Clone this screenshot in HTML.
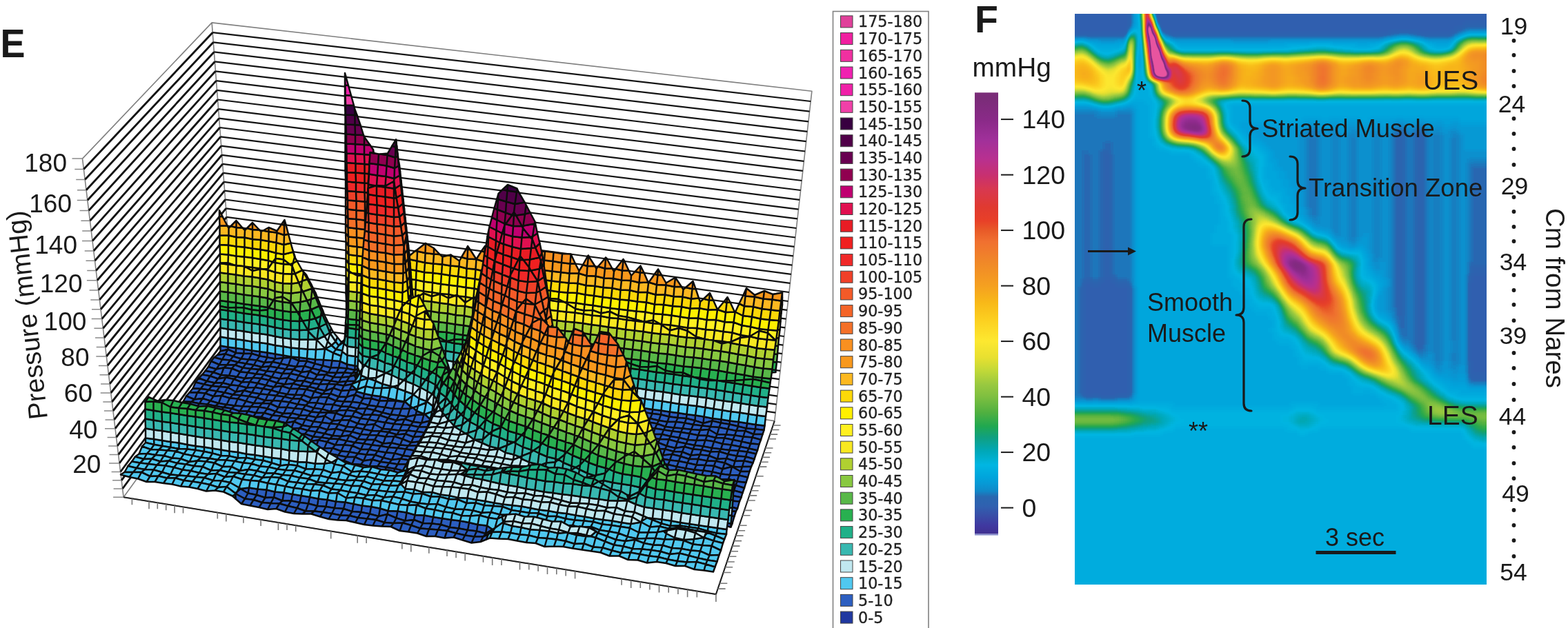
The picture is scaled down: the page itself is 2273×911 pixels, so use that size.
<!DOCTYPE html>
<html lang="en"><head><meta charset="utf-8"><title>Esophageal pressure topography</title>
<style>html,body{margin:0;padding:0;background:#fff;}body{width:2273px;height:911px;overflow:hidden;}svg{display:block;}</style>
</head><body>
<svg width="2273" height="911" viewBox="0 0 2273 911">
<rect width="2273" height="911" fill="#fff"/>
<!-- panel E: 3D surface -->
<path d="M179.1 721.2L342.3 496.3L307.1 32.9L119.5 230.1Z M342.3 496.3L1122.8 610.6L1176.9 132.2L307.1 32.9Z M179.1 721.2L1037.9 862.1L1122.8 610.6L342.3 496.3Z" fill="#fff" stroke="#808080" stroke-width="1.6" stroke-linejoin="round"/>
<path d="M177.6 709.0L341.4 484.7M176.1 696.8L340.5 473.0M174.6 684.5L339.7 461.2M173.1 672.0L338.8 449.4M171.6 659.6L337.8 437.5M170.1 647.0L336.9 425.6M168.6 634.4L336.0 413.6M167.0 621.7L335.1 401.5M165.5 608.9L334.2 389.3M163.9 596.0L333.3 377.1M162.3 583.0L332.3 364.8M160.7 570.0L331.4 352.4M159.1 556.9L330.4 340.0M157.5 543.7L329.5 327.5M155.9 530.4L328.5 314.9M154.3 517.0L327.6 302.3M152.7 503.5L326.6 289.5M151.0 490.0L325.6 276.7M149.4 476.3L324.6 263.9M147.7 462.6L323.7 250.9M146.0 448.8L322.7 237.9M144.3 434.9L321.7 224.8M142.6 420.9L320.7 211.6M140.9 406.8L319.7 198.4M139.2 392.6L318.7 185.0M137.5 378.3L317.6 171.6M135.7 364.0L316.6 158.1M134.0 349.5L315.6 144.5M132.2 334.9L314.5 130.9M130.4 320.3L313.5 117.1M128.6 305.5L312.4 103.3M126.8 290.6L311.4 89.4M125.0 275.7L310.3 75.4M123.2 260.6L309.3 61.3M121.3 245.4L308.2 47.2" fill="none" stroke="#141414" stroke-width="2.9"/>
<path d="M341.4 484.7L1124.2 598.6M340.5 473.0L1125.5 586.6M339.7 461.2L1126.9 574.6M338.8 449.4L1128.3 562.4M337.8 437.5L1129.6 550.2M336.9 425.6L1131.0 537.9M336.0 413.6L1132.4 525.6M335.1 401.5L1133.8 513.1M334.2 389.3L1135.2 500.6M333.3 377.1L1136.7 488.0M332.3 364.8L1138.1 475.4M331.4 352.4L1139.5 462.7M330.4 340.0L1141.0 449.8M329.5 327.5L1142.5 437.0M328.5 314.9L1143.9 424.0M327.6 302.3L1145.4 410.9M326.6 289.5L1146.9 397.8M325.6 276.7L1148.4 384.6M324.6 263.9L1149.9 371.3M323.7 250.9L1151.4 357.9M322.7 237.9L1152.9 344.5M321.7 224.8L1154.4 331.0M320.7 211.6L1156.0 317.3M319.7 198.4L1157.5 303.6M318.7 185.0L1159.1 289.8M317.6 171.6L1160.7 276.0M316.6 158.1L1162.3 262.0M315.6 144.5L1163.8 247.9M314.5 130.9L1165.4 233.8M313.5 117.1L1167.1 219.5M312.4 103.3L1168.7 205.2M311.4 89.4L1170.3 190.8M310.3 75.4L1172.0 176.3M309.3 61.3L1173.6 161.7M308.2 47.2L1175.3 147.0" fill="none" stroke="#141414" stroke-width="2.2"/>
<path d="M179.1 721.2h-15M177.6 709.0h-13M176.1 696.8h-13M174.6 684.5h-13M173.1 672.0h-15M171.6 659.6h-13M170.1 647.0h-13M168.6 634.4h-13M167.0 621.7h-15M165.5 608.9h-13M163.9 596.0h-13M162.3 583.0h-13M160.7 570.0h-15M159.1 556.9h-13M157.5 543.7h-13M155.9 530.4h-13M154.3 517.0h-15M152.7 503.5h-13M151.0 490.0h-13M149.4 476.3h-13M147.7 462.6h-15M146.0 448.8h-13M144.3 434.9h-13M142.6 420.9h-13M140.9 406.8h-15M139.2 392.6h-13M137.5 378.3h-13M135.7 364.0h-13M134.0 349.5h-15M132.2 334.9h-13M130.4 320.3h-13M128.6 305.5h-13M126.8 290.6h-15M125.0 275.7h-13M123.2 260.6h-13M121.3 245.4h-13M119.5 230.1h-15" fill="none" stroke="#8a8a8a" stroke-width="1.5"/>
<g transform="scale(0.5)" stroke="#0c0c0c" stroke-width="5.0" stroke-linejoin="round">
<path fill="#20b088" d="M2249 1074l0 6-26 2 1-11z"/>
<path fill="#28b050" d="M2252 1051l-3 23-25-3 2-23z"/>
<path fill="#58b848" d="M2254 1028l-2 23-26-3 2-23z"/>
<path fill="#88c840" d="M2256 1004l-2 24-26-3 2-24z"/>
<path fill="#b0d030" d="M2258 981l-2 23-26-3 3-23z"/>
<path fill="#f8e820" d="M2261 957l-3 24-25-3 2-24z"/>
<path fill="#fff020" d="M2263 933l-2 24-26-3 2-24z"/>
<path fill="#fff000" d="M2265 909l-2 24-26-3 2-24z"/>
<path fill="#fcd808" d="M2241 888l13-5 14 1-3 25-26-3z"/>
<path fill="#fcb820" d="M2254 883l14-6 0 7z"/>
<path fill="#50c8f0" d="M973 991l9 12 8-10-12-15zM982 1003l13-9 8-12-13 11z"/>
<path fill="#c0e8f0" d="M956 965l1 2 9-4-6-11zM957 967l16 24 5-13-12-15zM995 994l9-6 8-14-9 8z"/>
<path fill="#38b8b0" d="M946 939l10 26 4-13-13-25z"/>
<path fill="#20b088" d="M935 908l5 4-4-11zM935 914l11 25 1-12-7-15-5-4z"/>
<path fill="#28b050" d="M925 888l7 17 3 3 1-7-11-26zM932 905l3 9 0-6z"/>
<path fill="#58b848" d="M915 863l10 25 0-13-10-25z"/>
<path fill="#88c840" d="M905 837l0 1 10 12-13-26zM905 838l10 25 0-13z"/>
<path fill="#b0d030" d="M891 810l14 27-3-13-13-25-1-1z"/>
<path fill="#f8e820" d="M876 784l4 6 8 8 0-1-24-26 0-1zM880 790l11 20-3-12z"/>
<path fill="#fff000" d="M850 731l4 15 3 7-2-9-9-26z"/>
<path fill="#fcb820" d="M2268 864l0 13-14 6-13 0 0-19z"/>
<path fill="#f8981c" d="M2241 854l27-5 0 15-27 0z"/>
<path fill="#50c8f0" d="M961 1002l13 12 8-11-9-12zM974 1014l23 4 4-18-6-6-13 9z"/>
<path fill="#c0e8f0" d="M941 975l9 16 7-24-1-2zM950 991l11 11 12-11-16-24zM1001 1000l3-12-9 6z"/>
<path fill="#38b8b0" d="M926 949l15 26 15-10-10-26z"/>
<path fill="#20b088" d="M914 924l11 23 5-30zM925 947l1 2 20-10-11-25-5 3z"/>
<path fill="#28b050" d="M902 898l12 26 16-7 2-12-7-17zM935 914l-3-9-2 12z"/>
<path fill="#58b848" d="M890 872l9 20 3-24zM899 892l3 6 23-10-10-25-13 5zM1004 912l1-24-1-13 0 24z"/>
<path fill="#88c840" d="M878 846l12 26 12-4 3-30 0-1zM915 863l-10-25-3 30zM1005 888l2-24-4-13 1 24z"/>
<path fill="#b0d030" d="M866 820l7 17 3-22zM873 837l5 9 27-9-14-27-15 5zM1007 864l1-24-5-14 0 25zM2093 997l18-4-17-3zM2070 988l23 9 1-7z"/>
<path fill="#f8e820" d="M709 773l23 13 0-10zM732 786l22-5 0-2-22-3zM855 794l11 26 10-5 4-25-4-6zM891 810l-11-20-4 25zM1008 840l2-25-7-14 0 25zM1180 850l24 16 1-26-24-3zM1204 866l24-15 0-6-23-5zM1228 851l24 9 1-12-25-3zM1252 860l24-7 0-1-23-4zM1276 853l24 12 1-11-25-2zM1300 865l19-7-18-4zM1329 859l20 19 1-17zM1349 878l21-13-20-4zM2146 980l27-3 0-1-26-4zM2119 992l27-12 1-8-24-7zM2111 993l8-1 4-27-26-3-3 28zM2068 987l2 1 24 2 3-28-25-4zM2055 986l13 1 4-29-26-2-3 28zM2018 977l21 6 4 1 3-28-25-4zM1993 960l25 17 3-25-27-1zM1968 952l25 8 1-9-25-4zM1942 959l26-7 1-5-25-4zM1918 943l24 16 2-16-26-2z"/>
<path fill="#fff020" d="M638 763l23 0 1-24-24-2zM661 763l17 6 7 1 0-27-23-4zM702 772l6 1 0-28-23-2 0 27zM708 773l1 0 23 3 0-28-24-3zM754 779l1-27-23-4 0 28zM764 781l13-1 1-24-23-4-1 27zM777 780l14-20-13-4zM840 767l7 5 2-8zM847 772l8 22 21-10-15-27-12 7zM1010 815l2-25-9-13 0 24zM1020 792l16 8 0-6zM1036 800l24-1 0-2-24-3zM1205 840l1-28-24-3-1 28zM1228 845l1-28-23-5-1 28zM1253 848l1-28-25-3-1 28zM1276 852l2-28-24-4-1 28zM1301 854l1-27-24-3-2 28zM1319 858l6-2 1-26-24-3-1 27zM1325 856l4 3 21 2 1-27-25-4zM1370 865l3-2 2-26-24-3-1 27zM1373 863l24 0 2-21-24-5zM2226 966l22 21 2 0 4-28-27-2zM2201 960l25 6 1-9-26-3zM2174 976l27-16 0-6-25-6-3 28zM2173 976l3-28-25-4-4 28zM2147 972l4-28-24-9-4 30zM2123 965l4-30-26-1-4 28zM2097 962l4-28-25-6-4 30zM2072 958l4-30-27 0-3 28zM2046 956l3-28-25-5-3 29zM2021 952l3-29-27 0-3 28zM1994 951l3-28-25-4-3 28zM1969 947l3-28-25-4-3 28zM1944 943l3-28-26-3-3 29zM1894 929l20 11 4 1 3-29-26-2zM1868 934l26-5 1-19-24-5zM1843 927l25 7 3-29-26-2zM1818 920l25 7 2-24-25-3zM1793 916l25 4 2-20-25-3zM1768 904l25 12 2-19-26-3zM1743 909l25-5 1-10-25-4zM1718 900l25 9 1-19-25-4zM1693 901l25-1 1-14-24-3zM1668 896l25 5 2-18-25-4zM1644 881l24 15 2-17-26-2zM1635 876l9 5 0-4z"/>
<path fill="#fff000" d="M662 739l0-28-25-1 1 27zM685 743l0-28-23-4 0 28zM708 745l1-28-24-2 0 28zM732 748l0-27-23-4-1 28zM755 752l0-28-23-3 0 27zM778 756l0-28-23-4 0 28zM791 760l8-10 1-16-22-6 0 28zM799 750l23 3 0-15-22-4zM822 753l18 14 9-3 5-18-4-15-28 7zM861 757l-7-11-5 18zM1012 790l0-3-1-22-8-13 0 25zM1012 787l8 5 16 2-1-26-24-3zM1060 797l-1-26-24-3 1 26zM1206 812l1-27-23-4-2 28zM1229 817l1-27-23-5-1 27zM1254 820l1-28-25-2-1 27zM1278 824l2-29-25-3-1 28zM1302 827l2-28-24-4-2 29zM1326 830l2-28-24-3-2 28zM1351 834l1-28-24-4-2 28zM1375 837l2-28-25-3-1 28zM1399 842l1-28-23-5-2 28zM2254 959l4-29-27-2-4 29zM2227 957l4-29-26-3-4 29zM2201 954l4-29-25-6-4 29zM2176 948l4-29-26-3-3 28zM2151 944l3-28-22-11-1 2-4 28zM2127 935l4-28-1-2-26 1-3 28zM2101 934l3-28-24-8-4 30zM2076 928l4-30-27 1-4 29zM2049 928l4-29-25-5-4 29zM2024 923l4-29-27 1-4 28zM1997 923l4-28-25-5-4 29zM1972 919l4-29-26-2-3 27zM1947 915l3-27-26-4-3 28zM1921 912l3-28-26-1-3 27zM1895 910l3-27-24-6-3 28zM1871 905l3-28-26-2-3 28zM1845 903l3-28-25-4-3 29zM1820 900l3-29-26-2-2 28zM1795 897l2-28-25-4-3 29zM1769 894l3-29-25-3-3 28zM1744 890l3-28-25-4-3 28zM1719 886l3-28-25-3-2 28zM1695 883l2-28-24-5-3 29zM1670 879l3-29-27-1-2 28zM1619 868l16 8 9 1 2-28-25-2zM1595 866l24 2 2-21-25-4zM1570 859l25 7 1-23-25-3z"/>
<path fill="#fcd808" d="M662 711l1-28-26 0 0 27zM685 715l0-27-22-5-1 28zM709 717l0-28-24-1 0 27zM732 721l0-27-23-5 0 28zM755 724l1-28-24-2 0 27zM778 728l1-28-23-4-1 28zM800 734l1-30-22-4-1 28zM822 738l1-28-22-6-1 30zM850 731l-7-26-20 5-1 28zM1011 765l0-26-8-13 0 26zM1035 768l0-26-24-3 0 26zM1059 771l0-26-24-3 0 26zM1207 785l2-28-24-5-1 29zM1230 790l2-28-23-5-2 28zM1255 792l1-27-24-3-2 28zM1280 795l2-28-26-2-1 27zM1304 799l2-28-24-4-2 28zM1328 802l3-29-25-2-2 28zM1352 806l1-27-22-6-3 29zM1377 809l2-28-26-2-1 27zM1400 814l2-27-23-6-2 28zM2258 930l3-28-26-3-4 29zM2231 928l4-29-26-3-4 29zM2205 925l4-29-25-6-4 29zM2180 919l4-29-26-2-4 28zM2154 916l4-28-15-7-11 24zM2130 905l-13-28-10 1-3 28zM2104 906l3-28-8-3-19 23zM2080 898l-12-27-12 0-3 28zM2053 899l3-28-16-4-10 9-2 18zM2028 894l2-18-4-11-22 2-3 28zM2001 895l3-28-25-6-3 29zM1976 890l3-29-26-1-3 28zM1950 888l3-28-25-5-4 29zM1924 884l4-29-27 0-3 28zM1898 883l3-28-24-7-3 29zM1874 877l3-29-27 0-2 27zM1848 875l2-27-24-6-3 29zM1823 871l3-29-27-1-2 28zM1797 869l2-28-24-5-3 29zM1772 865l3-29-26-2-2 28zM1747 862l2-28-24-4-3 28zM1722 858l3-28-26-2-2 27zM1697 855l2-27-24-6-2 28zM1673 850l2-28-26-1-3 28zM1646 849l3-28-26-3-2 29zM1621 847l2-29-24-3-3 28zM1596 843l3-28-25-3-3 28z"/>
<path fill="#fcb820" d="M663 683l0-21-4-7-22 0 0 28zM685 688l0-28-16-4-6 6 0 21zM709 689l1-21-7-7-18-1 0 28zM732 694l0-28-16-4-6 6-1 21zM756 696l1-24-5-5-20-1 0 28zM779 700l0-28-16-3-6 3-1 24zM801 704l2-29-24-3 0 28zM823 710l1-28-21-7-2 29zM843 705l-7-26-12 3-1 28zM1011 739l-1-26-7-12 0 25zM1035 742l0-26-25-3 1 26zM1059 745l0-26-24-3 0 26zM1209 757l1-28-6-1-18 15-1 9zM1232 762l1-28-23-5-1 28zM1256 765l2-28-25-3-1 28zM1282 767l1-22-8-7-17-1-2 28zM1306 771l1-29-8-1-16 4-1 22zM1331 773l1-16-20-14-5-1-1 29zM1353 779l2-28-17-5-6 11-1 16zM1379 781l2-29-26-1-2 28zM1402 787l1-28-22-7-2 29zM2261 902l4-29-26-4-4 30zM2235 899l4-30-26-2-4 29zM2209 896l4-29-25-6-4 29zM2184 890l4-29-27-2-3 29zM2158 888l3-29-6-3-12 25zM2117 877l-8-15-2 16zM2107 878l2-16-10 13zM2068 871l-10-21-2 21zM2056 871l2-21-18 17zM2026 865l-9-27-10 0-3 29zM2004 867l3-29-19-4-7 6-2 21zM1979 861l2-21-5-8-21 0-2 28zM1953 860l2-28-24-5-3 28zM1928 855l3-28-27-1-3 29zM1901 855l3-29-23-7-1 2-3 27zM1877 848l3-27-1-2-26 1-3 28zM1850 848l3-28-24-6-3 28zM1826 842l3-28-27-1-3 28zM1799 841l3-28-24-5-3 28zM1775 836l3-28-27-1-2 27zM1749 834l2-27-24-6-2 29zM1725 830l2-29-26-1-2 28zM1699 828l2-28-23-7-3 29zM1675 822l3-29-27 0-2 28zM1649 821l2-28-25-3-3 28zM1623 818l3-28-25-3-2 28zM1599 815l2-28-25-3-2 28z"/>
<path fill="#f8981c" d="M659 655l-14-27-9 0 1 27zM685 660l0-20-16 16zM703 661l-18-21 0 20zM732 666l0-20-16 16zM752 667l-20-21 0 20zM779 672l0-12-16 9zM803 675l0-5-24-10 0 12zM824 682l0-29-8-2-13 19 0 5zM836 679l-7-27-5 1 0 29zM1010 713l0-26-8-11 1 25zM1035 716l-1-27-24-2 0 26zM1059 719l0-27-25-3 1 27zM1210 729l0-5-6 4zM1233 734l1-27-1-1-23 18 0 5zM1258 737l0-17-23-13-1 0-1 27zM1275 738l-17-18 0 17zM1307 742l0-3-8 2zM1312 743l-5-4 0 3zM1355 751l1-27-4-2-14 24zM1381 752l-18-28-7 0-1 27zM1403 759l2-28-9-3-15 24zM2265 873l3-24-27 5-2 15zM2239 869l2-15-25-10-3 23zM2213 867l3-23-28 12 0 5zM2188 861l0-5-24-20-3 23zM2161 859l3-23-9 20zM2017 838l-8-22-2 22zM2007 838l2-22-21 18zM1976 832l-18-27-3 27zM1955 832l3-27-27 16 0 6zM1931 827l0-6-13-23-11 0-3 28zM1904 826l3-28-9-3-17 24zM1879 819l-12-28-11 0-3 29zM1853 820l3-29-15-3-11 12-1 14zM1829 814l1-14-7-15-19 0-2 28zM1802 813l2-28-19-5-5 8-2 20zM1778 808l2-20-5-9-21 0-3 28zM1751 807l3-28-20-6-5 7-2 21zM1727 801l2-21-4-8-22 0-2 28zM1701 800l2-28-13-4-11 18-1 7zM1678 793l1-7-11-21-15 0-2 28zM1651 793l2-28-25-3-2 28zM1626 790l2-28-25-4-2 29zM1601 787l2-29-25-3-2 29zM1576 784l2-29-25-4-2 28z"/>
<path fill="#f89020" d="M645 628l-9-18 0 18zM824 653l1-15-9 13zM829 652l-4-14-1 15zM1010 687l-1-27-7-10 0 26zM1034 689l0-26-25-3 1 27zM1059 692l-1-26-24-3 0 26zM1234 707l0-1-1 0zM1235 707l-1-1 0 1zM1356 724l0-10-4 8zM1363 724l-7-10 0 10zM1405 731l1-17-10 14zM1430 733l0-5-24-14-1 17zM1918 798l-10-17-1 17zM1907 798l1-17-10 14zM1867 791l-10-20-1 20zM1856 791l1-20-16 17zM1823 785l-13-28-3 0-3 28zM1804 785l3-28-3-1-19 24zM1775 779l-16-29-3 0-2 29zM1754 779l2-29-2 0-20 23zM1725 772l-18-28-1 0-3 28zM1703 772l3-28-2-1-14 25zM1668 765l-13-28-2 28zM1653 765l2-28-25-1-2 26zM1628 762l2-26-25-4-2 26zM1603 758l2-26-25-3-2 26zM1578 755l2-26-25 3-2 19z"/>
<path fill="#f47028" d="M1009 660l0-26-7-10 0 26zM1034 663l-1-27-24-2 0 26zM1058 666l0-27-25-3 1 27zM1083 668l0-26-25-3 0 27zM1810 757l-3-5 0 5zM1807 757l0-5-3 4zM1759 750l-3-3 0 3zM1756 750l0-3-2 3zM1707 744l-1-3 0 3zM1706 744l0-3-2 2z"/>
<path fill="#f46428" d="M1009 634l-1-27-6-9 0 26zM1033 636l0-26-25-3 1 27zM1058 639l0-27-25-2 0 26zM1083 642l0-27-25-3 0 27z"/>
<path fill="#f45a28" d="M1008 607l0-26-6-9 0 26zM1033 610l0-27-25-2 0 26zM1058 612l0-27-25-2 0 27zM1083 615l0-27-25-3 0 27z"/>
<path fill="#f04028" d="M1008 581l-1-27-5-8 0 26zM1033 583l-1-27-25-2 1 27zM1058 585l-1-27-25-2 1 27zM1083 588l-1-28-25-2 1 27z"/>
<path fill="#f02828" d="M1007 554l-1-27-4-7 0 26zM1032 556l0-27-26-2 1 27zM1057 558l0-27-25-2 0 27zM1082 560l0-27-25-2 0 27z"/>
<path fill="#f02020" d="M1006 527l0-27-5-7 1 27zM1032 529l-1-28-25-1 0 27zM1057 531l0-28-26-2 1 28zM1082 533l0-27-25-3 0 28z"/>
<path fill="#e81c24" d="M1006 500l-1-28-4-6 0 27zM1031 501l0-27-26-2 1 28zM1057 503l0-27-26-2 0 27zM1082 506l0-28-25-2 0 27z"/>
<path fill="#e01050" d="M1005 472l0-27-4-6 0 27zM1031 474l-1-28-25-1 0 27zM1057 476l-1-28-26-2 1 28zM1082 478l0-28-26-2 1 28z"/>
<path fill="#c00070" d="M1005 445l-1-28-3-5 0 27zM1030 446l0-28-26-1 1 28zM1056 448l0-28-26-2 0 28zM1082 450l0-16-9-13-17-1 0 28zM1085 450l-3-16 0 16z"/>
<path fill="#900050" d="M1004 417l0-28-3-4 0 27zM1030 418l0-27-26-2 0 28zM1056 420l0-23-2-5-24-1 0 27zM1073 421l-17-24 0 23z"/>
<path fill="#680050" d="M1004 389l-1-28-2-3 0 27zM1030 391l-1-29-26-1 1 28zM1054 392l-9-29-16-1 1 29z"/>
<path fill="#500048" d="M1003 361l-1-28-1-3 0 28zM1029 362l0-28-27-1 1 28zM1045 363l-10-29-6 0 0 28z"/>
<path fill="#380040" d="M1002 333l0-28-2-2 1 27zM1029 334l-1-19-2-9-24-1 0 28zM1035 334l-7-19 1 19z"/>
<path fill="#f040a8" d="M1002 305l-1-29-1-1 0 28zM1026 306l-8-29-17-1 1 29z"/>
<path fill="#f020a8" d="M1001 276l0-29-1 0 0 28zM1018 277l-8-29-9-1 0 29z"/>
<path fill="#f020b0" d="M1001 247l-1-29 0 29zM1010 248l-8-29-2-1 1 29z"/>
<path fill="#f030a0" d="M1002 219l-2-7 0 6z"/>
<path fill="#50c8f0" d="M943 1012l23 12 8-10-13-12zM966 1024l23 9 8-15-23-4z"/>
<path fill="#c0e8f0" d="M918 986l25 26 7-21-9-16-22 10zM943 1012l18-10-11-11z"/>
<path fill="#38b8b0" d="M894 962l23 23 2 0 5-35-30 7zM941 975l-15-26-2 1-5 35zM997 997l5-24-1-13-2 24z"/>
<path fill="#20b088" d="M877 931l15 26 2 0 3-29zM924 950l1-3-11-23-17 4-3 29zM926 949l-1-2-1 3zM1002 973l5-23-5-14-1 24zM2054 1104l25 0-25-4zM2029 1100l25 4 0-4-25-4zM2011 1094l18 6 0-4z"/>
<path fill="#28b050" d="M638 888l23 5 0-18-23-3zM661 893l23-1 0-14-23-3zM684 892l23 1 0-11-23-4zM707 893l23 6 0-14-23-3zM730 899l23 2 0-13-23-3zM753 901l23-2 0-7-23-4zM776 899l3-6-3-1zM862 905l7 12 0-13zM869 917l8 14 20-3 2-29-30 5zM914 924l-12-26-3 1-2 29zM1007 950l2-8 0-17-5-13-2 24zM1009 942l24 1 0-15-24-3zM1033 943l23 3 0-14-23-4zM1246 973l24 4 0-15-23-4zM1270 977l24 14 1-27-25-2zM1294 991l23-6 1-17-23-4zM1317 985l24 0 1-13-24-4zM1341 985l25 8 1-18-25-3zM2208 1105l25 6 2-12-26-3zM2183 1100l25 5 1-9-26-3zM2157 1102l26-2 0-7-25-5zM2131 1104l26-2 1-14-25-4zM2105 1105l26-1 2-20-25-4zM2086 1105l19 0 3-25-25-5-4 29zM2079 1104l4-29-25-3-4 28zM2054 1100l4-28-25-4-4 28zM2004 1092l7 2 18 2 4-28-26-3zM1980 1081l24 11 3-27-25-2zM1954 1080l26 1 2-18-25-4zM1929 1075l25 5 3-21-25-4zM1905 1062l24 13 3-20-26-2zM1880 1065l25-3 1-9-25-4zM1855 1064l25 1 1-16-24-4zM1830 1056l25 8 2-19-26-3zM1806 1047l24 9 1-14-25-3z"/>
<path fill="#58b848" d="M661 875l0-27-23-3 0 27zM684 878l0-27-23-3 0 27zM707 882l0-27-23-4 0 27zM730 885l1-27-24-3 0 27zM753 888l0-27-22-3-1 27zM776 892l0-27-23-4 0 27zM779 893l14-22-17-6 0 27zM845 879l17 26 7-1 2-28zM899 899l0-7-9-20-19 4-2 28zM902 898l-3-6 0 7zM1009 925l1-27-5-10-1 24zM1033 928l1-27-24-3-1 27zM1056 932l1-27-23-4-1 27zM1270 962l2-28-24-3-1 27zM1295 964l1-27-24-3-2 28zM1318 968l2-27-24-4-1 27zM1342 972l2-28-24-3-2 27zM1367 975l1-27-24-4-2 28zM2235 1099l4-28-26-2-4 27zM2209 1096l4-27-26-4-4 28zM2183 1093l4-28-25-5-4 28zM2158 1088l4-28-25-4-4 28zM2133 1084l4-28-25-5-4 29zM2108 1080l4-29-25-4-4 28zM2083 1075l4-28-26-3-3 28zM2058 1072l3-28-25-4-3 28zM2033 1068l3-28-25-3-4 28zM2007 1065l4-28-26-2-3 28zM1982 1063l3-28-25-4-3 28zM1957 1059l3-28-25-4-3 28zM1932 1055l3-28-26-2-3 28zM1906 1053l3-28-25-4-3 28zM1881 1049l3-28-25-4-2 28zM1857 1045l2-28-25-3-3 28zM1831 1042l3-28-25-3-3 28zM1806 1039l3-28-25-3-2 27zM1732 1028l3-27-25-4-3 28zM1658 1017l3-27-25-3-3 27z"/>
<path fill="#88c840" d="M661 848l0-27-23-3 0 27zM684 851l0-27-23-3 0 27zM707 855l0-27-23-4 0 27zM731 858l0-28-24-2 0 27zM753 861l1-27-23-4 0 28zM776 865l1-27-23-4-1 27zM793 871l4-6 0-20-20-7-1 27zM797 865l22-4 1-12-23-4zM819 861l24 15 1-25-24-2zM843 876l2 3 26-3 2-29-29 4zM890 872l-12-26-5 1-2 29zM1010 898l0-26-3-8-2 24zM1034 901l0-26-24-3 0 26zM1057 905l1-27-24-3 0 26zM1248 931l2-28-25-3-1 28zM1272 934l1-27-23-4-2 28zM1296 937l2-28-25-2-1 27zM1320 941l1-27-23-5-2 28zM1344 944l2-28-25-2-1 27zM1368 948l2-27-24-5-2 28zM2239 1071l3-28-26-2-3 28zM2213 1069l3-28-25-3-4 27zM2187 1065l4-27-25-6-4 28zM2162 1060l4-28-26-4-3 28zM2137 1056l3-28-25-5-3 28zM2112 1051l3-28-25-4-3 28zM2087 1047l3-28-25-3-4 28zM2061 1044l4-28-26-4-3 28zM2036 1040l3-28-25-3-3 28zM2011 1037l3-28-26-2-3 28zM1985 1035l3-28-25-4-3 28zM1960 1031l3-28-25-4-3 28zM1935 1027l3-28-26-2-3 28zM1909 1025l3-28-25-3-3 27zM1884 1021l3-27-25-4-3 27zM1859 1017l3-27-25-3-3 27zM1834 1014l3-27-25-3-3 27zM1809 1011l3-27-25-4-3 28zM1784 1008l3-28-25-3-3 27zM1735 1001l2-28-25-3-2 27zM1710 997l2-27-24-4-3 28zM1661 990l2-28-25-2-2 27zM1636 987l2-27-25-3-2 27z"/>
<path fill="#b0d030" d="M661 821l0-27-23-3 0 27zM684 824l0-27-23-3 0 27zM707 828l0-27-23-4 0 27zM731 830l0-27-24-2 0 27zM754 834l0-27-23-4 0 27zM777 838l0-27-23-4 0 27zM797 845l0-27-20-7 0 27zM820 849l0-27-23-4 0 27zM844 851l1-28-25-1 0 27zM873 847l0-10-7-17-21 3-1 28zM878 846l-5-9 0 10zM1010 872l1-27-3-5-1 24zM1034 875l1-27-24-3-1 27zM1058 878l0-27-23-3-1 27zM1250 903l1-28-24-2-2 27zM1273 907l2-28-24-4-1 28zM1298 909l1-27-24-3-2 28zM1321 914l2-27-24-5-1 27zM1346 916l2-28-25-1-2 27zM1370 921l1-28-23-5-2 28zM1394 924l1-27-24-4-1 28zM2242 1043l4-28-26-2-4 28zM2216 1041l4-28-26-3-3 28zM2191 1038l3-28-25-6-3 28zM2166 1032l3-28-25-4-4 28zM2140 1028l4-28-25-5-4 28zM2115 1023l4-28-8-2-18 4-3 22zM2090 1019l3-22-23-9-2-1-3 29zM2065 1016l3-29-13-1-12-2-4 28zM2039 1012l4-28-4-1-22-2-3 28zM2014 1009l3-28-26-2-3 28zM1988 1007l3-28-25-3-3 27zM1963 1003l3-27-25-5-3 28zM1938 999l3-28-26-2-3 28zM1912 997l3-28-25-3-3 28zM1887 994l3-28-25-4-3 28zM1862 990l3-28-25-3-3 28zM1837 987l3-28-26-3-2 28zM1812 984l2-28-25-4-2 28zM1787 980l2-28-25-3-2 28zM1762 977l2-28-24-4-3 28zM1737 973l3-28-25-3-3 28zM1712 970l3-28-25-4-2 28zM1688 966l2-28-25-3-2 27zM1663 962l2-27-25-2-2 27zM1638 960l2-27-25-3-2 27zM1613 957l2-27-25-4-2 28z"/>
<path fill="#f8e820" d="M661 794l0-27-23-3 0 27zM684 797l1-26-7-2-17-2 0 27zM707 801l1-28-6-1-17-1-1 26zM731 803l1-17-23-13-1 0-1 28zM754 807l0-26-22 5-1 17zM777 811l0-28-13-2-10 0 0 26zM797 818l1-28-21-7 0 28zM820 822l1-28-23-4-1 28zM845 823l1-28-25-1-1 28zM866 820l-11-26-9 1-1 28zM1011 845l0-27-1-3-2 25zM1035 848l0-28-24-2 0 27zM1058 851l1-27-24-4 0 28zM1227 873l1-22-24 15 0 1zM1251 875l1-15-24-9-1 22zM1275 879l1-26-24 7-1 15zM1299 882l1-17-24-12-1 26zM1323 887l1-28-5-1-19 7-1 17zM1348 888l1-10-20-19-5 0-1 28zM1371 893l2-27-3-1-21 13-1 10zM1395 897l2-28-24-3-2 27zM2246 1015l4-27-2-1-24-2-4 28zM2220 1013l4-28-26-3-4 28zM2194 1010l4-28-24-6-1 1-4 27zM2169 1004l4-27-27 3-2 20zM2144 1000l2-20-27 12 0 3zM2119 995l0-3-8 1zM2039 983l-21-6-1 4zM2017 981l1-4-25-17-2 19zM1991 979l2-19-25-8-2 24zM1966 976l2-24-26 7-1 12zM1941 971l1-12-24-16-3 26zM1915 969l3-26-4-3-21-2-3 28zM1890 966l3-28-25-4-3 28zM1865 962l3-28-26-3-2 28zM1840 959l2-28-25-3-3 28zM1814 956l3-28-25-4-3 28zM1789 952l3-28-25-2-3 27zM1764 949l3-27-25-5-2 28zM1740 945l2-28-25-2-2 27zM1715 942l2-27-25-4-2 27zM1690 938l2-27-25-4-2 28zM1665 935l2-28-25-2-2 28zM1640 933l2-28-25-3-2 28zM1615 930l2-28-25-3-2 27z"/>
<path fill="#fff020" d="M661 767l0-4-23 0 0 1zM678 769l-17-6 0 4zM777 783l0-3-13 1zM798 790l0-28-7-2-14 20 0 3zM821 794l1-28-24-4 0 28zM846 795l1-23-7-5-18-1-1 28zM855 794l-8-22-1 23zM1011 818l1-27 0-1-2 25zM1035 820l1-20-16-8-8-1-1 27zM1059 824l1-25-24 1-1 20zM1324 859l1-3-6 2zM1329 859l-4-3-1 3zM1373 866l0-3-3 2zM1397 869l0-6-24 0 0 3zM2248 987l-22-21-2 19zM2224 985l2-19-25-6-3 22zM2198 982l3-22-27 16zM1914 940l-20-11-1 9zM1893 938l1-9-26 5zM1868 934l-25-7-1 4zM1842 931l1-4-25-7-1 8zM1817 928l1-8-25-4-1 8zM1792 924l1-8-25-12-1 18zM1767 922l1-18-25 5-1 8zM1742 917l1-8-25-9-1 15zM1717 915l1-15-25 1-1 10zM1692 911l1-10-25-5-1 11zM1667 907l1-11-24-15-2 24zM1642 905l2-24-9-5-16-1-2 27zM1617 902l2-27-25-4-2 28zM1592 899l2-28-25-3-2 28z"/>
<path fill="#fff000" d="M798 762l1-12-8 10zM822 766l0-13-23-3-1 12zM840 767l-18-14 0 13zM1020 792l-8-5 0 4zM1635 876l-16-8 0 7zM1619 875l0-7-24-2-1 5zM1594 871l1-5-25-7-1 9z"/>
<path fill="#2c5ec0" d="M639 1019l22-5 0-7-22-4zM661 1014l23 10 0-14-23-3zM684 1024l23 2 0-13-23-3zM707 1026l23 0 0-9-23-4zM730 1026l23 7 0-13-23-3zM753 1033l22 4 0-14-22-3zM775 1037l23 4 0-14-23-4zM798 1041l23-2 0-8-23-4zM821 1039l23-2 0-2-23-4zM844 1037l23 10 0-10-23-2zM867 1047l23 1 0-8-23-3zM890 1048l23 7 1-12-24-3zM913 1055l23 6 2-17-24-1zM936 1061l23 6 4-21-25-2zM959 1067l23 0 4-19-23-2zM982 1067l24 2 0-12-20-9zM1006 1069l23 5 0-13-23-4zM1029 1074l23-9-23-4zM2190 1245l25 3 2-13-26-3zM2164 1243l26 2 1-13-25-4zM2140 1237l24 6 2-15-25-4zM2115 1231l25 6 1-13-25-3zM2090 1227l25 4 1-10-25-4zM2065 1221l25 6 1-10-25-3zM2039 1228l26-7 1-7-25-5zM2015 1220l24 8 2-19-25-4zM1990 1214l25 6 1-15-25-3zM1965 1212l25 2 1-12-25-4zM1940 1209l25 3 1-14-24-3zM1916 1203l24 6 2-14-25-4zM1891 1200l25 3 1-12-25-3zM1866 1196l25 4 1-12-25-4z"/>
<path fill="#50c8f0" d="M661 1007l0-26-22-4 0 26zM684 1010l0-26-23-3 0 26zM707 1013l0-26-23-3 0 26zM730 1017l0-26-23-4 0 26zM753 1020l0-26-23-3 0 26zM775 1023l1-26-23-3 0 26zM798 1027l0-25-22-5-1 26zM821 1031l0-26-23-3 0 25zM844 1035l0-26-23-4 0 26zM867 1037l0-26-23-2 0 26zM890 1040l2-27-25-2 0 26zM914 1043l2-29-24-1-2 27zM938 1044l4-32-26 2-2 29zM963 1046l3-22-23-12-1 0-4 32zM986 1048l3-15-23-9-3 22zM1006 1057l1-26-15-11-3 13-3 15zM1029 1061l1-27-23-3-1 26zM1052 1065l1-26-23-5-1 27zM2217 1235l3-27-25-3-4 27zM2191 1232l4-27-25-4-4 27zM2166 1228l4-27-25-4-4 27zM2141 1224l4-27-26-3-3 27zM2116 1221l3-27-25-4-3 27zM2091 1217l3-27-25-4-3 28zM2066 1214l3-28-24-4-4 27zM2041 1209l4-27-25-4-4 27zM2016 1205l4-27-26-3-3 27zM1991 1202l3-27-25-3-3 26zM1966 1198l3-26-24-4-3 27zM1942 1195l3-27-25-4-3 27zM1917 1191l3-27-25-3-3 27zM1892 1188l3-27-25-4-3 27zM1867 1184l3-27-24-4-3 27z"/>
<path fill="#c0e8f0" d="M661 981l0-26-22-4 0 26zM684 984l0-26-23-3 0 26zM707 987l0-26-23-3 0 26zM730 991l0-26-23-4 0 26zM753 994l0-26-23-3 0 26zM776 997l0-26-23-3 0 26zM798 1002l0-26-22-5 0 26zM821 1005l-1-25-22-4 0 26zM844 1009l-1-26-23-3 1 25zM867 1011l1-26-25-2 1 26zM892 1013l1-28-25 0-1 26zM916 1014l2-28-1-1-24 0-1 28zM942 1012l1 0-25-26-2 28zM1007 1031l0-26-10-8-5 23zM1030 1034l1-26-24-3 0 26zM1053 1039l1-27-23-4-1 26zM1313 1076l1-27-23-4-2 27zM1337 1079l1-26-24-4-1 27zM2220 1208l4-27-26-3-3 27zM2195 1205l3-27-25-4-3 27zM2170 1201l3-27-25-4-3 27zM2145 1197l3-27-25-4-4 28zM2119 1194l4-28-25-3-4 27zM2094 1190l4-27-25-4-4 27zM2069 1186l4-27-25-5-3 28zM2045 1182l3-28-25-3-3 27zM2020 1178l3-27-25-3-4 27zM1994 1175l4-27-26-3-3 27zM1969 1172l3-27-24-4-3 27zM1945 1168l3-27-25-4-3 27zM1920 1164l3-27-25-3-3 27zM1895 1161l3-27-25-4-3 27zM1870 1157l3-27-25-4-2 27zM1846 1153l2-27-24-3-3 27z"/>
<path fill="#38b8b0" d="M661 955l0-27-22-3 0 26zM684 958l0-27-23-3 0 27zM707 961l0-26-23-4 0 27zM730 965l0-27-23-3 0 26zM753 968l0-27-23-3 0 27zM776 971l0-26-23-4 0 27zM798 976l-1-26-21-5 0 26zM820 980l0-26-23-4 1 26zM843 983l0-26-23-3 0 26zM868 985l0-27-25-1 0 26zM893 985l1-23-2-5-24 1 0 27zM917 985l-23-23-1 23zM1007 1005l1-27-6-5-5 24zM1031 1008l0-27-23-3-1 27zM1054 1012l1-27-24-4 0 27zM1291 1045l1-27-24-2-2 26zM1314 1049l2-27-24-4-1 27zM1338 1053l1-27-23-4-2 27zM2224 1181l3-27-25-3-4 27zM2198 1178l4-27-25-4-4 27zM2173 1174l4-27-26-4-3 27zM2148 1170l3-27-25-4-3 27zM2123 1166l3-27-25-4-3 28zM2098 1163l3-28-25-4-3 28zM2073 1159l3-28-25-4-3 27zM2048 1154l3-27-25-3-3 27zM2023 1151l3-27-25-4-3 28zM1998 1148l3-28-25-3-4 28zM1972 1145l4-28-25-3-3 27zM1948 1141l3-27-25-4-3 27zM1923 1137l3-27-26-3-2 27zM1898 1134l2-27-24-4-3 27zM1873 1130l3-27-25-4-3 27zM1848 1126l3-27-25-3-2 27z"/>
<path fill="#20b088" d="M661 928l0-27-23-3 1 27zM684 931l0-26-23-4 0 27zM707 935l0-26-23-4 0 26zM730 938l0-26-23-3 0 26zM753 941l0-26-23-3 0 26zM776 945l0-26-23-4 0 26zM797 950l0-26-21-5 0 26zM820 954l0-26-23-4 0 26zM843 957l0-26-23-3 0 26zM868 958l0-26-25-1 0 26zM892 957l-15-26-9 1 0 26zM1008 978l1-27-2-1-5 23zM1031 981l1-26-23-4-1 27zM1055 985l1-27-24-3-1 26zM1292 1018l2-27-25-2-1 27zM1316 1022l1-26-23-5-2 27zM1339 1026l2-27-24-3-1 26zM1363 1029l2-27-24-3-2 27zM2227 1154l4-27-26-3-3 27zM2202 1151l3-27-25-4-3 27zM2177 1147l3-27-25-4-4 27zM2151 1143l4-27-25-4-4 27zM2126 1139l4-27-25-4-4 27zM2101 1135l4-27-19-3-7-1-3 27zM2076 1131l3-27-25 0-3 23zM2051 1127l3-23-25-4-3 24zM2026 1124l3-24-18-6-7-1-3 27zM2001 1120l3-27-25-3-3 27zM1976 1117l3-27-25-4-3 28zM1951 1114l3-28-25-3-3 27zM1926 1110l3-27-26-3-3 27zM1900 1107l3-27-24-4-3 27zM1876 1103l3-27-25-4-3 27zM1851 1099l3-27-25-3-3 27zM1826 1096l3-27-25-3-3 27z"/>
<path fill="#28b050" d="M661 901l0-8-23-5 0 10zM684 905l0-13-23 1 0 8zM707 909l0-16-23-1 0 13zM730 912l0-13-23-6 0 16zM753 915l0-14-23-2 0 13zM776 919l0-20-23 2 0 14zM797 924l0-26-18-5-3 6 0 20zM820 928l0-26-23-4 0 26zM843 931l0-26-23-3 0 26zM868 932l1-15-7-12-19 0 0 26zM877 931l-8-14-1 15zM1009 951l0-9-2 8zM1032 955l1-12-24-1 0 9zM1056 958l0-12-23-3-1 12zM1294 991l-24-14-1 12zM1317 996l0-11-23 6zM1341 999l0-14-24 0 0 11zM1365 1002l1-9-25-8 0 14zM2231 1127l2-16-25-6-3 19zM2205 1124l3-19-25-5-3 20zM2180 1120l3-20-26 2-2 14zM2155 1116l2-14-26 2-1 8zM2130 1112l1-8-26 1 0 3zM2105 1108l0-3-19 0zM2011 1094l-7-2 0 1zM2004 1093l0-1-24-11-1 9zM1979 1090l1-9-26-1 0 6zM1954 1086l0-6-25-5 0 8zM1929 1083l0-8-24-13-2 18zM1903 1080l2-18-25 3-1 11zM1879 1076l1-11-25-1-1 8zM1854 1072l1-8-25-8-1 13zM1829 1069l1-13-24-9-2 19z"/>
<path fill="#58b848" d="M797 898l0-26-4-1-14 22zM820 902l-1-26-22-4 0 26zM843 905l0-26-24-3 1 26zM862 905l-17-26-2 0 0 26z"/>
<path fill="#88c840" d="M797 872l0-7-4 6zM819 876l0-15-22 4 0 7zM843 879l0-3-24-15 0 15zM845 879l-2-3 0 3z"/>
<path fill="#2c5ec0" d="M630 1030l23-3 8-13-22 5zM653 1027l23 7 8-10-23-10zM676 1034l23 7 8-15-23-2zM699 1041l22 2 9-17-23 0zM721 1043l23 2 9-12-23-7zM744 1045l23 7 8-15-22-4zM767 1052l23-2 8-9-23-4zM790 1050l23 5 8-16-23 2zM813 1055l23 5 8-23-23 2zM836 1060l23 4 8-17-23-10zM859 1064l23-2 8-14-23-1zM882 1062l23 7 8-14-23-7zM905 1069l23 5 8-13-23-6zM928 1074l24 7 7-14-23-6zM952 1081l23 1 7-15-23 0zM975 1082l23-1 8-12-24-2zM998 1081l23 2 8-9-23-5zM1021 1083l23-4 8-13 0-1-23 9zM2185 1260l26 0 4-12-25-3zM2160 1250l25 10 5-15-26-2zM2135 1250l25 0 4-7-24-6zM2110 1245l25 5 5-13-25-6zM2085 1240l25 5 5-14-25-4zM2060 1238l25 2 5-13-25-6zM2035 1235l25 3 5-17-26 7zM2010 1232l25 3 4-7-24-8zM1985 1227l25 5 5-12-25-6zM1960 1224l25 3 5-13-25-2zM1935 1224l25 0 5-12-25-3zM1910 1220l25 4 5-15-24-6zM1885 1214l25 6 6-17-25-3zM1860 1214l25 0 6-14-25-4z"/>
<path fill="#fff020" d="M1191 854l2 26 5-13-3-25z"/>
<path fill="#fff000" d="M1189 828l2 26 4-12-2-26z"/>
<path fill="#fcd808" d="M1187 803l2 25 4-12-2-26z"/>
<path fill="#fcb820" d="M1185 777l2 26 4-13-2-26z"/>
<path fill="#f8981c" d="M1183 751l2 26 4-13-2-24 0-1z"/>
<path fill="#f89020" d="M1183 717l4 22 0-1-3-26zM1181 725l2 26 4-12-4-22z"/>
<path fill="#f47028" d="M1180 696l3 21 1-5-3-26zM1179 698l2 27 2-8-3-21z"/>
<path fill="#f46428" d="M1177 672l1 12 2 12 1-10-3-27zM1178 684l1 14 1-2z"/>
<path fill="#f45a28" d="M1174 645l3 27 1-13-3-27z"/>
<path fill="#f04028" d="M1171 618l3 27 1-13-3-27z"/>
<path fill="#f02828" d="M1168 591l3 27 1-13-3-27z"/>
<path fill="#f02020" d="M1165 564l3 27 1-13-3-27z"/>
<path fill="#e81c24" d="M1162 536l3 28 1-13-3-27z"/>
<path fill="#e01050" d="M1159 509l3 27 1-12-3-28z"/>
<path fill="#c00070" d="M1156 481l3 28 1-13-2-17-2-9z"/>
<path fill="#900050" d="M1153 453l3 28 0-11-3-24z"/>
<path fill="#680050" d="M1150 425l3 28 0-7-3-24z"/>
<path fill="#500048" d="M1148 405l2 20 0-3z"/>
<path fill="#2c5ec0" d="M621 1037l23 6 9-16-23 3zM644 1043l23 2 9-11-23-7zM667 1045l23 6 9-10-23-7zM690 1051l23 4 8-12-22-2zM713 1055l23 4 8-14-23-2zM736 1059l23 6 8-13-23-7zM759 1065l23-2 8-13-23 2zM782 1063l23 4 8-12-23-5zM805 1067l23 4 8-11-23-5zM828 1071l23 1 8-8-23-4zM851 1072l23 8 8-18-23 2zM874 1080l23-3 8-8-23-7zM897 1077l23 11 8-14-23-5zM920 1088l23-1 9-6-24-7zM943 1087l24 7 8-12-23-1zM967 1094l23 1 8-14-23 1zM990 1095l23-2 8-10-23-2zM1013 1093l14-4 15-9 2-1-23 4zM2181 1269l25 7 5-16-26 0zM2155 1267l26 2 4-9-25-10zM2130 1263l25 4 5-17-25 0zM2105 1261l25 2 5-13-25-5zM2079 1260l26 1 5-16-25-5zM2055 1246l24 14 6-20-25-2zM2030 1248l25-2 5-8-25-3zM2004 1246l26 2 5-13-25-3zM1979 1243l25 3 6-14-25-5zM1954 1241l25 2 6-16-25-3zM1929 1238l25 3 6-17-25 0zM1905 1229l24 9 6-14-25-4zM1880 1225l25 4 5-9-25-6zM1855 1218l25 7 5-11-25 0z"/>
<path fill="#50c8f0" d="M1027 1089l9-3 6-6z"/>
<path fill="#fff020" d="M1184 866l3 26 6-12-2-26z"/>
<path fill="#fff000" d="M1182 841l2 25 7-12-2-26z"/>
<path fill="#fcd808" d="M1180 815l2 26 7-13-2-25z"/>
<path fill="#fcb820" d="M1177 789l3 26 7-12-2-26z"/>
<path fill="#f8981c" d="M1175 763l2 26 8-12-2-26z"/>
<path fill="#f89020" d="M1173 736l2 27 8-12-2-26z"/>
<path fill="#f47028" d="M1171 716l2 20 8-11-2-27-6 9z"/>
<path fill="#f46428" d="M1166 683l4 27 3-3 5-23-1-12zM1179 698l-1-14-5 23z"/>
<path fill="#f45a28" d="M1162 656l4 27 11-11-3-27z"/>
<path fill="#f04028" d="M1158 629l4 27 12-11-3-27z"/>
<path fill="#f02828" d="M1154 602l4 27 13-11-3-27z"/>
<path fill="#f02020" d="M1149 574l5 28 14-11-3-27z"/>
<path fill="#e81c24" d="M1066 563l1-17 1-11 0-11-1 27zM1067 546l22-7-21-4zM1145 547l4 27 16-10-3-28z"/>
<path fill="#e01050" d="M1068 535l2-30 0-8-2 27zM1089 539l3-1 2-29-24-4-2 30zM1092 538l25 2 2-28-25-3zM1117 540l25-14 1-8-24-6zM1142 526l3 21 17-11-3-27-16 9z"/>
<path fill="#c00070" d="M1070 505l1-31 0-4-1 27zM1094 509l2-32-25-3-1 31zM1119 512l2-31-25-4-2 32zM1143 518l1-30-23-7-2 31zM1159 509l-3-28-12 7-1 30z"/>
<path fill="#900050" d="M1071 474l2-31-2 27zM1096 477l2-30-11-2-14-2-2 31zM1121 481l2-31-20-3-5 0-2 30zM1144 488l2-31-23-7-2 31zM1156 481l-3-28-7 4-2 31z"/>
<path fill="#680050" d="M1087 445l-14-3 0 1zM1123 450l1-5-21 2zM1146 457l1-30-10-4-13 22-1 5zM1153 453l-3-28-3 2-1 30z"/>
<path fill="#500048" d="M1147 427l1-22-11 18zM1150 425l-2-20-1 22z"/>
<path fill="#2c5ec0" d="M612 1048l24 10 8-15-23-6zM636 1058l22 1 9-14-23-2zM658 1059l23 0 9-8-23-6zM681 1059l23 8 9-12-23-4zM704 1067l23 3 9-11-23-4zM727 1070l23 2 9-7-23-6zM750 1072l23 5 9-14-23 2zM773 1077l23 2 9-12-23-4zM796 1079l23 5 9-13-23-4zM819 1084l23 0 9-12-23-1zM842 1084l24 5 8-9-23-8zM866 1089l23 7 8-19-23 3zM889 1096l23 4 8-12-23-11zM912 1100l23 2 8-15-23 1zM935 1102l24 3 8-11-24-7zM959 1105l23 4 8-14-23-1zM982 1109l23-3 8-13-23 2zM1005 1106l24 0 3-9-5-8-14 4zM1029 1106l2-3 1-6zM2176 1287l25 2 5-13-25-7zM2150 1281l26 6 5-18-26-2zM2125 1276l25 5 5-14-25-4zM2100 1271l25 5 5-13-25-2zM2075 1270l25 1 5-10-26-1zM2050 1264l25 6 4-10-24-14zM2024 1263l26 1 5-18-25 2zM1999 1258l25 5 6-15-26-2zM1974 1254l25 4 5-12-25-3zM1949 1251l25 3 5-11-25-2zM1924 1247l25 4 5-10-25-3zM1899 1243l25 4 5-9-24-9zM1874 1240l25 3 6-14-25-4z"/>
<path fill="#50c8f0" d="M1032 1097l4-11-9 3zM1031 1103l13-22-7-15-1 20-4 11z"/>
<path fill="#c0e8f0" d="M1044 1081l7-12 0-12-13-15-1 24zM1051 1069l7-10-7-2z"/>
<path fill="#38b8b0" d="M1051 1057l0-25-12-13-1 23zM1058 1059l15-21 0-1-22-5 0 25z"/>
<path fill="#20b088" d="M1051 1032l0-25-11-12-1 24zM1073 1037l0-25-22-5 0 25zM1075 1037l22-8 0-13-24-4 0 25zM1097 1029l8-12-8-1z"/>
<path fill="#28b050" d="M1051 1007l-1-26-9-11-1 25zM1073 1012l0-25-23-6 1 26zM1097 1016l0-25-24-4 0 25zM1105 1017l14-22-22-4 0 25z"/>
<path fill="#58b848" d="M1050 981l0-26-8-9-1 24zM1073 987l0-26-23-6 0 26zM1097 991l-1-26-23-4 0 26zM1119 995l1-2 0-23-24-5 1 26zM1120 993l10-21-10-2z"/>
<path fill="#88c840" d="M1050 955l0-26-7-8-1 25zM1073 961l-1-25-22-7 0 26zM1096 965l0-25-24-4 1 25zM1120 970l0-26-24-4 0 25zM1130 972l10-23-20-5 0 26z"/>
<path fill="#b0d030" d="M1050 929l0-26-6-6-1 24zM1072 936l0-26-22-7 0 26zM1096 940l0-26-24-4 0 26zM1120 944l-1-26-23-4 0 26zM1140 949l3-6 0-20-24-5 1 26zM1143 943l7-18-7-2z"/>
<path fill="#f8e820" d="M1050 903l0-26-5-5-1 25zM1072 910l0-25-22-8 0 26zM1096 914l0-26-24-3 0 25zM1119 918l0-25-23-5 0 26zM1143 923l0-26-24-4 0 25zM1150 925l10-24-17-4 0 26z"/>
<path fill="#fff020" d="M1050 877l0-26-4-4-1 25zM1072 885l-1-26-21-8 0 26zM1096 888l-1-26-24-3 1 26zM1119 893l0-26-24-5 1 26zM1143 897l0-26-24-4 0 26zM1160 901l6-12 0-13-23-5 0 26zM1166 889l11-10 14 1 1 23-5-11-3-26-18 10z"/>
<path fill="#fff000" d="M1050 851l0-26-3-3-1 25zM1071 859l0-26-21-8 0 26zM1095 862l0-26-24-3 0 26zM1119 867l0-27-24-4 0 26zM1143 871l0-26-24-5 0 27zM1166 876l1-27-24-4 0 26zM1177 879l13-12 1 13-7-14-2-25-15 8-1 27z"/>
<path fill="#fcd808" d="M1050 825l0-27-2-1-1 25zM1071 833l0-26-21-9 0 27zM1095 836l0-26-24-3 0 26zM1119 840l0-26-24-4 0 26zM1143 845l0-26-24-5 0 26zM1167 849l1-28-25-2 0 26zM1182 841l-2-26-12 6-1 28z"/>
<path fill="#fcb820" d="M1050 798l0-27-1 0-1 26zM1071 807l-1-27-20-9 0 27zM1095 810l0-26-25-4 1 27zM1119 814l0-26-24-4 0 26zM1143 819l0-27-24-4 0 26zM1168 821l1-28-26-1 0 27zM1180 815l-3-26-8 4-1 28z"/>
<path fill="#f8981c" d="M1070 780l0-26-19-8-1 23 0 2zM1095 784l-1-27-24-3 0 26zM1119 788l0-27-25-4 1 27zM1143 792l0-26-24-5 0 27zM1169 793l0-27-26 0 0 26zM1177 789l-2-26-6 3 0 27z"/>
<path fill="#f89020" d="M1070 754l0-27-17-7-2 26zM1094 757l0-26-24-4 0 27zM1119 761l-1-27-24-3 0 26zM1143 766l-1-27-24-5 1 27zM1169 766l1-28-28 1 1 27zM1175 763l-2-27-3 2-1 28z"/>
<path fill="#f47028" d="M1070 727l-1-27-14-5-2 25zM1094 731l0-27-25-4 1 27zM1118 734l0-26-24-4 0 27zM1142 739l0-27-24-4 0 26zM1170 738l1-22-1-6-28 2 0 27zM1173 736l-2-20-1 22z"/>
<path fill="#f46428" d="M1069 700l0-27-11-4-3 26zM1094 704l0-27-25-4 0 27zM1118 708l0-27-24-4 0 27zM1142 712l0-27-24-4 0 27zM1170 710l-4-27-24 2 0 27z"/>
<path fill="#f45a28" d="M1069 673l0-27-9-3-2 26zM1094 677l-1-27-24-4 0 27zM1118 681l0-28-25-3 1 27zM1142 685l0-28-24-4 0 28zM1166 683l-4-27-20 1 0 28z"/>
<path fill="#f04028" d="M1069 646l-1-27-6-3-2 27zM1093 650l0-27-25-4 1 27zM1118 653l0-27-25-3 0 27zM1142 657l0-27-24-4 0 27zM1162 656l-4-27-16 1 0 27z"/>
<path fill="#f02828" d="M1068 619l0-27-4-2-2 26zM1093 623l0-28-25-3 0 27zM1118 626l0-27-25-4 0 28zM1142 630l0-28-24-3 0 27zM1158 629l-4-27-12 0 0 28z"/>
<path fill="#f02020" d="M1068 592l0-28-2-1-2 27zM1093 595l-1-27-24-4 0 28zM1118 599l-1-28-25-3 1 27zM1142 602l0-27-25-4 1 28zM1154 602l-5-28-7 1 0 27z"/>
<path fill="#e81c24" d="M1068 564l-1-18-1 17zM1092 568l0-28-3-1-22 7 1 18zM1117 571l0-28-25-3 0 28zM1142 575l0-28-25-4 0 28zM1149 574l-4-27-3 0 0 28z"/>
<path fill="#e01050" d="M1092 540l0-2-3 1zM1117 543l0-3-25-2 0 2zM1142 547l0-21-25 14 0 3zM1145 547l-3-21 0 21z"/>
<path fill="#2c5ec0" d="M604 1064l23 7 9-13-24-10zM627 1071l22-4 9-8-22-1zM649 1067l23 2 9-10-23 0zM672 1069l24 10 8-12-23-8zM696 1079l22 2 9-11-23-3zM718 1081l24 4 8-13-23-2zM742 1085l23 2 8-10-23-5zM765 1087l23 7 8-15-23-2zM788 1094l23 5 8-15-23-5zM811 1099l23-2 8-13-23 0zM834 1097l24 8 8-16-24-5zM858 1105l23 0 8-9-23-7zM881 1105l23 7 8-12-23-4zM904 1112l23 3 8-13-23-2zM927 1115l24-1 8-9-24-3zM951 1114l23 1 8-6-23-4zM974 1115l23 4 8-13-23 3zM997 1119l22-4 3-2 7-7-24 0zM2171 1301l25 6 5-18-25-2zM2146 1296l25 5 5-14-26-6zM2120 1291l26 5 4-15-25-5zM2095 1288l25 3 5-15-25-5zM2070 1281l25 7 5-17-25-1zM2045 1277l25 4 5-11-25-6zM2019 1278l26-1 5-13-26-1zM1994 1276l25 2 5-15-25-5zM1969 1270l25 6 5-18-25-4zM1944 1266l25 4 5-16-25-3zM1919 1260l25 6 5-15-25-4zM1894 1260l25 0 5-13-25-4zM1869 1253l25 7 5-17-25-3z"/>
<path fill="#50c8f0" d="M1021 1114l23-10 3-15-3-8-13 22-9 10zM1044 1104l23-6-20-9z"/>
<path fill="#c0e8f0" d="M1047 1089l4-20-7 12zM1067 1098l3-31-12-8-7 10-4 20zM1069 1098l22-2 2-23-23-6-3 31zM1091 1096l23-11 0-5-21-7zM1114 1085l6-3-6-2z"/>
<path fill="#38b8b0" d="M1070 1067l3-29-15 21zM1093 1073l3-30-21-6-2 1-3 29zM1114 1080l2-28-20-9-3 30zM1120 1082l18-10 0-13-22-7-2 28zM1138 1072l5-11-5-2z"/>
<path fill="#20b088" d="M1096 1043l1-14-22 8zM1116 1052l2-28-13-7-8 12-1 14zM1138 1059l1-27-21-8-2 28zM1143 1061l12-23-16-6-1 27z"/>
<path fill="#28b050" d="M1118 1024l2-29-1 0-14 22zM1139 1032l1-28-20-9-2 29zM1155 1038l6-11 0-14-21-9-1 28zM1161 1027l5-12-5-2z"/>
<path fill="#58b848" d="M1140 1004l1-27-11-5-10 21 0 2zM1161 1013l1-27-21-9-1 27zM1166 1015l10-23-14-6-1 27z"/>
<path fill="#88c840" d="M1141 977l1-27-2-1-10 23zM1162 986l1-27-21-9-1 27zM1176 992l8-17 0-8-21-8-1 27zM1184 975l2-6-2-2z"/>
<path fill="#b0d030" d="M1142 950l1-7-3 6zM1163 959l1-28-14-6-7 18-1 7zM1184 967l2-28-22-8-1 28zM1186 969l10-24-10-6-2 28z"/>
<path fill="#f8e820" d="M1164 931l1-27-5-3-10 24zM1186 939l1-28-22-7-1 27zM1196 945l9-24-18-10-1 28z"/>
<path fill="#fff020" d="M1165 904l1-15-6 12zM1187 911l2-29-12-3-11 10-1 15zM1205 921l2-5 3-25-21-9-2 29zM1207 916l25-13 7 2-9-19-20 5zM1232 903l17 24-7-14-3-8z"/>
<path fill="#fff000" d="M1189 882l1-15-13 12zM1210 891l4-32-4-1-20 9-1 15zM1230 886l-14-27-2 0-4 32z"/>
<path fill="#fcd808" d="M1214 859l0-3-4 2zM1216 859l-2-3 0 3z"/>
<path fill="#2c5ec0" d="M595 1076l23 4 9-9-23-7zM618 1080l23 8 8-21-22 4zM641 1088l23 2 8-21-23-2zM664 1090l23 3 9-14-24-10zM687 1093l23 5 8-17-22-2zM710 1098l23-2 9-11-24-4zM733 1096l23 2 9-11-23-2zM756 1098l23 5 9-9-23-7zM779 1103l24 8 8-12-23-5zM803 1111l23 4 8-18-23 2zM826 1115l23-2 9-8-24-8zM849 1113l23 6 9-14-23 0zM872 1119l24 3 8-10-23-7zM896 1122l23 6 8-13-23-3zM919 1128l24 6 8-20-24 1zM943 1134l23-8 8-11-23-1zM966 1126l24 8 7-15-23-4zM990 1134l23-2 7-15-1-2-22 4zM1013 1132l20-2-13-13zM2166 1311l26 6 4-10-25-6zM2141 1308l25 3 5-10-25-5zM2115 1306l26 2 5-12-26-5zM2090 1303l25 3 5-15-25-3zM2064 1300l26 3 5-15-25-7zM2039 1295l25 5 6-19-25-4zM2014 1292l25 3 6-18-26 1zM1989 1287l25 5 5-14-25-2zM1964 1282l25 5 5-11-25-6zM1939 1275l25 7 5-12-25-4zM1913 1274l26 1 5-9-25-6zM1888 1272l25 2 6-14-25 0z"/>
<path fill="#50c8f0" d="M1020 1117l1-3-2 1zM1033 1130l3 0 8-26-23 10-1 3zM1036 1130l24-9 7-23-23 6zM1060 1121l24 5 5-21-20-7-2 0zM1084 1126l23 0 2-12-20-9zM1107 1126l24-1 1-5-23-6zM1131 1125l9-3-8-2z"/>
<path fill="#c0e8f0" d="M1089 1105l2-9-22 2zM1109 1114l5-29-23 11-2 9zM1132 1120l4-32-16-6-6 3-5 29zM1140 1122l15-4 1-20-20-10-4 32zM1155 1118l16-15-15-5z"/>
<path fill="#38b8b0" d="M1136 1088l2-16-18 10zM1156 1098l2-29-15-8-5 11-2 16zM1171 1103l7-7 1-18-21-9-2 29zM1178 1096l15-14-14-4z"/>
<path fill="#20b088" d="M1158 1069l2-28-5-3-12 23zM1179 1078l1-28-20-9-2 28zM1193 1082l9-8 0-17-22-7-1 28zM1202 1074l8-14-8-3zM1297 1072l2 4 7 5-7-22z"/>
<path fill="#28b050" d="M1160 1041l1-14-6 11zM1180 1050l2-27-16-8-5 12-1 14zM1202 1057l1-27-21-7-2 27zM1210 1060l13-23-20-7-1 27zM1281 1046l16 26 2-13-9-26z"/>
<path fill="#58b848" d="M1182 1023l1-28-7-3-10 23zM1203 1030l1-26-21-9-1 28zM1223 1037l3-5 1-21-23-7-1 26zM1226 1032l24-14 0-2-23-5zM1250 1018l24 15 8-24-1-2-31 9zM1274 1033l7 13 9-13-8-24z"/>
<path fill="#88c840" d="M1183 995l1-20-8 17zM1204 1004l1-28-19-7-2 6-1 20zM1227 1011l1-28-23-7-1 28zM1250 1016l3-30-25-3-1 28zM1281 1007l-9-26-19 5-3 30z"/>
<path fill="#b0d030" d="M1205 976l1-27-10-4-10 24zM1228 983l1-28-23-6-1 27zM1253 986l2-30-26-1-1 28zM1272 981l-10-27-7 2-2 30z"/>
<path fill="#f8e820" d="M1206 949l1-27-2-1-9 24zM1229 955l2-28-24-5-1 27zM1255 956l2-17-8-12-18 0-2 28zM1262 954l-5-15-2 17z"/>
<path fill="#fff020" d="M1207 922l0-6-2 5zM1231 927l1-24-25 13 0 6zM1249 927l-17-24-1 24z"/>
<path fill="#2c5ec0" d="M586 1087l23 4 9-11-23-4zM609 1091l23 8 9-11-23-8zM632 1099l23-4 9-5-23-2zM655 1095l23 5 9-7-23-3zM678 1100l23 9 9-11-23-5zM701 1109l23-1 9-12-23 2zM724 1108l23 4 9-14-23-2zM747 1112l24 6 8-15-23-5zM771 1118l23 5 9-12-24-8zM794 1123l23-3 9-5-23-4zM817 1120l24 8 8-15-23 2zM841 1128l23 0 8-9-23-6zM864 1128l23 2 9-8-24-3zM887 1130l24 6 8-8-23-6zM911 1136l24 7 8-9-24-6zM935 1143l23-1 8-16-23 8zM958 1142l24 9 8-17-24-8zM982 1151l23 1 8-20-23 2zM1005 1152l24-7 5-9-1-6-20 2zM1029 1145l24 11 3-14-22-6zM1053 1156l23 0 3-9-23-5zM1076 1156l24 7 3-13-24-3zM1100 1163l24 0 1-8-22-5zM1124 1163l24 0 0-2-23-6zM2162 1325l25 7 5-15-26-6zM2136 1323l26 2 4-14-25-3zM2111 1318l25 5 5-15-26-2zM2085 1310l26 8 4-12-25-3zM2060 1311l25-1 5-7-26-3zM2034 1305l26 6 4-11-25-5zM2009 1303l25 2 5-10-25-3zM1984 1296l25 7 5-11-25-5zM1958 1300l26-4 5-9-25-5zM1933 1294l25 6 6-18-25-7zM1908 1284l25 10 6-19-26-1zM1883 1279l25 5 5-10-25-2z"/>
<path fill="#50c8f0" d="M1034 1136l2-6-3 0zM1056 1142l4-21-24 9-2 6zM1079 1147l5-21-24-5-4 21zM1103 1150l4-24-23 0-5 21zM1125 1155l6-30-24 1-4 24zM1148 1161l5-34-13-5-9 3-6 30zM1172 1165l3-30-22-8-5 34zM1174 1165l21-16 1-6-21-8-3 30zM1195 1149l4-4-3-2z"/>
<path fill="#c0e8f0" d="M1153 1127l2-9-15 4zM1175 1135l2-29-6-3-16 15-2 9zM1196 1143l2-29-21-8-2 29zM1199 1145l19-21-20-10-2 29z"/>
<path fill="#38b8b0" d="M1177 1106l1-10-7 7zM1198 1114l3-29-8-3-15 14-1 10zM1218 1124l1-1 2-27-20-11-3 29zM1219 1123l15-21-13-6z"/>
<path fill="#20b088" d="M1201 1085l1-11-9 8zM1221 1096l2-29-13-7-8 14-1 11zM1234 1102l9-12 1-14-21-9-2 29zM1243 1090l10-10-9-4z"/>
<path fill="#28b050" d="M1223 1067l2-29-2-1-13 23zM1244 1076l3-30-22-8-2 29zM1253 1080l14-15 3-13-23-6-3 30zM1267 1065l25 2 6 8-1-3-16-26-11 6z"/>
<path fill="#58b848" d="M1225 1038l1-6-3 5zM1247 1046l3-28-24 14-1 6zM1270 1052l4-19-24-15-3 28zM1281 1046l-7-13-4 19z"/>
<path fill="#2c5ec0" d="M576 1097l24 9 9-15-23-4zM600 1106l23 5 9-12-23-8zM623 1111l23 0 9-16-23 4zM646 1111l23 6 9-17-23-5zM669 1117l23 2 9-10-23-9zM692 1119l24 6 8-17-23 1zM716 1125l23-1 8-12-23-4zM739 1124l23 4 9-10-24-6zM762 1128l24 4 8-9-23-5zM786 1132l23 7 8-19-23 3zM809 1139l24 5 8-16-24-8zM833 1144l23 2 8-18-23 0zM856 1146l23 0 8-16-23-2zM879 1146l24 9 8-19-24-6zM903 1155l23-3 9-9-24-7zM926 1152l24 1 8-11-23 1zM950 1153l24 10 8-12-24-9zM974 1163l23 2 8-13-23-1zM997 1165l24 1 8-21-24 7zM1021 1166l24 3 8-13-24-11zM1045 1169l24 7 7-20-23 0zM1069 1176l24 3 7-16-24-7zM1093 1179l23 3 8-19-24 0zM1116 1182l24 4 8-23-24 0zM1140 1186l24 0 8-19-24-4zM1164 1186l24 0 2-7-16-14-2 2zM1188 1186l10-3-8-4zM2157 1337l26 6 4-11-25-7zM2131 1338l26-1 5-12-26-2zM2106 1330l25 8 5-15-25-5zM2080 1332l26-2 5-12-26-8zM2055 1322l25 10 5-22-25 1zM2029 1319l26 3 5-11-26-6zM2003 1321l26-2 5-14-25-2zM1978 1311l25 10 6-18-25-7zM1953 1310l25 1 6-15-26 4zM1928 1303l25 7 5-10-25-6zM1902 1302l26 1 5-9-25-10zM1877 1295l25 7 6-18-25-5z"/>
<path fill="#50c8f0" d="M1190 1179l5-30-21 16zM1198 1183l14-5 3-22-16-11-4 4-5 30zM1212 1178l24-10 1-4-22-8z"/>
<path fill="#c0e8f0" d="M1215 1156l4-32-1 0-19 21zM1237 1164l2-29-20-11-4 32zM1238 1165l15-22-14-8-2 29z"/>
<path fill="#38b8b0" d="M1239 1135l3-30-8-3-15 21 0 1zM1253 1143l7-11 2-16-20-11-3 30zM1260 1132l7-12-5-4z"/>
<path fill="#20b088" d="M1242 1105l1-15-9 12zM1262 1116l3-30-12-6-10 10-1 15zM1267 1120l12-22-14-12-3 30z"/>
<path fill="#28b050" d="M1265 1086l2-21-14 15zM1279 1098l5-10 8-21-25-2-2 21zM1284 1088l19-12 7-1 6 15-2-1-22-22z"/>
<path fill="#2c5ec0" d="M567 1109l24 6 9-9-24-9zM591 1115l23 5 9-9-23-5zM614 1120l23 2 9-11-23 0zM637 1122l23 2 9-7-23-6zM660 1124l24 13 8-18-23-2zM684 1137l23-4 9-8-24-6zM707 1133l23 6 9-15-23 1zM730 1139l24 4 8-15-23-4zM754 1143l23 2 9-13-24-4zM777 1145l23 3 9-9-23-7zM800 1148l24 3 9-7-24-5zM824 1151l24 6 8-11-23-2zM848 1157l23 0 8-11-23 0zM871 1157l24 11 8-13-24-9zM895 1168l23 1 8-17-23 3zM918 1169l24 4 8-20-24-1zM942 1173l24 1 8-11-24-10zM966 1174l23 5 8-14-23-2zM989 1179l24 1 8-14-24-1zM1013 1180l24 6 8-17-24-3zM1037 1186l24-1 8-9-24-7zM1061 1185l24 5 8-11-24-3zM1085 1190l24 7 7-15-23-3zM1109 1197l24 6 7-17-24-4zM1133 1203l24 2 7-19-24 0zM1157 1205l24 4 7-23-24 0zM1181 1209l24-5 3-12-10-9-10 3zM1205 1204l24-1 0-2-21-9zM2152 1354l26 0 5-11-26-6zM2126 1355l26-1 5-17-26 1zM2101 1343l25 12 5-17-25-8zM2075 1338l26 5 5-13-26 2zM2050 1337l25 1 5-6-25-10zM2024 1332l26 5 5-15-26-3zM1998 1332l26 0 5-13-26 2zM1973 1324l25 8 5-11-25-10zM1948 1318l25 6 5-13-25-1zM1922 1321l26-3 5-8-25-7zM1897 1318l25 3 6-18-26-1z"/>
<path fill="#50c8f0" d="M1208 1192l4-14-14 5zM1229 1201l7-33-24 10-4 14zM1232 1202l21-8 2-16-17-13-2 3-7 33zM1253 1194l5-12-3-4z"/>
<path fill="#c0e8f0" d="M1255 1178l3-31-5-4-15 22zM1258 1182l8-23-8-12-3 31z"/>
<path fill="#38b8b0" d="M1258 1147l2-15-7 11zM1266 1159l8-24-7-15-7 12-2 15z"/>
<path fill="#20b088" d="M1274 1135l3-9 4-22-2-6-12 22zM1277 1126l9-14-5-8z"/>
<path fill="#28b050" d="M1281 1104l3-16-5 10zM1286 1112l14-22 3-14-19 12-3 16z"/>
<path fill="#58b848" d="M1300 1090l2-3 7-15-6 4zM1302 1087l11-20 17-5 3 19-1 0-23-9z"/>
<path fill="#2c5ec0" d="M559 1127l23 1 9-13-24-6zM582 1128l23 3 9-11-23-5zM605 1131l23 4 9-13-23-2zM628 1135l23 4 9-15-23-2zM651 1139l24 6 9-8-24-13zM675 1145l23 2 9-14-23 4zM698 1147l23 3 9-11-23-6zM721 1150l24 4 9-11-24-4zM745 1154l24 8 8-17-23-2zM769 1162l23 0 8-14-23-3zM792 1162l23 2 9-13-24-3zM815 1164l24 3 9-10-24-6zM839 1167l24 6 8-16-23 0zM863 1173l23 3 9-8-24-11zM886 1176l24 8 8-15-23-1zM910 1184l24 3 8-14-24-4zM934 1187l24 7 8-20-24-1zM958 1194l23-3 8-12-23-5zM981 1191l24-1 8-10-24-1zM1005 1190l24 3 8-7-24-6zM1029 1193l24 11 8-19-24 1zM1053 1204l24-1 8-13-24-5zM1077 1203l24 2 8-8-24-7zM1101 1205l24 8 8-10-24-6zM1125 1213l24 7 8-15-24-2zM1149 1220l24-4 8-7-24-4zM1173 1216l25 8 7-20-24 5zM1198 1224l24 3 7-24-24 1zM1222 1227l24-6 1-5-15-14-3 1zM1246 1221l1-2 0-3zM2147 1368l26 0 5-14-26 0zM2122 1354l25 14 5-14-26 1zM2095 1361l27-7 4 1-25-12zM2070 1352l25 9 6-18-26-5zM2044 1350l26 2 5-14-25-1zM2019 1349l25 1 6-13-26-5zM1993 1343l26 6 5-17-26 0zM1968 1338l25 5 5-11-25-8zM1942 1335l26 3 5-14-25-6zM1917 1331l25 4 6-17-26 3zM1891 1332l26-1 5-10-25-3z"/>
<path fill="#50c8f0" d="M1247 1216l6-22-21 8zM1247 1219l12-23-1-14-5 12-6 22z"/>
<path fill="#c0e8f0" d="M1259 1196l11-21 0-2-4-14-8 23z"/>
<path fill="#38b8b0" d="M1270 1173l5-34-1-4-8 24zM1271 1174l23-21-19-14-5 34z"/>
<path fill="#20b088" d="M1275 1139l2-13-3 9zM1294 1153l0-1 4-30-12-10-9 14-2 13zM1294 1152l12-23-8-7z"/>
<path fill="#28b050" d="M1298 1122l3-31-1-1-14 22zM1306 1129l11-23-16-15-3 31z"/>
<path fill="#58b848" d="M1301 1091l1-4-2 3zM1317 1106l2-4 3-26-9-9-11 20-1 4zM1319 1102l6-19-3-7z"/>
<path fill="#88c840" d="M1322 1076l4-32-1-1-12 24zM1325 1083l8-25-7-14-4 32z"/>
<path fill="#b0d030" d="M1326 1044l0-2-1 1zM1333 1058l8-24-4-14-11 22 0 2z"/>
<path fill="#f8e820" d="M1341 1034l3-10 6-24-1-4-12 24z"/>
<path fill="#fff020" d="M1350 1000l1-8-2 4z"/>
<path fill="#2c5ec0" d="M549 1139l23 0 10-11-23-1zM572 1139l23 2 10-10-23-3zM595 1141l24 9 9-15-23-4zM619 1150l23-2 9-9-23-4zM642 1148l24 7 9-10-24-6zM666 1155l23 2 9-10-23-2zM689 1157l24 7 8-14-23-3zM713 1164l23 6 9-16-24-4zM736 1170l24 0 9-8-24-8zM760 1170l23 1 9-9-23 0zM783 1171l24 11 8-18-23-2zM807 1182l24 0 8-15-24-3zM831 1182l23 3 9-12-24-6zM854 1185l24 2 8-11-23-3zM878 1187l24 8 8-11-24-8zM902 1195l24 2 8-10-24-3zM926 1197l23 0 9-3-24-7zM949 1197l24 2 8-8-23 3zM973 1199l24 8 8-17-24 1zM997 1207l24 1 8-15-24-3zM1021 1208l24 6 8-10-24-11zM1045 1214l24 3 8-14-24 1zM1069 1217l24 5 8-17-24-2zM1093 1222l24 4 8-13-24-8zM1117 1226l25 4 7-10-24-7zM1142 1230l24 2 7-16-24 4zM1166 1232l24 2 8-10-25-8zM1190 1234l24 5 8-12-24-3zM1214 1239l25 0 7-18-24 6zM1239 1239l3-7 5-13-1 2zM2142 1379l26 6 5-17-26 0zM2116 1378l26 1 5-11-25-14zM2090 1375l26 3 6-24-27 7zM2065 1369l25 6 5-14-25-9zM2039 1365l26 4 5-17-26-2zM2013 1363l26 2 5-15-25-1zM1988 1359l25 4 6-14-26-6zM1962 1354l26 5 5-16-25-5zM1937 1348l25 6 6-16-26-3zM1911 1345l26 3 5-13-25-4z"/>
<path fill="#50c8f0" d="M1242 1232l13-22 4-14-12 23z"/>
<path fill="#c0e8f0" d="M1255 1210l8-13 7-22-11 21zM1263 1197l15-8-7-15-1 1z"/>
<path fill="#38b8b0" d="M1278 1189l9-6 7-30-23 21zM1287 1183l18-15-11-15z"/>
<path fill="#20b088" d="M1305 1168l7-5 2-23-8-11-12 23 0 1zM1312 1163l6-18-4-5z"/>
<path fill="#28b050" d="M1314 1140l4-32-1-2-11 23zM1318 1145l8-23-8-14-4 32z"/>
<path fill="#58b848" d="M1318 1108l1-6-2 4zM1326 1122l8-24-9-15-6 19-1 6z"/>
<path fill="#88c840" d="M1334 1098l3-9 2-20-6-11-8 25zM1337 1089l3-15-1-5z"/>
<path fill="#b0d030" d="M1339 1069l3-32-1-3-8 24zM1340 1074l5-25-3-12-3 32z"/>
<path fill="#f8e820" d="M1342 1037l2-13-3 10zM1345 1049l6-25-4-14-3 14-2 13z"/>
<path fill="#fff020" d="M1351 1024l5-25-3-14-6 25z"/>
<path fill="#fff000" d="M1356 999l5-25-2-14-6 25z"/>
<path fill="#fcd808" d="M1361 974l1-4 4-28-1-7-6 25zM1362 970l4-21 0-7z"/>
<path fill="#fcb820" d="M1366 942l4-28-5 21zM1366 949l5-26 0-14-1 5-4 28z"/>
<path fill="#f8981c" d="M1371 923l5-25 0-14-5 25z"/>
<path fill="#f89020" d="M1376 898l5-26 0-14-5 26z"/>
<path fill="#f47028" d="M1381 872l5-26 1-14-6 26z"/>
<path fill="#f46428" d="M1386 846l3-13 3-18 0-9-5 26z"/>
<path fill="#f45a28" d="M1392 815l4-31-4 22zM1391 820l5-27 2-13-2 4-4 31z"/>
<path fill="#2c5ec0" d="M540 1149l24 10 8-20-23 0zM564 1159l23-3 8-15-23-2zM587 1156l23 7 9-13-24-9zM610 1163l24 7 8-22-23 2zM634 1170l23 4 9-19-24-7zM657 1174l24 3 8-20-23-2zM681 1177l23 2 9-15-24-7zM704 1179l23 1 9-10-23-6zM727 1180l24 1 9-11-24 0zM751 1181l24 4 8-14-23-1zM775 1185l24 9 8-12-24-11zM799 1194l23 6 9-18-24 0zM822 1200l24-1 8-14-23-3zM846 1199l24 6 8-18-24-2zM870 1205l23 1 9-11-24-8zM893 1206l24 5 9-14-24-2zM917 1211l24-4 8-10-23 0zM941 1207l24 14 8-22-24-2zM965 1221l24-2 8-12-24-8zM989 1219l24 0 8-11-24-1zM1013 1219l24 10 8-15-24-6zM1037 1229l24 4 8-16-24-3zM1061 1233l24-2 8-9-24-5zM1085 1231l25 13 7-18-24-4zM1110 1244l24 2 8-16-25-4zM1134 1246l24 3 8-17-24-2zM1158 1249l24 0 8-15-24-2zM1182 1249l25 3 7-13-24-5zM1207 1252l24 3 8-16-25 0zM2137 1397l26 3 5-15-26-6zM2112 1390l25 7 5-18-26-1zM2085 1391l27-1 4-12-26-3zM2059 1387l26 4 5-16-25-6zM2034 1382l25 5 6-18-26-4zM2008 1375l26 7 5-17-26-2zM1983 1369l25 6 5-12-25-4zM1957 1368l26 1 5-10-26-5zM1931 1363l26 5 5-14-25-6zM1906 1360l25 3 6-15-26-3z"/>
<path fill="#50c8f0" d="M1236 1245l11-22 8-13-13 22z"/>
<path fill="#c0e8f0" d="M1247 1223l8-16 8-10-8 13zM1255 1207l25 3 3-13-5-8-15 8zM1280 1210l10-5-7-8z"/>
<path fill="#38b8b0" d="M1283 1197l4-14-9 6zM1290 1205l14-6 6-26-5-5-18 15-4 14zM1304 1199l13-15-7-11z"/>
<path fill="#20b088" d="M1310 1173l2-10-7 5zM1317 1184l12-13 1-11-12-15-6 18-2 10zM1329 1171l4-9-3-2z"/>
<path fill="#28b050" d="M1330 1160l3-30-7-8-8 23zM1333 1162l9-24-9-8-3 30z"/>
<path fill="#58b848" d="M1333 1130l3-30-2-2-8 24zM1342 1138l9-23-15-15-3 30z"/>
<path fill="#88c840" d="M1336 1100l1-11-3 9zM1351 1115l3-8 1-19-15-14-3 15-1 11zM1354 1107l5-16-4-3z"/>
<path fill="#b0d030" d="M1355 1088l2-28-12-11-5 25zM1359 1091l7-25-9-6-2 28z"/>
<path fill="#f8e820" d="M1357 1060l2-28-8-8-6 25zM1366 1066l7-24-14-10-2 28z"/>
<path fill="#fff020" d="M1359 1032l1-29-4-4-5 25zM1373 1042l7-24 0-1-20-14-1 29z"/>
<path fill="#fff000" d="M1360 1003l2-28-1-1-5 25zM1380 1017l2-28-20-14-2 28zM1380 1017l6-25-4-3z"/>
<path fill="#fcd808" d="M1362 975l0-5-1 4zM1382 989l1-28-17-12-4 21 0 5zM1386 992l6-26-9-5-1 28z"/>
<path fill="#fcb820" d="M1383 961l1-28-13-10-5 26zM1392 966l6-25-14-8-1 28z"/>
<path fill="#f8981c" d="M1384 933l1-29-9-6-5 25zM1398 941l5-26-18-11-1 29z"/>
<path fill="#f89020" d="M1385 904l2-28-6-4-5 26zM1403 915l4-16 0-10-20-13-2 28z"/>
<path fill="#f47028" d="M1387 876l1-29-2-1-5 26zM1409 890l5-27-5-3-2 29zM1407 889l2-29-21-13-1 29z"/>
<path fill="#f46428" d="M1388 847l1-14-3 13zM1589 861l2 11 1 12-1-10-3-27zM1414 863l5-26-9-5-1 28zM1409 860l1-28-19-12-2 13-1 14z"/>
<path fill="#f45a28" d="M1583 832l6 29-1-14-4-28zM1419 837l5-26-13-8-1 29zM1410 832l1-29-15-10-5 27z"/>
<path fill="#f04028" d="M1577 804l6 28 1-13-4-28zM1424 811l5-27-17-10-1 29zM1411 803l1-29-12-7-4 26z"/>
<path fill="#f02828" d="M1571 776l6 28 3-13-4-28zM1429 784l5-27-21-11-1 28zM1412 774l1-28-9-6-4 27z"/>
<path fill="#f02020" d="M1568 757l3 19 5-13-2-14zM1564 747l4 10 6-8-3-15zM1435 755l6-24-5-3zM1434 757l1-2 1-27-21-12-2 30zM1413 746l2-30-6-3-5 27z"/>
<path fill="#e81c24" d="M1552 718l12 29 7-13-6-28zM1441 731l8-27-11-6-2 30zM1436 728l2-30-22-11-1 29zM1415 716l1-29-3-1-4 27z"/>
<path fill="#e01050" d="M1543 694l9 24 13-12-7-29-14 9zM1537 688l6 6 1-8zM1449 704l7-27-17-9-1 30zM1438 698l1-30-20-10-2 9-1 20zM1416 687l1-20-4 19z"/>
<path fill="#c00070" d="M1558 677l-6-29-2 1-6 37zM1516 662l21 26 7-2 6-37-33 6zM1513 656l3 6 1-7zM1456 677l7-23 0-5-22-11-2 30zM1439 668l2-30-15-7-7 27z"/>
<path fill="#900050" d="M1552 648l-1-5-1 6zM1550 649l1-6-14-26-15 4-5 34zM1496 625l17 31 4-1 5-34zM1466 650l19-26-19-7-3 32zM1463 649l3-32-24-9-1 30zM1441 638l1-30-9-4-7 27z"/>
<path fill="#680050" d="M1537 617l-12-23-3 27zM1490 616l6 9 26-4 3-27-4-7-28 5zM1485 624l5-8 3-24-25-7-2 32zM1466 617l2-32-24-7-2 30zM1442 608l2-30-3-2-8 28z"/>
<path fill="#500048" d="M1521 587l-18-31-5 1-5 35zM1493 592l5-35-27-4-3 32zM1468 585l3-32-14-3-12 12-1 16zM1444 578l1-16-4 14z"/>
<path fill="#380040" d="M1503 556l-4-9-1 10zM1498 557l1-10-27-11-1 17zM1471 553l1-17-15 14z"/>
<path fill="#2c5ec0" d="M531 1165l23 1 10-7-24-10zM554 1166l24 5 9-15-23 3zM578 1171l23 2 9-10-23-7zM601 1173l23 5 10-8-24-7zM624 1178l24 4 9-8-23-4zM648 1182l23 3 10-8-24-3zM671 1185l24 8 9-14-23-2zM695 1193l24 0 8-13-23-1zM719 1193l23 5 9-17-24-1zM742 1198l24 0 9-13-24-4zM766 1198l24 7 9-11-24-9zM790 1205l23 2 9-7-23-6zM813 1207l24 5 9-13-24 1zM837 1212l24 2 9-9-24-6zM861 1214l24 3 8-11-23-1zM885 1217l24 6 8-12-24-5zM909 1223l24 3 8-19-24 4zM933 1226l24 3 8-8-24-14zM957 1229l24 2 8-12-24 2zM981 1231l24 7 8-19-24 0zM1005 1238l24 2 8-11-24-10zM1029 1240l24 5 8-12-24-4zM1053 1245l25 5 7-19-24 2zM1078 1250l24 1 8-7-25-13zM1102 1251l24 3 8-8-24-2zM1126 1254l25 7 7-12-24-3zM1151 1261l24-2 7-10-24 0zM1175 1259l24 9 8-16-25-3zM1199 1268l25-2 7-11-24-3zM1224 1266l4-7 8-14-5 10zM2133 1408l25 8 5-16-26-3zM2106 1406l27 2 4-11-25-7zM2080 1403l26 3 6-16-27 1z"/>
<path fill="#c0e8f0" d="M1241 1236l7-11 7-18-8 16zM1248 1225l24 5 8-20-25-3zM1272 1230l25-7 2-6-9-12-10 5zM1297 1223l7-2-5-4z"/>
<path fill="#38b8b0" d="M1299 1217l5-18-14 6zM1304 1221l18-4 4-25-9-8-13 15-5 18zM1322 1217l15-15-11-10z"/>
<path fill="#20b088" d="M1326 1192l3-21-12 13zM1337 1202l10-11 1-15-15-14-4 9-3 21zM1347 1191l6-12-5-3z"/>
<path fill="#28b050" d="M1348 1176l3-30-9-8-9 24zM1353 1179l13-23-15-10-3 30z"/>
<path fill="#58b848" d="M1351 1146l3-29-3-2-9 23zM1366 1156l6-11 1-15-19-13-3 29zM1372 1145l5-12-4-3z"/>
<path fill="#88c840" d="M1354 1117l0-10-3 8zM1373 1130l2-28-16-11-5 16 0 10zM1377 1133l8-24-10-7-2 28z"/>
<path fill="#b0d030" d="M1375 1102l2-28-11-8-7 25zM1385 1109l9-25-17-10-2 28z"/>
<path fill="#f8e820" d="M1377 1074l1-29-5-3-7 24zM1394 1084l4-12 1-14-21-13-1 29z"/>
<path fill="#fff020" d="M1378 1045l2-27-7 24zM1402 1060l8-25-10-5-1 28zM1399 1058l1-28-20-13 0 1-2 27z"/>
<path fill="#fff000" d="M1410 1035l7-25-15-8-2 28zM1400 1030l2-28-16-10-6 25z"/>
<path fill="#fcd808" d="M1417 1010l8-24 0-1-22-11-1 28zM1402 1002l1-28-11-8-6 26z"/>
<path fill="#fcb820" d="M1425 985l8-25-7-3zM1425 985l1-28-21-11-2 28zM1403 974l2-28-7-5-6 25z"/>
<path fill="#f8981c" d="M1589 956l6 27 12-13-5-27zM1433 960l8-25-14-6-1 28zM1426 957l1-28-21-12-1 29zM1405 946l1-29-3-2-5 26z"/>
<path fill="#f89020" d="M1583 928l6 28 13-13-4-27zM1441 935l8-26-21-8-1 28zM1427 929l1-28-19-11-2 9-1 18zM1406 917l1-18-4 16z"/>
<path fill="#f47028" d="M1583 925l0 3 15-12-5-28-5 5zM1577 900l6 25 5-32zM1449 909l3-10 1-17-23-9-2 28zM1428 901l2-28-16-10-5 27z"/>
<path fill="#f46428" d="M1593 888l-2-16-3 21zM1571 872l6 28 11-7 3-21-2-11zM1456 883l8-26-10-4-1 29zM1453 882l1-29-23-9-1 29zM1430 873l1-29-12-7-5 26z"/>
<path fill="#f45a28" d="M1565 844l6 28 18-11-6-29zM1464 857l7-26-16-6-1 28zM1454 853l1-28-23-10-1 29zM1431 844l1-29-8-4-5 26z"/>
<path fill="#f04028" d="M1559 816l6 28 18-12-6-28-17 11zM1471 831l7-26-22-9-1 29zM1455 825l1-29-23-9-1 28zM1432 815l1-28-4-3-5 27z"/>
<path fill="#f02828" d="M1577 804l-6-28-7 4-4 35zM1539 785l20 31 1-1 4-35zM1480 798l10-19-9-3zM1478 805l2-7 1-22-23-9-2 29zM1456 796l2-29-23-9-2 29zM1433 787l2-29-1-1-5 27z"/>
<path fill="#f02020" d="M1571 776l-3-19-4 23zM1534 776l5 9 25-5 4-23-4-10-28 6zM1517 754l17 22 2-23zM1490 779l13-26-20-7-2 30zM1481 776l2-30-24-8-1 29zM1458 767l1-29-18-7-6 24 0 3zM1435 758l0-3-1 2z"/>
<path fill="#e81c24" d="M1564 747l-12-29-12 2-4 33zM1508 743l9 11 19-1 4-33-30 2zM1503 753l5-10 2-21-25-6-2 30zM1483 746l2-30-25-8-1 30zM1459 738l1-30-11-4-8 27z"/>
<path fill="#e01050" d="M1552 718l-9-24-3 26zM1540 720l3-26-6-6-24 1-3 33zM1510 722l3-33-27-3-1 30zM1485 716l1-30-24-7-2 29zM1460 708l2-29-6-2-7 27z"/>
<path fill="#c00070" d="M1537 688l-21-26-3 27zM1513 689l3-27-3-6-25 0-2 30zM1486 686l2-30-22-6-3 4-1 25zM1462 679l1-25-7 23z"/>
<path fill="#900050" d="M1513 656l-17-31-6 0-2 31zM1488 656l2-31-5-1-19 26z"/>
<path fill="#680050" d="M1496 625l-6-9 0 9zM1490 625l0-9-5 8z"/>
<path fill="#2c5ec0" d="M521 1176l24 7 9-17-23-1zM545 1183l23 2 10-14-24-5zM568 1185l24 5 9-17-23-2zM592 1190l23 2 9-14-23-5zM615 1192l24 2 9-12-24-4zM639 1194l24 5 8-14-23-3zM663 1199l23 7 9-13-24-8zM686 1206l24 0 9-13-24 0zM710 1206l24 3 8-11-23-5zM734 1209l23 1 9-12-24 0zM757 1210l24 7 9-12-24-7zM781 1217l24 5 8-15-23-2zM805 1222l24 5 8-15-24-5zM829 1227l23-4 9-9-24-2zM852 1223l25 11 8-17-24-3zM877 1234l24 4 8-15-24-6zM901 1238l24 1 8-13-24-3zM925 1239l24 8 8-18-24-3zM949 1247l24-3 8-13-24-2zM973 1244l24 6 8-12-24-7zM997 1250l24 3 8-13-24-2zM1021 1253l25 7 7-15-24-5zM1046 1260l24 2 8-12-25-5zM1070 1262l24 1 8-12-24-1zM1094 1263l24 4 8-13-24-3zM1118 1267l25-1 8-5-25-7zM1143 1266l24 8 8-15-24 2zM1167 1274l25 10 7-16-24-9zM1192 1284l24-3 8-15-25 2zM2128 1423l25 7 5-14-25-8zM2102 1418l26 5 5-15-27-2z"/>
<path fill="#50c8f0" d="M1221 1272l14-22 6-14-13 23z"/>
<path fill="#c0e8f0" d="M1235 1250l5-9 8-16-7 11zM1240 1241l25-3 7-8-24-5zM1265 1238l25 4 7-19-25 7zM1290 1242l25-3 1-4-12-14-7 2zM1315 1239l3-1-2-3z"/>
<path fill="#38b8b0" d="M1316 1235l6-18-18 4zM1318 1238l22-5 4-24-7-7-15 15-6 18zM1340 1233l17-14-13-10z"/>
<path fill="#20b088" d="M1344 1209l3-18-10 11zM1357 1219l8-6 2-22-14-12-6 12-3 18zM1365 1213l11-16-9-6z"/>
<path fill="#28b050" d="M1367 1191l4-31-5-4-13 23zM1376 1197l14-18 0-5-19-14-4 31z"/>
<path fill="#58b848" d="M1371 1160l1-15-6 11zM1393 1175l14-23-14-7-3 29zM1390 1174l3-29-16-12-5 12-1 15z"/>
<path fill="#88c840" d="M1407 1152l9-15 0-10-21-11-2 29zM1393 1145l2-29-10-7-8 24z"/>
<path fill="#b0d030" d="M1420 1128l10-24-12-5-2 28zM1416 1127l2-28-21-12-2 29zM1395 1116l2-29-3-3-9 25z"/>
<path fill="#f8e820" d="M1430 1104l11-24-21-10-2 29zM1418 1099l2-29-18-10-4 12-1 15zM1397 1087l1-15-4 12z"/>
<path fill="#fff020" d="M1442 1077l7-22-5-3zM1441 1080l1-3 2-25-23-10-1 28zM1420 1070l1-28-11-7-8 25z"/>
<path fill="#fff000" d="M1449 1055l9-25-13-6-1 28zM1444 1052l1-28-22-10-2 28zM1421 1042l2-28-6-4-7 25z"/>
<path fill="#fcd808" d="M1458 1030l8-25-19-9-2 28zM1445 1024l2-28-22-11 0 1-2 28zM1423 1014l2-28-8 24z"/>
<path fill="#fcb820" d="M1466 1005l3-11 1-16-22-10-1 28zM1447 996l1-28-15-8-8 25z"/>
<path fill="#f8981c" d="M1474 980l7-26-9-4-2 28zM1470 978l2-28-22-11-2 29zM1448 968l2-29-9-4-8 25z"/>
<path fill="#f89020" d="M1578 941l12 29-1-14-6-28zM1481 954l8-25-16-8-1 29zM1472 950l1-29-22-11-1 29zM1450 939l1-29-2-1-8 26z"/>
<path fill="#f47028" d="M1576 936l2 5 5-13 0-3zM1564 912l12 24 7-11-6-25zM1489 929l7-26-21-11-2 29zM1473 921l2-29-19-9-4 16-1 11zM1451 910l1-11-3 10z"/>
<path fill="#f46428" d="M1551 885l13 27 13-12-6-28-20 11zM1498 899l17-21-16-4zM1496 903l2-4 1-25-23-10-1 28zM1475 892l1-28-12-7-8 26z"/>
<path fill="#f45a28" d="M1571 872l-6-28-10 5-4 34zM1525 867l23 16 3 0 4-34-29 1zM1515 878l10-11 1-17-25-6-2 30zM1499 874l2-30-23-9-2 29zM1476 864l2-29-7-4-7 26z"/>
<path fill="#f04028" d="M1565 844l-6-28-4 33zM1555 849l4-33-29 2-4 32zM1526 850l4-32-27-4-2 30zM1501 844l2-30-23-9-2 30zM1478 835l2-30-2 0-7 26z"/>
<path fill="#f02828" d="M1559 816l-20-31-6 1-3 32zM1530 818l3-32-28-2-2 30zM1503 814l2-30-15-5-10 19 0 7zM1480 805l0-7-2 7z"/>
<path fill="#f02020" d="M1539 785l-5-9-1 10zM1533 786l1-10-17-22-10 0-2 30zM1505 784l2-30-4-1-13 26z"/>
<path fill="#e81c24" d="M1517 754l-9-11-1 11zM1507 754l1-11-5 10z"/>
<path fill="#2c5ec0" d="M725 1224l24 7 8-21-23-1zM749 1231l23 0 9-14-24-7zM772 1231l24 2 9-11-24-5zM796 1233l24 1 9-7-24-5zM820 1234l24 10 8-21-23 4zM844 1244l24-2 9-8-25-11zM868 1242l24 7 9-11-24-4zM892 1249l24 4 9-14-24-1zM916 1253l25 5 8-11-24-8zM941 1258l24 6 8-20-24 3zM965 1264l24 2 8-16-24-6zM989 1266l24-3 8-10-24-3zM1013 1263l24 11 9-14-25-7zM1037 1274l25 2 8-14-24-2zM1062 1276l24 0 8-13-24-1zM1086 1276l25 11 7-20-24-4zM1111 1287l24-2 8-19-25 1zM1135 1285l25 6 7-17-24-8zM1160 1291l24 2 8-9-25-10zM1184 1293l25 0 7-12-24 3zM1209 1293l4-7 8-14-5 9zM2123 1438l26 5 4-13-25-7zM2096 1436l27 2 5-15-26-5z"/>
<path fill="#50c8f0" d="M1213 1286l14-23 8-13-14 22z"/>
<path fill="#c0e8f0" d="M1227 1263l6-9 7-13-5 9zM1233 1254l25 2 7-18-25 3zM1258 1256l24 1 8-15-25-4zM1282 1257l25 2 8-20-25 3zM1307 1259l25 3 4-13-18-11-3 1zM1332 1262l18-4-14-9z"/>
<path fill="#38b8b0" d="M1336 1249l4-16-22 5zM1350 1258l7-2 6-32-6-5-17 14-4 16zM1382 1248l8-9-6-4zM1357 1256l25-8 2-13-21-11z"/>
<path fill="#20b088" d="M1363 1224l2-11-8 6zM1390 1239l18-21 0-2-21-12-3 31zM1384 1235l3-31-11-7-11 16-2 11z"/>
<path fill="#28b050" d="M1409 1217l20-22-18-9-3 30zM1408 1216l3-30-18-11-3 4-3 25zM1387 1204l3-25-14 18z"/>
<path fill="#58b848" d="M1434 1190l8-19-7-4zM1429 1195l5-5 1-23-21-11-3 30zM1411 1186l3-30-7-4-14 23z"/>
<path fill="#88c840" d="M1442 1171l12-23-16-10-3 29zM1435 1167l3-29-18-10-4 9-2 19zM1414 1156l2-19-9 15z"/>
<path fill="#b0d030" d="M1454 1148l6-15 1-11-21-12-2 28zM1438 1138l2-28-10-6-10 24z"/>
<path fill="#f8e820" d="M1464 1123l9-24-10-6-2 29zM1461 1122l2-29-21-13-2 30zM1440 1110l2-30-1 0-11 24z"/>
<path fill="#fff020" d="M1473 1099l9-25-17-9-2 28zM1463 1093l2-28-16-10-7 22 0 3zM1442 1080l0-3-1 3z"/>
<path fill="#fff000" d="M1482 1074l5-14 1-12-21-12-2 29zM1465 1065l2-29-9-6-9 25z"/>
<path fill="#fcd808" d="M1492 1050l10-25-12-6-2 29zM1488 1048l2-29-21-12-2 29zM1467 1036l2-29-3-2-8 25z"/>
<path fill="#fcb820" d="M1502 1025l10-25-20-9-2 28zM1490 1019l2-28-18-11-5 14 0 13zM1469 1007l0-13-3 11z"/>
<path fill="#f8981c" d="M1515 992l9-17-7-4zM1512 1000l3-8 2-21-23-9-2 29zM1492 991l2-29-13-8-7 26z"/>
<path fill="#f89020" d="M1524 975l13-25-18-9-2 30zM1517 971l2-30-24-8-1 29zM1494 962l1-29-6-4-8 25z"/>
<path fill="#f47028" d="M1543 937l21-11 7-1 5 11-12-24-18 7zM1537 950l6-13 3-18-25-8-2 30zM1519 941l2-30-24-8-2 30zM1495 933l2-30-1 0-7 26z"/>
<path fill="#f46428" d="M1564 926l6-2 1 1-7-13-13-27-5 34zM1546 919l5-34-3-2-24-2-3 30zM1521 911l3-30-9-3-17 21-1 4zM1497 903l1-4-2 4z"/>
<path fill="#f45a28" d="M1548 883l-23-16-1 14zM1524 881l1-14-10 11z"/>
<path fill="#2c5ec0" d="M836 1254l24 7 8-19-24 2zM860 1261l24-2 8-10-24-7zM884 1259l24 8 8-14-24-4zM908 1267l24 2 9-11-25-5zM932 1269l24 4 9-9-24-6zM956 1273l25 1 8-8-24-2zM981 1274l24 5 8-16-24 3zM1005 1279l24 5 8-10-24-11zM1029 1284l25 3 8-11-25-2zM1054 1287l24 4 8-15-24 0zM1078 1291l25 3 8-7-25-11zM1103 1294l24 4 8-13-24 2zM1127 1298l25 2 8-9-25-6zM1152 1300l24 3 8-10-24-2zM1176 1303l25 4 8-14-25 0zM2117 1453l27 2 5-12-26-5z"/>
<path fill="#50c8f0" d="M1206 1299l15-22 6-14-14 23z"/>
<path fill="#c0e8f0" d="M1221 1277l4-7 8-16-6 9zM1225 1270l25-5 8-9-25-2zM1250 1265l25 3 7-11-24-1zM1275 1268l25 9 7-18-25-2zM1300 1277l25 3 7-18-25-3zM1325 1280l25 5 6-24-6-3-18 4zM1350 1285l25-8 0-1-19-15z"/>
<path fill="#38b8b0" d="M1356 1261l1-5-7 2zM1400 1275l19-17-15-9zM1377 1276l23-1 4-26-14-10-8 9-7 28zM1375 1276l7-28-25 8-1 5z"/>
<path fill="#20b088" d="M1426 1252l26-12 0-2-23-9zM1419 1258l7-6 3-23-20-12-1 1-4 31zM1404 1249l4-31-18 21z"/>
<path fill="#28b050" d="M1453 1238l12-23-11-6-2 29zM1452 1238l2-29-21-12-4 32zM1429 1229l4-32-4-2-20 22z"/>
<path fill="#58b848" d="M1465 1215l13-23 0-1-22-11-2 29zM1454 1209l2-29-14-9-8 19-1 7zM1433 1197l1-7-5 5z"/>
<path fill="#88c840" d="M1478 1191l11-24-9-4zM1478 1191l2-28-21-12-3 29zM1456 1180l3-29-5-3-12 23z"/>
<path fill="#b0d030" d="M1489 1167l12-24-19-9-2 29zM1480 1163l2-29-18-11-4 10-1 18zM1459 1151l1-18-6 15z"/>
<path fill="#f8e820" d="M1505 1134l7-15-6-3zM1501 1143l4-9 1-18-22-10-2 28zM1482 1134l2-28-11-7-9 24z"/>
<path fill="#fff020" d="M1512 1119l11-24-15-7-2 28zM1506 1116l2-28-22-11-2 29zM1484 1106l2-29-4-3-9 25z"/>
<path fill="#fff000" d="M1523 1095l10-22 0-3-23-11-2 29zM1508 1088l2-29-18-9-5 10-1 17zM1486 1077l1-17-5 14z"/>
<path fill="#fcd808" d="M1534 1070l11-25-10-5-2 30zM1533 1070l2-30-23-10-2 29zM1510 1059l2-29-10-5-10 25z"/>
<path fill="#fcb820" d="M1545 1045l10-25-18-9-2 29zM1535 1040l2-29-23-10-2 29zM1512 1030l2-29-2-1-10 25z"/>
<path fill="#f8981c" d="M1561 1008l6-13-4-3zM1555 1020l6-12 2-16-23-11-3 30zM1537 1011l3-30-16-6-9 17-1 9zM1514 1001l1-9-3 8z"/>
<path fill="#f89020" d="M1567 995l12-25-13-10-3 32zM1563 992l3-32-24-8-2 29zM1540 981l2-29-5-2-13 25z"/>
<path fill="#f47028" d="M1579 970l10-22 7 3-22-23-5 0-3 32zM1566 960l3-32-5-2-21 11-1 15zM1542 952l1-15-6 13z"/>
<path fill="#f46428" d="M1574 928l-4-4-1 4zM1569 928l1-4-6 2z"/>
<path fill="#2c5ec0" d="M851 1271l24 1 9-13-24 2zM875 1272l25 8 8-13-24-8zM900 1280l23-3 9-8-24-2zM923 1277l25 5 8-9-24-4zM948 1282l24 9 9-17-25-1zM972 1291l25 0 8-12-24-5zM997 1291l24 2 8-9-24-5zM1021 1293l25 11 8-17-25-3zM1046 1304l24 0 8-13-24-4zM1070 1304l25 5 8-15-25-3zM1095 1309l24 4 8-15-24-4zM1119 1313l25 2 8-15-25-2zM1144 1315l25 7 7-19-24-3zM1169 1322l24 3 8-18-25-4zM1193 1325l7-12 6-14-5 8zM2112 1468l26 8 6-21-27-2z"/>
<path fill="#50c8f0" d="M1200 1313l14-22 7-14-15 22z"/>
<path fill="#c0e8f0" d="M1214 1291l4-7 7-14-4 7zM1218 1284l24-1 8-18-25 5zM1242 1283l25 2 8-17-25-3zM1267 1285l26 6 7-14-25-9zM1293 1291l25 4 7-15-25-3zM1318 1295l25 3 7-13-25-5zM1418 1306l26-3 0-2-24-6zM1393 1302l25 4 2-11-22-10zM1368 1298l25 4 5-17-21-9-2 1zM1343 1298l25 0 7-21-25 8z"/>
<path fill="#38b8b0" d="M1470 1292l19-9-18-4zM1446 1302l24-10 1-13-23-10-4 32zM1444 1301l4-32-23-8-5 34zM1420 1295l5-34-6-3-19 17-2 10zM1398 1285l2-10-23 1z"/>
<path fill="#20b088" d="M1495 1281l18-19-16-5zM1489 1283l6-2 2-24-24-7-2 29zM1471 1279l2-29-20-12-1 2-4 29zM1448 1269l4-29-26 12-1 9zM1425 1261l1-9-7 6z"/>
<path fill="#28b050" d="M1522 1253l8-14-7-2zM1513 1262l9-9 1-16-24-8-2 28zM1497 1257l2-28-23-8-3 29zM1473 1250l3-29-11-6-12 23z"/>
<path fill="#58b848" d="M1530 1239l15-23-21-7-1 28zM1523 1237l1-28-23-8-2 28zM1499 1229l2-28-23-10 0 1-2 29zM1476 1221l2-29-13 23z"/>
<path fill="#88c840" d="M1549 1210l9-18-8-2zM1545 1216l4-6 1-20-24-8-2 27zM1524 1209l2-27-23-9-2 28zM1501 1201l2-28-14-6-11 24z"/>
<path fill="#b0d030" d="M1558 1192l13-24-19-6-2 28zM1550 1190l2-28-24-8-2 28zM1526 1182l2-28-24-9-1 28zM1503 1173l1-28-3-2-12 24z"/>
<path fill="#f8e820" d="M1576 1158l6-14-5-2zM1571 1168l5-10 1-16-24-8-1 28zM1552 1162l1-28-24-8-1 28zM1528 1154l1-28-17-7-7 15-1 11zM1504 1145l1-11-4 9z"/>
<path fill="#fff020" d="M1582 1144l9-25-12-5-2 28zM1577 1142l2-28-24-8-2 28zM1553 1134l2-28-24-8-2 28zM1529 1126l2-28-8-3-11 24z"/>
<path fill="#fff000" d="M1591 1119l9-25-19-8-2 28zM1579 1114l2-28-24-8-2 28zM1555 1106l2-28-23-8-1 3-2 25zM1531 1098l2-25-10 22z"/>
<path fill="#fcd808" d="M1605 1081l7-12-6-2zM1600 1094l5-13 1-14-24-9-1 28zM1581 1086l1-28-24-8-1 28zM1557 1078l1-28-13-5-11 25z"/>
<path fill="#fcb820" d="M1612 1069l14-24-17-8-3 30zM1606 1067l3-30-25-7-2 28zM1582 1058l2-28-24-8-2 28zM1558 1050l2-28-5-2-10 25z"/>
<path fill="#f8981c" d="M1626 1045l8-14 2-17-25-6-2 29zM1609 1037l2-29-25-7-2 29zM1584 1030l2-29-19-6-6 13-1 14zM1560 1022l1-14-6 12z"/>
<path fill="#f89020" d="M1638 1020l10-26 17-4 1 23-12-6-12-24-6 31zM1636 1014l6-31-4-5-24 0-3 30zM1611 1008l3-30-26-5-2 28zM1586 1001l2-28-9-3-12 25z"/>
<path fill="#f47028" d="M1638 978l-22-28-2 28zM1614 978l2-28-27-2-1 25zM1588 973l1-25-10 22z"/>
<path fill="#2c5ec0" d="M891 1291l24 7 8-21-23 3zM915 1298l25 3 8-19-25-5zM940 1301l24-1 8-9-24-9zM964 1300l25 9 8-18-25 0zM989 1309l24 2 8-18-24-2zM1013 1311l25 5 8-12-25-11zM1038 1316l24 3 8-15-24 0zM1062 1319l25 1 8-11-25-5zM1087 1320l24 8 8-15-24-4zM1111 1328l25 6 8-19-25-2zM1136 1334l25-3 8-9-25-7zM1161 1331l25 4 7-10-24-3zM2107 1485l27-2 4-7-26-8z"/>
<path fill="#c0e8f0" d="M1210 1293l25 4 7-14-24 1zM1235 1297l25 2 7-14-25-2zM1260 1299l25 2 8-10-26-6zM1285 1301l25 4 8-10-25-4zM1310 1305l25 8 8-15-25-3zM1488 1334l19-8-17-7zM1462 1330l26 4 2-15-25-6zM1437 1325l25 5 3-17-19-11-2 1zM1411 1323l26 2 7-22-26 3zM1386 1319l25 4 7-17-25-4zM1361 1317l25 2 7-17-25-4zM1335 1313l26 4 7-19-25 0z"/>
<path fill="#38b8b0" d="M1539 1313l8-6-7-2zM1513 1323l26-10 1-8-24-8zM1507 1326l6-3 3-26-21-11-5 33zM1490 1319l5-33-6-3-19 9-5 21zM1465 1313l5-21-24 10z"/>
<path fill="#20b088" d="M1566 1294l6-8-5-2zM1547 1307l19-13 1-10-24-8-3 29zM1540 1305l3-29-23-10-4 31zM1516 1297l4-31-7-4-18 19 0 5zM1495 1286l0-5-6 2z"/>
<path fill="#28b050" d="M1572 1286l18-23-21-7-2 28zM1567 1284l2-28-24-9-2 29zM1543 1276l2-29-15-8-8 14-2 13zM1520 1266l2-13-9 9z"/>
<path fill="#58b848" d="M1593 1260l13-20-11-4zM1590 1263l3-3 2-24-24-9-2 29zM1569 1256l2-29-23-9-3 29zM1545 1247l3-29-3-2-15 23z"/>
<path fill="#88c840" d="M1606 1240l15-23 0-1-25-7-1 27zM1595 1236l1-27-23-10-2 28zM1571 1227l2-28-15-7-9 18-1 8zM1548 1218l1-8-4 6z"/>
<path fill="#b0d030" d="M1621 1217l13-24-11-4-2 27zM1621 1216l2-27-25-8-2 28zM1596 1209l2-28-23-11-2 29zM1573 1199l2-29-4-2-13 24z"/>
<path fill="#f8e820" d="M1634 1193l13-25-22-7-2 28zM1623 1189l2-28-25-8-2 28zM1598 1181l2-28-18-9-6 14-1 12zM1575 1170l1-12-5 10z"/>
<path fill="#fff020" d="M1649 1164l8-20-6-3zM1647 1168l2-4 2-23-24-9-2 29zM1625 1161l2-29-25-8-2 29zM1600 1153l2-29-11-5-9 25z"/>
<path fill="#fff000" d="M1657 1144l10-25-14-6-2 28zM1651 1141l2-28-24-9-2 28zM1627 1132l2-28-25-8-2 28zM1602 1124l2-28-4-2-9 25z"/>
<path fill="#fcd808" d="M1667 1119l10-26-22-8-2 28zM1653 1113l2-28-24-9-2 28zM1629 1104l2-28-19-7-7 12-1 15zM1604 1096l1-15-5 13z"/>
<path fill="#fcb820" d="M1679 1088l9-20-7-3zM1677 1093l2-5 2-23-25-9-1 29zM1655 1085l1-29-23-9-2 29zM1631 1076l2-29-7-2-14 24z"/>
<path fill="#f8981c" d="M1688 1068l12-25-16-9-3 31zM1681 1065l3-31-26-6-2 28zM1656 1056l2-28-20-8-4 11-1 16zM1633 1047l1-16-8 14z"/>
<path fill="#f89020" d="M1700 1043l9-18 6-21-28 0-3 30zM1684 1034l3-30-27-5-2 29zM1658 1028l2-29-12-5-10 26z"/>
<path fill="#f47028" d="M1712 1018l13-26 15-3 0 23-24-8 0-1-1 1zM1715 1004l1-1-19-29-8 0-2 30zM1687 1004l2-30-27-4-2 29zM1660 999l2-29-4-2-10 26z"/>
<path fill="#f46428" d="M1697 974l-7-11-1 11zM1689 974l1-11-26-10-2 17zM1662 970l2-17-6 15z"/>
<path fill="#2c5ec0" d="M907 1317l24 1 9-17-25-3zM931 1318l25-2 8-16-24 1zM956 1316l24 5 9-12-25-9zM980 1321l25 5 8-15-24-2zM1005 1326l24 0 9-10-25-5zM1029 1326l25 11 8-18-24-3zM1054 1337l25-4 8-13-25-1zM1079 1333l24 7 8-12-24-8zM1103 1340l25 3 8-9-25-6zM1128 1343l25 4 8-16-25 3zM1153 1347l25 0 8-12-25-4zM2102 1497l27 1 5-15-27 2z"/>
<path fill="#50c8f0" d="M1182 1340l14-22 7-14-13 23z"/>
<path fill="#c0e8f0" d="M1196 1318l6-9 8-16-7 11zM1202 1309l25 3 8-15-25-4zM1227 1312l25 0 8-13-25-2zM1252 1312l26 6 7-17-25-2zM1278 1318l25 7 7-20-25-4zM1303 1325l25-2 7-10-25-8zM1532 1353l26 1 1-7-25-6zM1506 1352l26 1 2-12-22-10zM1481 1351l25 1 6-21-5-5-19 8zM1455 1346l26 5 7-17-26-4zM1430 1341l25 5 7-16-25-5zM1404 1338l26 3 7-16-26-2zM1379 1330l25 8 7-15-25-4zM1353 1327l26 3 7-11-25-2zM1328 1323l25 4 8-10-26-4z"/>
<path fill="#38b8b0" d="M1610 1341l9-8-8-2zM1584 1343l26-2 1-10-25-6zM1567 1350l17-7 2-18-23-10-4 32zM1559 1347l4-32-16-8-8 6-5 28zM1534 1341l5-28-26 10-1 8zM1512 1331l1-8-6 3z"/>
<path fill="#20b088" d="M1619 1333l18-14 1-9-25-8-2 29zM1611 1331l2-29-24-7-3 30zM1586 1325l3-30-17-9-6 8-3 21zM1563 1315l3-21-19 13z"/>
<path fill="#28b050" d="M1643 1312l20-23-23-7-2 28zM1638 1310l2-28-24-8-3 28zM1613 1302l3-28-24-10-3 31zM1589 1295l3-31-2-1-18 23z"/>
<path fill="#58b848" d="M1664 1287l13-21-11-4zM1663 1289l1-2 2-25-24-8-2 28zM1640 1282l2-28-24-9-2 29zM1616 1274l2-29-12-5-13 20-1 4zM1592 1264l1-4-3 3z"/>
<path fill="#88c840" d="M1677 1266l13-24-22-7-2 27zM1666 1262l2-27-24-9-2 28zM1642 1254l2-28-23-9-3 28zM1618 1245l3-28-15 23z"/>
<path fill="#b0d030" d="M1693 1237l12-19-10-3zM1690 1242l3-5 2-22-25-8-2 28zM1668 1235l2-28-24-9-2 28zM1644 1226l2-28-12-5-13 24z"/>
<path fill="#f8e820" d="M1705 1218l15-24-23-7-2 28zM1695 1215l2-28-25-8-2 28zM1670 1207l2-28-23-10-3 29zM1646 1198l3-29-2-1-13 25z"/>
<path fill="#fff020" d="M1722 1192l12-22-10-3zM1720 1194l2-2 2-25-25-8-2 28zM1697 1187l2-28-25-8-2 28zM1672 1179l2-28-17-7-8 20 0 5zM1649 1169l0-5-2 4z"/>
<path fill="#fff000" d="M1734 1170l14-25-22-6-2 28zM1724 1167l2-28-25-8-2 28zM1699 1159l2-28-25-8-2 28zM1674 1151l2-28-9-4-10 25z"/>
<path fill="#fcd808" d="M1833 1136l25 25-12-16-7-25zM1829 1130l4 6 6-16-1-3zM1751 1139l14-18-12-3zM1748 1145l3-6 2-21-25-8-2 29zM1726 1139l2-29-25-7-2 28zM1701 1131l2-28-25-9-2 29zM1676 1123l2-29-1-1-10 26z"/>
<path fill="#fcb820" d="M1808 1102l21 28 9-13-9-28-21 11zM1781 1101l27 1 0-2-27-4zM1765 1121l16-20 0-5-25-8-3 30zM1753 1118l3-30-26-6-2 28zM1728 1110l2-28-25-8-2 29zM1703 1103l2-29-17-6-9 20-1 6zM1678 1094l1-6-2 5z"/>
<path fill="#f8981c" d="M1829 1089l-9-29-6 3-6 37zM1808 1100l6-37-29 2-4 31zM1781 1096l4-31-27-6-2 29zM1756 1088l2-29-26-6-2 29zM1730 1082l2-29-25-8-2 29zM1705 1074l2-29-7-2-12 25z"/>
<path fill="#f89020" d="M1820 1060l-4-11-2 14zM1814 1063l2-14-8-18-20 2-3 32zM1785 1065l3-32-27-3-3 29zM1758 1059l3-29-27-5-2 28zM1732 1053l2-28-22-7-3 7-2 20zM1707 1045l2-20-9 18z"/>
<path fill="#f47028" d="M1808 1031l-15-29-1 0-4 31zM1788 1033l4-31-29-2-2 30zM1761 1030l2-30-27-4-2 29zM1734 1025l2-29-11-4-13 26z"/>
<path fill="#f46428" d="M1793 1002l-1-3 0 3zM1792 1002l0-3-22-28-4 0-3 29zM1763 1000l3-29-27-4-3 29zM1736 996l3-29-2-1-12 26z"/>
<path fill="#f45a28" d="M1770 971l-4-5 0 5zM1766 971l0-5-27-4 0 5zM1739 967l0-5-2 4z"/>
<path fill="#2c5ec0" d="M947 1330l25 6 8-15-24-5zM972 1336l24 0 9-10-25-5zM996 1336l25 10 8-20-24 0zM1021 1346l25 2 8-11-25-11zM1046 1348l25 5 8-20-25 4zM1071 1353l24-1 8-12-24-7zM1095 1352l25 4 8-13-25-3zM1120 1356l25 4 8-13-25-4zM1145 1360l25 6 8-19-25 0zM2097 1508l26 11 6-21-27-1z"/>
<path fill="#50c8f0" d="M1177 1354l12-22 7-14-14 22z"/>
<path fill="#c0e8f0" d="M1189 1332l5-10 8-13-6 9zM1194 1322l25 1 8-11-25-3zM1219 1323l26 9 7-20-25 0zM1245 1332l25 2 8-16-26-6zM1270 1334l25 0 8-9-25-7zM1295 1334l26 4 7-15-25 2zM1499 1368l26 4 7-19-26-1zM1474 1366l25 2 7-16-25-1zM1448 1360l26 6 7-15-26-5zM1422 1355l26 5 7-14-25-5zM1397 1351l25 4 8-14-26-3zM1371 1347l26 4 7-13-25-8zM1346 1343l25 4 8-17-26-3zM1321 1338l25 5 7-16-25-4z"/>
<path fill="#38b8b0" d="M1655 1365l14-9-12-4zM1629 1374l26-9 2-13-24-10zM1625 1375l4-1 4-32-14-9-9 8-5 26zM1605 1367l5-26-26 2-4 18zM1580 1361l4-18-17 7z"/>
<path fill="#20b088" d="M1930 1371l14 28 4-8 3-8-16-27zM1682 1349l13-14-11-4zM1669 1356l13-7 2-18-24-10-3 31zM1657 1352l3-31-17-9-6 7-4 23zM1633 1342l4-23-18 14z"/>
<path fill="#28b050" d="M1922 1354l8 17 5-15-8-12zM1916 1343l6 11 5-10-5-15zM1695 1335l15-16 1-8-24-9-3 29zM1684 1331l3-29-23-12-4 31zM1660 1321l4-31-1-1-20 23z"/>
<path fill="#58b848" d="M1902 1315l14 28 6-14-10-28zM1716 1312l19-22-22-8-2 29zM1711 1311l2-29-23-10-3 30zM1687 1302l3-30-13-6-13 21 0 3zM1664 1290l0-3-1 2z"/>
<path fill="#88c840" d="M1898 1307l4 8 10-14-7-21zM1884 1286l14 21 7-27-3-6zM1738 1286l13-20-11-4zM1735 1290l3-4 2-24-24-9-3 29zM1713 1282l3-29-24-10-2 29zM1690 1272l2-29-2-1-13 24z"/>
<path fill="#b0d030" d="M1874 1270l10 16 18-12-10-28-16 8zM1866 1257l8 13 2-16zM1751 1266l16-24-24-9-3 29zM1740 1262l3-29-24-9-3 29zM1716 1253l3-29-14-6-12 19-1 6zM1692 1243l1-6-3 5z"/>
<path fill="#f8e820" d="M1892 1246l-10-26-6 34zM1849 1229l17 28 10-3 6-34-1-2-32 10zM1767 1242l23-23-20-6zM1767 1242l3-29-24-8-3 28zM1743 1233l3-28-24-10-3 29zM1719 1224l3-29-2-1-15 24z"/>
<path fill="#fff020" d="M1881 1218l-11-28-16 5-5 33zM1824 1205l24 23 1 0 5-33-29 1zM1796 1213l28-8 1-9-27-5zM1790 1219l6-6 2-22-25-7-3 29zM1770 1213l3-29-25-8-2 29zM1746 1205l2-29-14-6-12 22 0 3zM1722 1195l0-3-2 2z"/>
<path fill="#fff000" d="M1870 1190l-11-28-5 33zM1854 1195l5-33-1-1-29 2-4 33zM1825 1196l4-33-27-2-4 30zM1798 1191l4-30-26-6-3 29zM1773 1184l3-29-25-9-3 30zM1748 1176l3-30-3-1-14 25z"/>
<path fill="#fcd808" d="M1858 1161l-25-25-4 27zM1829 1163l4-27-4-6-24 1-3 30zM1802 1161l3-30-27-5-2 29zM1776 1155l2-29-13-5-14 18 0 7zM1751 1146l0-7-3 6z"/>
<path fill="#fcb820" d="M1829 1130l-21-28-3 29zM1805 1131l3-29-27-1-3 25zM1778 1126l3-25-16 20z"/>
<path fill="#2c5ec0" d="M963 1346l25 7 8-17-24 0zM988 1353l25 8 8-15-25-10zM1013 1361l25 2 8-15-25-2zM1038 1363l24-3 9-7-25-5zM1062 1360l25 9 8-17-24 1zM1087 1369l25 4 8-17-25-4zM1112 1373l25 5 8-18-25-4zM1137 1378l25-3 8-9-25-6zM2092 1523l27 6 4-10-26-11z"/>
<path fill="#c0e8f0" d="M1186 1333l26-5 7-5-25-1zM1212 1328l25 6 8-2-26-9zM1237 1334l25 0 8 0-25-2zM1262 1334l3 0 24 1 6-1-25 0zM1310 1341l3 1 8-4-26-4-6 1zM1441 1361l7-1-26-5-6 2zM1416 1357l6-2-25-4-7 2zM1390 1353l7-2-26-4-7 2zM1364 1349l7-2-25-4-6 0zM1313 1342l4 0 23 1 6 0-25-5z"/>
<path fill="#38b8b0" d="M1288 1335l22 6-21-6zM1701 1389l23-9-21-7zM1674 1396l27-7 2-16-23-11zM1648 1390l26 6 6-34-11-6-14 9zM1415 1357l26 4-25-4zM1390 1353l25 4 1 0zM1339 1343l25 6-24-6z"/>
<path fill="#20b088" d="M1755 1373l11-12-10-3zM1728 1379l27-6 1-15-25-7zM1724 1380l4-1 3-28-24-9-4 31zM1703 1373l4-31-12-7-13 14-2 13zM1680 1362l2-13-13 7z"/>
<path fill="#28b050" d="M1890 1355l19 28 8-4 5-25-6-11-26 11zM1766 1361l17-18 1-6-25-8-3 29zM1756 1358l3-29-25-8-3 30zM1731 1351l3-30-18-9-6 7-3 23zM1707 1342l3-23-15 16z"/>
<path fill="#58b848" d="M1916 1343l-14-28-6 2-6 37zM1865 1332l25 22 6-37-30 6zM1855 1323l10 9 1-9zM1811 1324l12-6-11-3zM1789 1339l22-15 1-9-25-6-3 28zM1784 1337l3-28-25-9-3 29zM1759 1329l3-29-24-9-4 30zM1734 1321l4-30-3-1-19 22z"/>
<path fill="#88c840" d="M1902 1315l-4-8-2 10zM1896 1317l2-10-14-21-13 3-5 34zM1839 1310l16 13 11 0 5-34-30 2zM1823 1318l16-8 2-19-26-5-3 29zM1812 1315l3-29-26-6-2 29zM1787 1309l2-29-24-8-3 28zM1762 1300l3-28-14-6-13 20 0 5zM1738 1291l0-5-3 4z"/>
<path fill="#b0d030" d="M1884 1286l-10-16-3 19zM1871 1289l3-19-8-13-21 3-4 31zM1841 1291l4-31-27-3-3 29zM1815 1286l3-29-26-6-3 29zM1789 1280l3-29-25-9-2 30zM1765 1272l2-30-16 24z"/>
<path fill="#f8e820" d="M1866 1257l-17-28-4 31zM1845 1260l4-31-1-1-27-1-3 30zM1818 1257l3-30-26-6-3 30zM1792 1251l3-30-5-2-23 23z"/>
<path fill="#fff020" d="M1848 1228l-24-23-3 22zM1821 1227l3-22-28 8-1 8zM1795 1221l1-8-6 6z"/>
<path fill="#2c5ec0" d="M2119 1519l0 10-27-6 1-8z"/>
<path fill="#50c8f0" d="M1154 1371l25-7 1-6-1-12-13 22-7 5zM1179 1364l6-2-5-4zM2121 1496l-2 23-26-4 1-23z"/>
<path fill="#c0e8f0" d="M1180 1358l6-25-7 13zM1185 1362l19-9 8-25-26 5-6 25zM1204 1353l25-2 8-17-25-6zM1229 1351l26 6 7-23-25 0zM1255 1357l25 4 6-20-21-7-3 0zM1280 1361l26 4 7-23-3-1-24 0zM2123 1474l-2 22-27-4 2-22zM1818 1436l8 4 0-4zM1331 1366l24-3-18-14zM1306 1365l25 1 6-17-20-7-4 0z"/>
<path fill="#38b8b0" d="M1286 1341l2-6-23-1zM1310 1341l-22-6-2 6zM2125 1451l-2 23-27-4 1-23zM1853 1427l7-10-5-3zM1830 1438l23-11 2-13-26-6-3 28zM1800 1425l18 11 8 0 3-28-27-4zM1773 1420l27 5 2-21-26-4zM1748 1405l25 15 3-20-26-6zM1735 1397l13 8 2-11zM1408 1366l26-4 7-1-26-4zM1382 1360l26 6 7-9-25-4zM1357 1363l25-3 8-7-26-4zM1355 1363l2 0 7-14-25-6-2 6zM1337 1349l2-6-22-1z"/>
<path fill="#20b088" d="M2126 1428l-1 23-28-4 2-23zM1860 1417l17-23-19-10-3 30zM1855 1414l3-30-26-5-3 29zM1829 1408l3-29-27-4-3 29zM1802 1404l3-29-25-7-4 32zM1776 1400l4-32-14-7-11 12-5 21zM1722 1389l13 8 15-3 5-21-27 6zM1695 1385l27 4 6-10-4 1-27 6z"/>
<path fill="#28b050" d="M2128 1405l-2 23-27-4 1-23zM1883 1385l12-14 18-4 1 19-5-3-19-28zM1877 1394l6-9 7-30 0-1-28 0-4 30zM1858 1384l4-30-27-3-3 28zM1832 1379l3-28-26-6-4 30zM1805 1375l4-30-20-6-6 4-3 25zM1780 1368l3-25-17 18z"/>
<path fill="#58b848" d="M2101 1396l28-4-1 13-28-4zM1890 1354l-25-22-3 22zM1862 1354l3-22-10-9-17-1-3 29zM1835 1351l3-29-15-4-12 6-2 21zM1809 1345l2-21-22 15z"/>
<path fill="#88c840" d="M1855 1323l-16-13-1 12zM1838 1322l1-12-16 8z"/>
<path fill="#50c8f0" d="M961 1342l9 5 7-15zM970 1347l25 5 9-8-24-14-3 2zM995 1352l25 17 9-20-25-5zM1020 1369l25-2 9-11-25-7zM1045 1367l25 3 8-16-24 2zM1070 1370l26 5 8-13-26-8zM1096 1375l25 5 8-16-25-2zM1121 1380l25 1 8-10-25-7zM1146 1381l25-1 8-16-25 7zM1171 1380l7-4 7-14-6 2z"/>
<path fill="#c0e8f0" d="M915 1310l4 3 8-16zM919 1313l26 20 8-19-26-17zM945 1333l16 9 16-10 1-4-25-14zM980 1330l-2-2-1 4zM1178 1376l18-12 8-11-19 9zM1196 1364l25 2 8-15-25 2zM1221 1366l26 9 8-18-26-6zM1247 1375l25 2 8-16-25-4zM1272 1377l26 0 8-12-26-4zM1821 1447l5-7-8-4zM1324 1376l12 0 19-13-24 3zM1298 1377l26-1 7-10-25-1z"/>
<path fill="#38b8b0" d="M875 1279l18 14 9-14-19-14zM893 1293l22 17 12-13-25-18zM1847 1442l7-11 6-14-7 10zM1820 1450l27-8 6-15-23 11-9 9zM1793 1442l27 8 1-3-3-11-18-11zM1768 1424l25 18 7-17-27-5zM1741 1417l27 7 5-4-25-15zM1715 1410l26 7 7-12-13-8-20 12zM1453 1370l4 0 13-14-10 1zM1427 1377l26-7 7-13-26 5zM1401 1378l26-1 7-15-26 4zM1375 1377l26 1 7-12-26-6zM1349 1376l26 1 7-17-25 3zM1336 1376l13 0 8-13-2 0z"/>
<path fill="#20b088" d="M791 1242l26 9 4-13-29 2zM817 1251l24 5 9-13-16-10-13 5zM841 1256l26 17 9-13-26-17zM867 1273l8 6 8-14-7-5zM1854 1431l17-23 6-14-17 23zM1735 1397l-13-8-7 20zM1689 1400l24 10 2-1 7-20-27-4zM1663 1392l26 8 6-15-25-14zM1637 1377l26 15 7-21-27-10zM1610 1375l27 2 6-16-26-5zM1587 1364l23 11 7-19-26 1-6 6zM1558 1363l21 0 6 0 6-6-26-10zM1532 1363l26 0 7-16-26 2zM1505 1368l27-5 7-14-27 7zM1479 1367l26 1 7-12-26-1zM1457 1370l22-3 7-12-16 1z"/>
<path fill="#28b050" d="M421 1166l24-1 11-2-25-11zM445 1165l24 3 10-8-23 3zM469 1168l25 13 9-19-24-2zM494 1181l24 3 10-16-25-6zM518 1184l25 2 9-14-24-4zM543 1186l24 4 10-11-25-7zM567 1190l25 2 9-14-24 1zM592 1192l24 4 10-12-25-6zM616 1196l25 6 10-12-25-6zM641 1202l25 3 10-7-25-8zM666 1205l25 11 9-16-24-2zM691 1216l25 10 9-21-25-5zM716 1226l26 8 8-20-25-9zM742 1234l24 4 9-20-25-4zM766 1238l1 0 25 2 8-19-25-3zM821 1238l4-11-25-6-8 19zM834 1233l-9-6-4 11zM1877 1400l13-15 5-14-12 14zM1871 1408l6-8 6-15-6 9z"/>
<path fill="#58b848" d="M2096 1403l28 5 5-16-28 4zM2069 1394l27 9 5-7-26-15zM2041 1398l28-4 6-13-28-1zM2015 1389l26 9 6-18-27-5zM1988 1381l27 8 5-14-27-6zM1961 1376l27 5 5-12-27-6zM1933 1381l28-5 5-13-27 1zM1907 1366l26 15 6-17-26-13zM1890 1385l17-19 6-15-18 20z"/>
<path fill="#50c8f0" d="M422 1284l25 6-1-16-24-3zM447 1290l24 4-1-16-24-4zM471 1294l24 4 0-16-25-4zM495 1298l24 4 0-17-24-3zM519 1302l24 1 0-13-24-5zM543 1303l24 3 0-12-24-4zM567 1306l25 4 0-13-25-3zM592 1310l24 5 0-14-24-4zM616 1315l25 7 0-17-25-4zM641 1322l24 1 0-14-24-4zM665 1323l25 6 0-17-25-3zM690 1329l24-1 0-11-24-5zM714 1328l25 5 0-13-25-3zM739 1333l24 3 1-12-25-4zM763 1336l25 7 0-15-24-4zM788 1343l25 8 1-20-26-3zM813 1351l24-3 1-12-24-5zM837 1348l25 3 1-11-25-4zM862 1351l25 10 2-20-26-1zM887 1361l25 0 2-16-25-4zM912 1361l25 2 4-18-27 0zM937 1363l25 9 8-25-9-5-20 3zM962 1372l25-3 8-17-25-5zM987 1369l25 9 8-9-25-17zM1012 1378l25 6 8-17-25 2zM1037 1384l25-2 8-12-25-3zM1062 1382l25 7 9-14-26-5zM1087 1389l26 6 8-15-25-5zM1113 1395l25 0 8-14-25-1zM1138 1395l25 2 8-17-25 1zM1163 1397l8-7 7-14-7 4zM2078 1547l28 3 1-14-27-4zM2052 1541l26 6 2-15-27-4zM2025 1533l27 8 1-13-27-4zM1998 1529l27 4 1-9-27-4zM1971 1525l27 4 1-9-27-4zM1944 1526l27-1 1-9-26-5zM1918 1519l26 7 2-15-27-4zM1891 1508l27 11 1-12-27-3zM1876 1502l15 6 1-4z"/>
<path fill="#c0e8f0" d="M446 1274l0-27-24-4 0 28zM470 1278l0-28-24-3 0 27zM495 1282l0-28-25-4 0 28zM519 1285l0-27-24-4 0 28zM543 1290l0-28-24-4 0 27zM567 1294l0-28-24-4 0 28zM592 1297l0-27-25-4 0 28zM616 1301l0-28-24-3 0 27zM641 1305l0-28-25-4 0 28zM665 1309l0-28-24-4 0 28zM690 1312l0-28-25-3 0 28zM714 1317l1-29-25-4 0 28zM739 1320l1-28-25-4-1 29zM764 1324l0-29-24-3-1 28zM788 1328l1-29-25-4 0 29zM814 1331l1-29-26-3-1 29zM838 1336l1-29-24-5-1 29zM863 1340l2-31-26-2-1 29zM889 1341l3-31-27-1-2 31zM914 1345l5-32-4-3-23 0-3 31zM941 1345l4-12-26-20-5 32zM961 1342l-16-9-4 12zM1171 1390l17-14 8-12-18 12zM1188 1376l26 11 7-21-25-2zM1214 1387l25 1 8-13-26-9zM1239 1388l26 6 7-17-25-2zM1265 1394l25 2 8-19-26 0zM2107 1536l4-28-27-4-4 28zM2080 1532l4-28-27-4-4 28zM2053 1528l4-28-27-4-4 28zM2026 1524l4-28-27-4-4 28zM1999 1520l4-28-27-4-4 28zM1972 1516l4-28-27-5-3 28zM1946 1511l3-28-27-4-3 28zM1919 1507l3-28-27-4-3 29zM1865 1497l11 5 16 2 3-29-27-4zM1839 1486l26 11 3-26-25-8zM1812 1483l27 3 4-23-24-11zM1786 1472l26 11 7-31-28 1zM1760 1473l26-1 5-19-28-1zM1733 1466l27 7 3-21-27-4zM1707 1462l26 4 3-18-27-3zM1680 1460l27 2 2-17-26-4zM1654 1459l26 1 3-19-26-4zM1628 1452l26 7 3-22-27-3zM1602 1445l26 7 2-18-27-4zM1575 1439l27 6 1-15-26-3zM1549 1438l26 1 2-12-26-5zM1523 1431l26 7 2-16-26-4zM1497 1431l26 0 2-13-25-6zM1471 1428l26 3 3-19-26-4zM1445 1422l26 6 3-20-26-5zM1419 1419l26 3 3-19-25-6zM1393 1414l26 5 4-22-25-6zM1368 1407l25 7 5-23-25-4zM1342 1407l26 0 5-20-25-7zM1316 1399l26 8 6-27-12-4-12 0zM1290 1396l26 3 8-23-26 1z"/>
<path fill="#38b8b0" d="M446 1247l-1-28-24-4 1 28zM470 1250l0-27-25-4 1 28zM495 1254l-1-28-24-3 0 27zM519 1258l0-28-25-4 1 28zM543 1262l0-28-24-4 0 28zM567 1266l0-28-24-4 0 28zM592 1270l0-28-25-4 0 28zM616 1273l0-28-24-3 0 28zM641 1277l0-28-25-4 0 28zM665 1281l1-28-25-4 0 28zM690 1284l1-28-25-3-1 28zM715 1288l1-29-25-3-1 28zM740 1292l1-29-25-4-1 29zM764 1295l1-28-24-4-1 29zM789 1299l1-29-25-3-1 28zM815 1302l1-29-26-3-1 29zM839 1307l1-30-24-4-1 29zM865 1309l2-30-27-2-1 30zM892 1310l1-17-18-14-8 0-2 30zM915 1310l-22-17-1 17zM2111 1508l3-28-27-4-3 28zM2084 1504l3-28-27-4-3 28zM2057 1500l3-28-27-5-3 29zM2030 1496l3-29-27-4-3 29zM2003 1492l3-29-27-4-3 29zM1976 1488l3-29-27-4-3 28zM1949 1483l3-28-27-5-3 29zM1922 1479l3-29-27-3-3 28zM1895 1475l3-28-26-6-4 30zM1868 1471l4-30-18-10-7 11-4 21zM1843 1463l4-21-27 8-1 2zM1819 1452l1-2-27-8-2 11zM1791 1453l2-11-25-18-5 28zM1763 1452l5-28-27-7-5 31zM1736 1448l5-31-26-7-6 35zM1709 1445l6-35-2 0-25-2-5 33zM1683 1441l5-33-27-4-4 33zM1657 1437l4-33-27-2-4 32zM1630 1434l4-32-27-4-4 32zM1603 1430l4-32-26-2-4 31zM1577 1427l4-31-26-5-4 31zM1551 1422l4-31-26-5-4 32zM1525 1418l4-32-25-6-4 32zM1500 1412l4-32-26-5-4 33zM1474 1408l4-33-21-5-4 0-5 33zM1448 1403l5-33-26 7-4 20zM1423 1397l4-20-26 1-3 13zM1398 1391l3-13-26-1-2 10zM1373 1387l2-10-26-1-1 4zM1348 1380l1-4-13 0z"/>
<path fill="#20b088" d="M445 1219l0-28-24-4 0 28zM470 1223l-1-28-24-4 0 28zM494 1226l0-28-25-3 1 28zM519 1230l0-28-25-4 0 28zM543 1234l0-28-24-4 0 28zM567 1238l0-29-24-3 0 28zM592 1242l0-29-25-4 0 29zM616 1245l0-28-24-4 0 29zM641 1249l0-28-25-4 0 28zM666 1253l0-28-25-4 0 28zM691 1256l0-29-25-2 0 28zM716 1259l0-28-25-4 0 29zM741 1263l1-29-26-3 0 28zM765 1267l1-29-24-4-1 29zM790 1270l1-28-24-4-1 0-1 29zM816 1273l1-22-26-9-1 28zM840 1277l1-21-24-5-1 22zM867 1279l0-6-26-17-1 21zM875 1279l-8-6 0 6zM2114 1480l4-29-27-4-4 29zM2087 1476l4-29-28-4-3 29zM2060 1472l3-29-27-4-3 28zM2033 1467l3-28-27-4-3 28zM2006 1463l3-28-27-4-3 28zM1979 1459l3-28-27-4-3 28zM1952 1455l3-28-27-5-3 28zM1925 1450l3-28-27-3-3 28zM1898 1447l3-28-25-8-4 30zM1872 1441l4-30-5-3-17 23zM1713 1410l-24-10-1 8zM1688 1408l1-8-26-8-2 12zM1661 1404l2-12-26-15-3 25zM1634 1402l3-25-27-2-3 23zM1607 1398l3-23-23-11-3 0-3 32zM1581 1396l3-32-5-1-21 0-3 28zM1555 1391l3-28-26 0-3 23zM1529 1386l3-23-27 5-1 12zM1504 1380l1-12-26-1-1 8zM1478 1375l1-8-22 3z"/>
<path fill="#28b050" d="M445 1191l0-26-24 1 0 21zM469 1195l0-27-24-3 0 26zM494 1198l0-17-25-13 0 27zM519 1202l-1-18-24-3 0 17zM543 1206l0-20-25-2 1 18zM567 1209l0-19-24-4 0 20zM592 1213l0-21-25-2 0 19zM616 1217l0-21-24-4 0 21zM641 1221l0-19-25-6 0 21zM666 1225l0-20-25-3 0 19zM691 1227l0-11-25-11 0 20zM716 1231l0-5-25-10 0 11zM742 1234l-26-8 0 5zM2118 1451l4-28-28-4-3 28zM2091 1447l3-28-27-4-4 28zM2063 1443l4-28-27-5-4 29zM2036 1439l4-29-27-4-4 29zM2009 1435l4-29-28-4-3 29zM1982 1431l3-29-27-4-3 29zM1955 1427l3-29-26-5-4 29zM1928 1422l4-29-28-3-3 29zM1901 1419l3-29-14-5-13 15-1 11zM1876 1411l1-11-6 8zM1587 1364l-3-1 0 1zM1584 1364l0-1-5 0z"/>
<path fill="#58b848" d="M2122 1423l2-15-28-5-2 16zM2094 1419l2-16-27-9-2 21zM2067 1415l2-21-28 4-1 12zM2040 1410l1-12-26-9-2 17zM2013 1406l2-17-27-8-3 21zM1985 1402l3-21-27-5-3 22zM1958 1398l3-22-28 5-1 12zM1932 1393l1-12-26-15-3 24zM1904 1390l3-24-17 19z"/>
<path fill="#50c8f0" d="M412 1295l25 9 10-14-25-6zM437 1304l23 1 11-11-24-4zM460 1305l25 2 10-9-24-4zM485 1307l24 2 10-7-24-4zM509 1309l24 8 10-14-24-1zM533 1317l25 5 9-16-24-3zM558 1322l24 5 10-17-25-4zM582 1327l25 3 9-15-24-5zM607 1330l24 4 10-12-25-7zM631 1334l24 1 10-12-24-1zM655 1335l25 3 10-9-25-6zM680 1338l25 5 9-15-24 1zM705 1343l24 2 10-12-25-5zM729 1345l25 8 9-17-24-3zM754 1353l25 2 9-12-25-7zM779 1355l25 6 9-10-25-8zM804 1361l24 3 9-16-24 3zM828 1364l25 1 9-14-25-3zM853 1365l25 7 9-11-25-10zM878 1372l25 8 9-19-25 0zM903 1380l25 0 9-17-25-2zM928 1380l25 6 9-14-25-9zM953 1386l26 5 8-22-25 3zM979 1391l25 3 8-16-25-9zM1004 1394l25-1 8-9-25-6zM1029 1393l25 3 8-14-25 2zM1054 1396l25 9 8-16-25-7zM1079 1405l25 0 9-10-26-6zM1104 1405l26 4 8-14-25 0zM1130 1409l25 0 8-12-25-2zM1155 1409l8-4 8-15-8 7zM2074 1554l26 11 6-15-28-3zM2051 1545l23 9 4-7-26-6-4 3zM2048 1544l4-3-27-8-5 7zM2020 1540l5-7-27-4-4 6zM1994 1535l4-6-27-4-4 5zM1939 1534l23-3 5-1 4-5-27 1zM1912 1527l27 7 5-8-26-7zM1885 1529l27-2 6-8-27-11zM1859 1515l26 14 6-21-15-6-16 10z"/>
<path fill="#c0e8f0" d="M1163 1405l17-10 8-19-17 14zM1180 1395l26 4 8-12-26-11zM1206 1399l25 4 8-15-25-1zM1231 1403l26 8 8-17-26-6zM1257 1411l26 1 7-16-25-2zM2020 1540l27 4 1 0zM1993 1535l27 5-26-5zM1967 1531l26 4 1 0-27-5zM1962 1531l5 0 0-1zM1876 1502l-11-5-5 15zM1833 1500l25 15 2-3 5-15-26-11zM1807 1495l26 5 6-14-27-3zM1780 1491l27 4 5-12-26-11zM1754 1482l26 9 6-19-26 1zM1727 1482l27 0 6-9-27-7zM1700 1476l27 6 6-16-26-4zM1674 1470l26 6 7-14-27-2zM1647 1469l27 1 6-10-26-1zM1621 1464l26 5 7-10-26-7zM1595 1457l26 7 7-12-26-7zM1569 1457l26 0 7-12-27-6zM1542 1451l27 6 6-18-26-1zM1516 1449l26 2 7-13-26-7zM1490 1442l26 7 7-18-26 0zM1464 1443l26-1 7-11-26-3zM1438 1434l26 9 7-15-26-6zM1412 1427l26 7 7-12-26-3zM1386 1428l26-1 7-8-26-5zM1360 1419l26 9 7-14-25-7zM1334 1416l26 3 8-12-26 0zM1309 1413l25 3 8-9-26-8zM1283 1412l26 1 7-14-26-3z"/>
<path fill="#50c8f0" d="M403 1317l23-1 11-12-25-9zM426 1316l25 4 9-15-23-1zM451 1320l24 2 10-15-25-2zM475 1322l24 7 10-20-24-2zM499 1329l25 2 9-14-24-8zM524 1331l25 9 9-18-25-5zM549 1340l23-3 10-10-24-5zM572 1337l25 2 10-9-25-3zM597 1339l24 4 10-9-24-4zM621 1343l25 11 9-19-24-1zM646 1354l25 0 9-16-25-3zM671 1354l25 12 9-23-25-5zM696 1366l24-4 9-17-24-2zM720 1362l25 4 9-13-25-8zM745 1366l25 7 9-18-25-2zM770 1373l25 0 9-12-25-6zM795 1373l25 5 8-14-24-3zM820 1378l24 2 9-15-25-1zM844 1380l25 6 9-14-25-7zM869 1386l25 3 9-9-25-8zM894 1389l26 10 8-19-25 0zM920 1399l25 2 8-15-25-6zM945 1401l25 2 9-12-26-5zM970 1403l25 2 9-11-25-3zM995 1405l25 5 9-17-25 1zM1020 1410l25 0 9-14-25-3zM1045 1410l26 10 8-15-25-9zM1071 1420l25 3 8-18-25 0zM1096 1423l26 3 8-17-26-4zM1122 1426l25 2 8-19-25 0zM1147 1428l26-1 2-9-12-13-8 4zM1173 1427l25 6 3-13-26-2zM1198 1433l26-1 1-4-24-8zM1224 1432l25 9 4-13-28 0zM1249 1441l26 0 2-6-24-7zM2069 1569l27 7 4-11-26-11zM2042 1560l27 9 5-15-23-9-7 8zM2040 1560l2 0 2-7zM1962 1531l-23 3-3 3zM1906 1544l18-3 12-4 3-3-27-7zM1879 1545l27-1 6-17-27 2zM1852 1545l27 0 6-16-26-14zM1826 1532l26 13 7-30-1 0-29 5zM1799 1528l27 4 3-12-27-4zM1773 1524l26 4 3-12-27-5zM1746 1521l27 3 2-13-27-3zM1720 1514l26 7 2-13-26-4zM1693 1511l27 3 2-10-27-5zM1666 1509l27 2 2-12-26-4zM1640 1505l26 4 3-14-26-5zM1614 1498l26 7 3-15-27-3zM1587 1498l27 0 2-11-26-5zM1561 1489l26 9 3-16-27-3zM1535 1488l26 1 2-10-25-5zM1509 1484l26 4 3-14-26-5zM1483 1480l26 4 3-15-27-3zM1457 1470l26 10 2-14-27-3zM1430 1468l27 2 1-7-25-4zM1404 1466l26 2 3-9-26-5zM1379 1459l25 7 3-12-26-4zM1353 1460l26-1 2-9-26-5zM1327 1449l26 11 2-15-27-1zM1301 1448l26 1 1-5-25-6zM1275 1441l26 7 2-10-26-3z"/>
<path fill="#c0e8f0" d="M1175 1418l5-23-17 10zM1201 1420l5-21-26-4-5 23zM1225 1428l6-25-25-4-5 21zM1253 1428l4-17-26-8-6 25zM1277 1435l6-23-26-1-4 17zM2051 1545l-4-1-3 9zM2016 1546l24 14 4-7 3-9-27-4zM1989 1538l27 8 4-6-27-5zM1962 1534l27 4 4-3-26-4zM1934 1539l28-5 5-3-5 0-26 6zM1924 1541l10-2 2-2zM1858 1515l-25-15-4 20zM1829 1520l4-20-26-5-5 21zM1802 1516l5-21-27-4-5 20zM1775 1511l5-20-26-9-6 26zM1748 1508l6-26-27 0-5 22zM1722 1504l5-22-27-6-5 23zM1695 1499l5-23-26-6-5 25zM1669 1495l5-25-27-1-4 21zM1643 1490l4-21-26-5-5 23zM1616 1487l5-23-26-7-5 25zM1590 1482l5-25-26 0-6 22zM1563 1479l6-22-27-6-4 23zM1538 1474l4-23-26-2-4 20zM1512 1469l4-20-26-7-5 24zM1485 1466l5-24-26 1-6 20zM1458 1463l6-20-26-9-5 25zM1433 1459l5-25-26-7-5 27zM1407 1454l5-27-26 1-5 22zM1381 1450l5-22-26-9-5 26zM1355 1445l5-26-26-3-6 28zM1328 1444l6-28-25-3-6 25zM1303 1438l6-25-26-1-6 23z"/>
<path fill="#50c8f0" d="M392 1325l25 7 9-16-23 1zM417 1332l23-1 11-11-25-4zM440 1331l25 8 10-17-24-2zM465 1339l24-2 10-8-24-7zM489 1337l25 7 10-13-25-2zM514 1344l24 3 11-7-25-9zM538 1347l25 5 9-15-23 3zM563 1352l24 2 10-15-25-2zM587 1354l25 11 9-22-24-4zM612 1365l25-1 9-10-25-11zM637 1364l25 6 9-16-25 0zM662 1370l24 2 10-6-25-12zM686 1372l25 4 9-14-24 4zM711 1376l25 3 9-13-25-4zM736 1379l25 7 9-13-25-7zM761 1386l24-2 10-11-25 0zM785 1384l25 2 10-8-25-5zM810 1386l26 11 8-17-24-2zM836 1397l25 3 8-14-25-6zM861 1400l25 4 8-15-25-3zM886 1404l25 1 9-6-26-10zM911 1405l25 3 9-7-25-2zM936 1408l25 11 9-16-25-2zM961 1419l26 3 8-17-25-2zM987 1422l25 5 8-17-25-5zM1012 1427l25 4 8-21-25 0zM1037 1431l26 6 8-17-26-10zM1063 1437l25-1 8-13-25-3zM1088 1436l26 7 8-17-26-3zM1114 1443l25-2 8-13-25-2zM1139 1441l26 6 8-20-26 1zM1165 1447l25 8 8-22-25-6zM1190 1455l26 5 8-28-26 1zM1216 1460l26 3 7-22-25-9zM1242 1463l25-1 8-21-26 0zM2063 1584l27 13 6-21-27-7zM2036 1582l27 2 6-15-27-9zM2009 1579l27 3 6-22-2 0-28 4zM1982 1568l27 11 3-15-30 2zM1955 1565l27 3 0-2-26-6zM1927 1565l28 0 1-5-24-12zM1900 1562l27 3 5-17-8-7-18 3zM1873 1562l27 0 6-18-27 1zM1846 1563l27-1 6-17-27 0zM1819 1557l27 6 6-18-26-13zM1793 1547l26 10 7-25-27-4zM1766 1542l27 5 6-19-26-4zM1739 1538l27 4 7-18-27-3zM1713 1528l26 10 7-17-26-7zM1686 1532l27-4 7-14-27-3zM1660 1524l26 8 7-21-27-2zM1633 1525l27-1 6-15-26-4zM1607 1515l26 10 7-20-26-7zM1580 1517l27-2 7-17-27 0zM1554 1508l26 9 7-19-26-9zM1528 1503l26 5 7-19-26-1zM1502 1501l26 2 7-15-26-4zM1475 1494l27 7 7-17-26-4zM1449 1493l26 1 8-14-26-10zM1423 1486l26 7 8-23-27-2zM1397 1488l26-2 7-18-26-2zM1371 1481l26 7 7-22-25-7zM1345 1478l26 3 8-22-26 1zM1319 1477l26 1 8-18-26-11zM1293 1471l26 6 8-28-26-1zM1267 1462l26 9 8-23-26-7z"/>
<path fill="#c0e8f0" d="M2040 1560l-24-14-4 18zM2012 1564l4-18-27-8-7 28zM1982 1566l7-28-27-4-6 26zM1956 1560l6-26-28 5-2 9zM1932 1548l2-9-10 2z"/>
<path fill="#50c8f0" d="M382 1339l24 4 11-11-25-7zM406 1343l24 3 10-15-23 1zM430 1346l25 3 10-10-25-8zM455 1349l24 2 10-14-24 2zM479 1351l25 5 10-12-25-7zM504 1356l25 7 9-16-24-3zM529 1363l24 3 10-14-25-5zM553 1366l25 6 9-18-24-2zM578 1372l25 4 9-11-25-11zM603 1376l24-2 10-10-25 1zM627 1374l25 10 10-14-25-6zM652 1384l24-2 10-10-24-2zM676 1382l26 9 9-15-25-4zM702 1391l24 3 10-15-25-3zM726 1394l25 2 10-10-25-7zM751 1396l25 6 9-18-24 2zM776 1402l25 4 9-20-25-2zM801 1406l26 5 9-14-26-11zM827 1411l25 5 9-16-25-3zM852 1416l25 3 9-15-25-4zM877 1419l25 5 9-19-25-1zM902 1424l25-1 9-15-25-3zM927 1423l26 8 8-12-25-11zM953 1431l25-1 9-8-26-3zM978 1430l26 15 8-18-25-5zM1004 1445l25-2 8-12-25-4zM1029 1443l25 3 9-9-26-6zM1054 1446l26 6 8-16-25 1zM1080 1452l25 0 9-9-26-7zM1105 1452l26 6 8-17-25 2zM1131 1458l26 6 8-17-26-6zM1157 1464l25 2 8-11-25-8zM1182 1466l26-1 8-5-26-5zM1208 1465l26 10 8-12-26-3zM1234 1475l26 4 7-17-25 1zM2057 1611l28-1 5-13-27-13zM2030 1599l27 12 6-27-27-2zM2003 1597l27 2 6-17-27-3zM1976 1592l27 5 6-18-27-11zM1948 1590l28 2 6-24-27-3zM1921 1582l27 8 7-25-28 0zM1894 1581l27 1 6-17-27-3zM1867 1576l27 5 6-19-27 0zM1841 1566l26 10 6-14-27 1zM1813 1570l28-4 5-3-27-6zM1786 1566l27 4 6-13-26-10zM1760 1556l26 10 7-19-27-5zM1733 1546l27 10 6-14-27-4zM1728 1542l5 4 6-8-26-10-2 1zM1711 1529l2-1-27 4-3-3zM1683 1529l3 3-26-8-5 3zM1655 1527l5-3-27 1-3-6zM1442 1506l14-7 16-6 3 1-26-1zM1416 1502l26 4 7-13-26-7zM1390 1495l26 7 7-16-26 2zM1364 1497l26-2 7-7-26-7zM1338 1496l26 1 7-16-26-3zM1312 1488l26 8 7-18-26-1zM1286 1485l26 3 7-11-26-6zM1260 1479l26 6 7-14-26-9z"/>
<path fill="#c0e8f0" d="M1707 1531l21 11-17-13zM1681 1527l26 4 4-2-28 0zM1627 1513l27 15 1-1-25-8z"/>
<path fill="#2c5ec0" d="M697 1418l22 13 3-16zM719 1431l25 5 3-17-25-4zM744 1436l25 8 4-23-26-2zM769 1444l25-1 3-16-24-6zM794 1443l25 10 4-24-26-2zM819 1453l25 0 4-19-25-5zM844 1453l25 5 4-20-25-4zM869 1458l25 3 4-19-25-4zM894 1461l26 7 3-21-25-5zM920 1468l25 2 4-20-26-3zM945 1470l25 4 4-19-25-5zM970 1474l26 2 5-19-27-2zM996 1476l25 8 4-22-24-5zM1021 1484l26 2 3-19-25-5zM1047 1486l25 5 4-21-26-3zM1072 1491l26 7 4-23-26-5zM1098 1498l25-6 2-10-23-7zM1123 1492l26 11 4-20-28-1zM1149 1503l26 8 4-24-26-4zM1175 1511l25-3 3-14-24-7zM1200 1508l26 10 4-23-27-1zM1226 1518l26 1 4-19-26-5zM1408 1548l20-12-16-11zM1382 1541l26 7 4-23-27-3zM1356 1538l26 3 3-19-25-6zM1330 1533l26 5 4-22-26-5zM1304 1530l26 3 4-22-26-3zM1278 1522l26 8 4-22-26-4zM1252 1519l26 3 4-18-26-4z"/>
<path fill="#50c8f0" d="M371 1352l25 6 10-15-24-4zM396 1358l24 4 10-16-24-3zM420 1362l25 1 10-14-25-3zM445 1363l25 7 9-19-24-2zM470 1370l24 7 10-21-25-5zM494 1377l25 2 10-16-25-7zM519 1379l24 2 10-15-24-3zM543 1381l25 3 10-12-25-6zM568 1384l24 2 11-10-25-4zM592 1386l26 8 9-20-24 2zM618 1394l24 1 10-11-25-10zM642 1395l25 5 9-18-24 2zM667 1400l26 15 9-24-26-9zM693 1415l4 3 25-3 4-21-24-3zM747 1419l4-23-25-2-4 21zM773 1421l3-19-25-6-4 23zM797 1427l4-21-25-4-3 19zM823 1429l4-18-26-5-4 21zM848 1434l4-18-25-5-4 18zM873 1438l4-19-25-3-4 18zM898 1442l4-18-25-5-4 19zM923 1447l4-24-25 1-4 18zM949 1450l4-19-26-8-4 24zM974 1455l4-25-25 1-4 19zM1001 1457l3-12-26-15-4 25zM1025 1462l4-19-25 2-3 12zM1050 1467l4-21-25-3-4 19zM1076 1470l4-18-26-6-4 21zM1102 1475l3-23-25 0-4 18zM1125 1482l6-24-26-6-3 23zM1153 1483l4-19-26-6-6 24zM1179 1487l3-21-25-2-4 19zM1203 1494l5-29-26 1-3 21zM1230 1495l4-20-26-10-5 29zM1256 1500l4-21-26-4-4 20zM2051 1625l28 4 6-19-28 1zM2024 1619l27 6 6-14-27-12zM1997 1612l27 7 6-20-27-2zM1970 1605l27 7 6-15-27-5zM1942 1608l28-3 6-13-28-2zM1915 1600l27 8 6-18-27-8zM1888 1596l27 4 6-18-27-1zM1861 1593l27 3 6-15-27-5zM1834 1592l27 1 6-17-26-10zM1807 1585l27 7 7-26-28 4zM1780 1581l27 4 6-15-27-4zM1754 1571l26 10 6-15-26-10zM1727 1560l27 11 6-15-27-10zM1712 1556l15 4 6-14-5-4zM1435 1532l24-17-3-16-14 7zM1428 1536l7-4 7-26-26-4-4 23zM1412 1525l4-23-26-7-5 27zM1385 1522l5-27-26 2-4 19zM1360 1516l4-19-26-1-4 15zM1334 1511l4-15-26-8-4 20zM1308 1508l4-20-26-3-4 19zM1282 1504l4-19-26-6-4 21z"/>
<path fill="#c0e8f0" d="M1700 1553l12 3 16-14-21-11zM1674 1547l26 6 7-22-26-4zM1648 1546l26 1 7-20-27 1-7 17zM1620 1537l26 8 1 0 7-17-27-15zM1594 1533l26 4 7-24-26 0zM1567 1526l27 7 7-20-27-7zM1541 1519l26 7 7-20-26-7zM1514 1518l27 1 7-20-27 0zM1488 1512l26 6 7-19-26-8zM1461 1514l27-2 7-21-26 2zM1459 1515l2-1 8-21-13 6z"/>
<path fill="#2c5ec0" d="M684 1433l26 14 9-16-22-13-9 8zM710 1447l25 3 9-14-25-5zM735 1450l25 8 9-14-25-8zM760 1458l25 2 9-17-25 1zM785 1460l25 1 9-8-25-10zM810 1461l25 7 9-15-25 0zM835 1468l26 6 8-16-25-5zM861 1474l25 9 8-22-25-3zM886 1483l25 0 9-15-26-7zM911 1483l25 3 9-16-25-2zM936 1486l26 4 8-16-25-4zM962 1490l25 5 9-19-26-2zM987 1495l26 1 8-12-25-8zM1013 1496l25 6 9-16-26-2zM1038 1502l26 3 8-14-25-5zM1064 1505l25 3 9-10-26-7zM1089 1508l26 8 8-24-25 6zM1115 1516l26 2 8-15-26-11zM1141 1518l26-1 8-6-26-8zM1167 1517l25 7 8-16-25 3zM1192 1524l26 9 8-15-26-10zM1218 1533l26 2 8-16-26-1zM1401 1557l15-7 12-14-20 12zM1375 1557l26 0 7-9-26-7zM1348 1553l27 4 7-16-26-3zM1322 1547l26 6 8-15-26-5zM1296 1540l26 7 8-14-26-3zM1270 1537l26 3 8-10-26-8zM1244 1535l26 2 8-15-26-3z"/>
<path fill="#50c8f0" d="M361 1370l25 0 10-12-25-6zM386 1370l24 0 10-8-24-4zM410 1370l25 12 10-19-25-1zM435 1382l24-1 11-11-25-7zM459 1381l25 6 10-10-24-7zM484 1387l24 0 11-8-25-2zM508 1387l25 7 10-13-24-2zM533 1394l25 3 10-13-25-3zM558 1397l25 4 9-15-24-2zM583 1401l25 5 10-12-26-8zM608 1406l25 8 9-19-24-1zM633 1414l24-2 10-12-25-5zM657 1412l25 19 6-5 5-11-26-15zM697 1418l-4-3-5 11zM2046 1637l27 8 6-16-28-4zM2019 1630l27 7 5-12-27-6zM1991 1631l28-1 5-11-27-7zM1964 1628l27 3 6-19-27-7zM1936 1623l28 5 6-23-28 3zM1909 1616l27 7 6-15-27-8zM1882 1613l27 3 6-16-27-4zM1855 1608l27 5 6-17-27-3zM1828 1603l27 5 6-15-27-1zM1801 1604l27-1 6-11-27-7zM1774 1597l27 7 6-19-27-4zM1747 1589l27 8 6-16-26-10zM1720 1587l27 2 7-18-27-11zM1693 1577l27 10 7-27-15-4-13 0zM1666 1578l27-1 6-21-27-4zM1640 1570l26 8 6-26-24-6-1 0zM1613 1565l27 5 7-24-1-1-28 2zM1586 1562l27 3 5-18-26-6zM1560 1560l26 2 6-21-27-3zM1533 1553l27 7 5-22-28-2zM1507 1551l26 2 4-17-26-6zM1480 1546l27 5 4-21-26-4zM1454 1543l26 3 5-20-25-8zM1427 1544l27-1 6-25-1-3-24 17zM1416 1550l11-6 8-12-7 4z"/>
<path fill="#c0e8f0" d="M1712 1556l-12-3-1 3zM1699 1556l1-3-26-6-2 5zM1672 1552l2-5-26-1zM1646 1545l-26-8-2 10zM1618 1547l2-10-26-4-2 8zM1592 1541l2-8-27-7-2 12zM1565 1538l2-12-26-7-4 17zM1537 1536l4-17-27-1-3 12zM1511 1530l3-12-26-6-3 14zM1485 1526l3-14-27 2-1 4zM1460 1518l1-4-2 1z"/>
<path fill="#2c5ec0" d="M682 1434l2-1-2-2zM683 1447l17 15 10-15-26-14-2 1zM700 1462l25 5 10-17-25-3zM725 1467l26 5 9-14-25-8zM751 1472l25 6 9-18-25-2zM776 1478l25-2 9-15-25-1zM801 1476l25 9 9-17-25-7zM826 1485l26 5 9-16-26-6zM852 1490l25 1 9-8-25-9zM877 1491l25 0 9-8-25 0zM902 1491l26 8 8-13-25-3zM928 1499l25 7 9-16-26-4zM953 1506l26 3 8-14-25-5zM979 1509l25 1 9-14-26-1zM1004 1510l26 6 8-14-25-6zM1030 1516l26 6 8-17-26-3zM1056 1522l25 3 8-17-25-3zM1081 1525l26 2 8-11-26-8zM1107 1527l26 1 8-10-26-2zM1133 1528l26 12 8-23-26 1zM1159 1540l25 3 8-19-25-7zM1184 1543l26 4 8-14-26-9zM1210 1547l26 9 8-21-26-2zM1393 1572l17-7 6-15-15 7zM1367 1575l26-3 8-15-26 0zM1341 1567l26 8 8-18-27-4zM1315 1559l26 8 7-14-26-6zM1289 1561l26-2 7-12-26-7zM1262 1556l27 5 7-21-26-3zM1236 1556l26 0 8-19-26-2z"/>
<path fill="#50c8f0" d="M350 1377l25 7 11-14-25 0zM375 1384l25 5 10-19-24 0zM400 1389l25 9 10-16-25-12zM425 1398l24 0 10-17-24 1zM449 1398l25 4 10-15-25-6zM474 1402l25 3 9-18-24 0zM499 1405l25 6 9-17-25-7zM524 1411l24 2 10-16-25-3zM548 1413l25 5 10-17-25-4zM573 1418l25 7 10-19-25-5zM598 1425l25-2 10-9-25-8zM623 1423l25 4 9-15-24 2zM648 1427l26 12 8-5 0-3-25-19zM674 1439l9 8-1-13zM2041 1655l27 4 5-14-27-8zM2013 1652l28 3 5-18-27-7zM1986 1642l27 10 6-22-28 1zM1958 1642l28 0 5-11-27-3zM1931 1634l27 8 6-14-28-5zM1904 1630l27 4 5-11-27-7zM1876 1633l28-3 5-14-27-3zM1849 1625l27 8 6-20-27-5zM1821 1624l28 1 6-17-27-5zM1795 1613l26 11 7-21-27 1zM1767 1613l28 0 6-9-27-7zM1741 1603l26 10 7-16-27-8zM1714 1599l27 4 6-14-27-2zM1687 1595l27 4 6-12-27-10zM1660 1591l27 4 6-18-27 1zM1633 1586l27 5 6-13-26-8zM1606 1585l27 1 7-16-27-5zM1579 1586l27-1 7-20-27-3zM1553 1576l26 10 7-24-26-2zM1526 1574l27 2 7-16-27-7zM1499 1569l27 5 7-21-26-2zM1473 1564l26 5 8-18-27-5zM1446 1563l27 1 7-18-26-3zM1420 1561l26 2 8-20-27 1zM1410 1565l10-4 7-17-11 6z"/>
</g>
<path d="M179.1 721.2L1037.9 862.1L1122.8 610.6" fill="none" stroke="#222" stroke-width="2"/>
<path d="M191.4 723.2v9M216.0 727.3v11M228.3 729.3v9M240.7 731.3v9M253.1 733.3v11M265.5 735.4v9M315.3 743.6v9M327.8 745.6v11M352.9 749.7v9M378.1 753.9v9M403.4 758.0v11M416.0 760.1v9M428.7 762.2v9M479.7 770.5v11M518.2 776.8v11M531.1 779.0v9M582.8 787.4v9M595.8 789.6v11M621.8 793.8v9M648.0 798.1v9M661.1 800.3v9M674.2 802.4v11M700.5 806.8v9M713.7 808.9v11M727.0 811.1v9M753.5 815.4v11M766.8 817.6v9M780.1 819.8v9M793.5 822.0v11M806.8 824.2v9M820.2 826.4v9M833.6 828.6v11M901.1 839.7v9M914.7 841.9v11M928.3 844.1v9M941.9 846.4v9M955.5 848.6v11M969.2 850.8v9M982.9 853.1v9M996.6 855.3v11M1010.3 857.6v9M1037.9 862.1v11M1040.6 854.1h11M1043.3 846.2h11M1048.6 830.5h11M1051.2 822.7h11M1053.8 815.0h11M1056.4 807.3h11M1059.0 799.7h11M1061.5 792.1h11M1064.1 784.6h11M1066.6 777.1h11M1069.1 769.7h11M1071.6 762.3h11M1076.5 747.7h11M1079.0 740.4h11M1083.8 726.0h11M1086.2 718.9h11M1088.6 711.8h11M1091.0 704.8h11M1095.7 690.8h11M1100.4 677.1h11M1102.7 670.2h11M1105.0 663.4h11M1107.2 656.7h11M1109.5 650.0h11M1114.0 636.7h11M1116.2 630.1h11M1118.4 623.5h11M1120.6 617.0h11" fill="none" stroke="#777" stroke-width="1.6"/>
<g font-family="'Liberation Sans',Arial,sans-serif" fill="#1a1a1a">
<text x="0.6" y="82.8" font-size="57" font-weight="bold" textLength="36" lengthAdjust="spacingAndGlyphs">E</text>
<text x="146.3" y="685.9" font-size="37" text-anchor="end">20</text>
<text x="141.3" y="635.8" font-size="37" text-anchor="end">40</text>
<text x="134.0" y="583.0" font-size="37" text-anchor="end">60</text>
<text x="129.5" y="530.7" font-size="37" text-anchor="end">80</text>
<text x="125.3" y="479.0" font-size="37" text-anchor="end">100</text>
<text x="119.5" y="423.7" font-size="37" text-anchor="end">120</text>
<text x="112.0" y="368.4" font-size="37" text-anchor="end">140</text>
<text x="104.0" y="308.0" font-size="37" text-anchor="end">160</text>
<text x="97.0" y="249.2" font-size="37" text-anchor="end">180</text>
<text transform="translate(69 607) rotate(-96.3)" font-size="38.6">Pressure (mmHg)</text>
</g>
<!-- legend -->
<rect x="1207.5" y="16.5" width="138.5" height="900" fill="#fff" stroke="#808080" stroke-width="1.6"/>
<g font-family="'DejaVu Sans','Liberation Sans',sans-serif" font-size="22.3" fill="#222" stroke="#222" stroke-width="0.35">
<rect x="1218.5" y="22.9" width="17.5" height="17" fill="#e0409a" stroke="#444" stroke-width="1" />
<text x="1244" y="39.4">175-180</text>
<rect x="1218.5" y="47.6" width="17.5" height="17" fill="#f020a0" stroke="#444" stroke-width="1" />
<text x="1244" y="64.1">170-175</text>
<rect x="1218.5" y="72.3" width="17.5" height="17" fill="#f030a0" stroke="#444" stroke-width="1" />
<text x="1244" y="88.8">165-170</text>
<rect x="1218.5" y="97.0" width="17.5" height="17" fill="#f020b0" stroke="#444" stroke-width="1" />
<text x="1244" y="113.5">160-165</text>
<rect x="1218.5" y="121.7" width="17.5" height="17" fill="#f020a8" stroke="#444" stroke-width="1" />
<text x="1244" y="138.2">155-160</text>
<rect x="1218.5" y="146.3" width="17.5" height="17" fill="#f040a8" stroke="#444" stroke-width="1" />
<text x="1244" y="162.8">150-155</text>
<rect x="1218.5" y="171.0" width="17.5" height="17" fill="#380040" stroke="#444" stroke-width="1" />
<text x="1244" y="187.5">145-150</text>
<rect x="1218.5" y="195.7" width="17.5" height="17" fill="#500048" stroke="#444" stroke-width="1" />
<text x="1244" y="212.2">140-145</text>
<rect x="1218.5" y="220.4" width="17.5" height="17" fill="#680050" stroke="#444" stroke-width="1" />
<text x="1244" y="236.9">135-140</text>
<rect x="1218.5" y="245.1" width="17.5" height="17" fill="#900050" stroke="#444" stroke-width="1" />
<text x="1244" y="261.6">130-135</text>
<rect x="1218.5" y="269.8" width="17.5" height="17" fill="#c00070" stroke="#444" stroke-width="1" />
<text x="1244" y="286.3">125-130</text>
<rect x="1218.5" y="294.5" width="17.5" height="17" fill="#e01050" stroke="#444" stroke-width="1" />
<text x="1244" y="311.0">120-125</text>
<rect x="1218.5" y="319.2" width="17.5" height="17" fill="#e81c24" stroke="#444" stroke-width="1" />
<text x="1244" y="335.7">115-120</text>
<rect x="1218.5" y="343.9" width="17.5" height="17" fill="#f02020" stroke="#444" stroke-width="1" />
<text x="1244" y="360.4">110-115</text>
<rect x="1218.5" y="368.6" width="17.5" height="17" fill="#f02828" stroke="#444" stroke-width="1" />
<text x="1244" y="385.1">105-110</text>
<rect x="1218.5" y="393.2" width="17.5" height="17" fill="#f04028" stroke="#444" stroke-width="1" />
<text x="1244" y="409.8">100-105</text>
<rect x="1218.5" y="417.9" width="17.5" height="17" fill="#f45a28" stroke="#444" stroke-width="1" />
<text x="1244" y="434.4">95-100</text>
<rect x="1218.5" y="442.6" width="17.5" height="17" fill="#f46428" stroke="#444" stroke-width="1" />
<text x="1244" y="459.1">90-95</text>
<rect x="1218.5" y="467.3" width="17.5" height="17" fill="#f47028" stroke="#444" stroke-width="1" />
<text x="1244" y="483.8">85-90</text>
<rect x="1218.5" y="492.0" width="17.5" height="17" fill="#f89020" stroke="#444" stroke-width="1" />
<text x="1244" y="508.5">80-85</text>
<rect x="1218.5" y="516.7" width="17.5" height="17" fill="#f8981c" stroke="#444" stroke-width="1" />
<text x="1244" y="533.2">75-80</text>
<rect x="1218.5" y="541.4" width="17.5" height="17" fill="#fcb820" stroke="#444" stroke-width="1" />
<text x="1244" y="557.9">70-75</text>
<rect x="1218.5" y="566.1" width="17.5" height="17" fill="#fcd808" stroke="#444" stroke-width="1" />
<text x="1244" y="582.6">65-70</text>
<rect x="1218.5" y="590.8" width="17.5" height="17" fill="#fff000" stroke="#444" stroke-width="1" />
<text x="1244" y="607.3">60-65</text>
<rect x="1218.5" y="615.5" width="17.5" height="17" fill="#fff020" stroke="#444" stroke-width="1" />
<text x="1244" y="632.0">55-60</text>
<rect x="1218.5" y="640.1" width="17.5" height="17" fill="#f8e820" stroke="#444" stroke-width="1" />
<text x="1244" y="656.6">50-55</text>
<rect x="1218.5" y="664.8" width="17.5" height="17" fill="#b0d030" stroke="#444" stroke-width="1" />
<text x="1244" y="681.3">45-50</text>
<rect x="1218.5" y="689.5" width="17.5" height="17" fill="#88c840" stroke="#444" stroke-width="1" />
<text x="1244" y="706.0">40-45</text>
<rect x="1218.5" y="714.2" width="17.5" height="17" fill="#58b848" stroke="#444" stroke-width="1" />
<text x="1244" y="730.7">35-40</text>
<rect x="1218.5" y="738.9" width="17.5" height="17" fill="#28b050" stroke="#444" stroke-width="1" />
<text x="1244" y="755.4">30-35</text>
<rect x="1218.5" y="763.6" width="17.5" height="17" fill="#20b088" stroke="#444" stroke-width="1" />
<text x="1244" y="780.1">25-30</text>
<rect x="1218.5" y="788.3" width="17.5" height="17" fill="#38b8b0" stroke="#444" stroke-width="1" />
<text x="1244" y="804.8">20-25</text>
<rect x="1218.5" y="813.0" width="17.5" height="17" fill="#c0e8f0" stroke="#444" stroke-width="1" />
<text x="1244" y="829.5">15-20</text>
<rect x="1218.5" y="837.7" width="17.5" height="17" fill="#50c8f0" stroke="#444" stroke-width="1" />
<text x="1244" y="854.2">10-15</text>
<rect x="1218.5" y="862.4" width="17.5" height="17" fill="#2c5ec0" stroke="#444" stroke-width="1" />
<text x="1244" y="878.9">5-10</text>
<rect x="1218.5" y="887.1" width="17.5" height="17" fill="#2038a0" stroke="#444" stroke-width="1" />
<text x="1244" y="903.6">0-5</text>
</g>
<!-- panel F: pressure topography -->
<defs><filter id="hm" x="0" y="0" width="100%" height="100%" filterUnits="objectBoundingBox" color-interpolation-filters="sRGB"><feGaussianBlur stdDeviation="0.500"/><feComponentTransfer><feFuncR type="table" tableValues="0.251 0.251 0.235 0.214 0.188 0.166 0.086 0.038 0.006 0.000 0.000 0.000 0.000 0.031 0.063 0.102 0.163 0.257 0.345 0.424 0.502 0.561 0.627 0.706 0.784 0.863 0.924 0.958 0.992 0.991 0.990 0.988 0.982 0.976 0.971 0.966 0.961 0.955 0.949 0.943 0.941 0.941 0.941 0.929 0.910 0.910 0.900 0.885 0.871 0.859 0.847 0.816 0.784 0.758 0.732 0.701 0.668 0.634 0.603 0.572 0.541 0.522 0.502 0.482 0.553 0.656 0.797 0.910 0.910 0.910 0.910 0.910 0.910"/><feFuncG type="table" tableValues="0.188 0.214 0.267 0.324 0.376 0.399 0.502 0.584 0.634 0.675 0.714 0.686 0.659 0.643 0.627 0.647 0.665 0.681 0.701 0.727 0.753 0.773 0.797 0.828 0.853 0.869 0.884 0.897 0.910 0.878 0.847 0.816 0.779 0.743 0.706 0.667 0.627 0.600 0.572 0.544 0.515 0.483 0.452 0.407 0.353 0.280 0.244 0.232 0.226 0.223 0.220 0.204 0.188 0.188 0.188 0.188 0.188 0.188 0.182 0.173 0.165 0.167 0.170 0.172 0.196 0.231 0.288 0.333 0.333 0.333 0.333 0.333 0.333"/><feFuncB type="table" tableValues="0.565 0.617 0.643 0.664 0.690 0.690 0.761 0.822 0.856 0.873 0.886 0.804 0.722 0.612 0.502 0.384 0.301 0.270 0.251 0.251 0.251 0.251 0.245 0.229 0.213 0.198 0.188 0.188 0.188 0.167 0.146 0.125 0.113 0.101 0.099 0.112 0.125 0.135 0.144 0.153 0.163 0.174 0.184 0.176 0.157 0.157 0.166 0.182 0.217 0.265 0.314 0.376 0.439 0.492 0.544 0.573 0.587 0.601 0.584 0.559 0.533 0.514 0.494 0.475 0.518 0.571 0.600 0.624 0.624 0.624 0.624 0.624 0.624"/><feFuncA type="linear" slope="0" intercept="1"/></feComponentTransfer></filter><clipPath id="hmc"><rect x="1558" y="20" width="597" height="828"/></clipPath></defs>
<g clip-path="url(#hmc)"><g filter="url(#hm)" transform="translate(1540 2) scale(6)" stroke-width="1.04" fill="none" shape-rendering="crispEdges">
<rect x="0" y="0" width="106" height="144" fill="rgb(20,20,20)"/>
<path stroke="rgb(14,14,14)" d="M0 0.5h16M22 0.5h84M0 1.5h16M22 1.5h84M0 2.5h16M22 2.5h84M0 3.5h16M22 3.5h84M0 4.5h16M23 4.5h83M0 5.5h16M23 5.5h74M0 6.5h16M23 6.5h72M0 7.5h16M26 7.5h53M86 7.5h8M99 66.5h7M10 67.5h2M99 67.5h7M5 68.5h2M9 68.5h4M98 68.5h8M5 69.5h11M98 69.5h8M5 70.5h11M98 70.5h8M5 71.5h11M98 71.5h8M5 72.5h11M98 72.5h8M5 73.5h11M98 73.5h8M5 74.5h11M98 74.5h8M5 75.5h11M98 75.5h8M5 76.5h11M98 76.5h8M5 77.5h11M98 77.5h8M5 78.5h11M98 78.5h8M5 79.5h11M98 79.5h8M5 80.5h11M98 80.5h8M5 81.5h11M98 81.5h8M5 82.5h11M98 82.5h8M5 83.5h11M98 83.5h8M5 84.5h11M98 84.5h8M5 85.5h11M98 85.5h8M5 86.5h11M98 86.5h8M5 87.5h11M99 87.5h7M5 88.5h11M99 88.5h7M5 89.5h11M99 89.5h7M5 90.5h11M5 91.5h11M5 92.5h11M5 93.5h11M5 94.5h11M6 95.5h1M9 95.5h4"/>
<path stroke="rgb(16,16,16)" d="M16 0.5h1M16 1.5h1M16 2.5h1M16 3.5h1M16 4.5h1M22 4.5h1M16 5.5h1M97 5.5h9M95 6.5h2M24 7.5h2M79 7.5h7M94 7.5h1M81 32.5h1M86 32.5h1M81 33.5h1M86 33.5h1M81 34.5h1M86 34.5h1M81 35.5h1M86 35.5h1M10 36.5h1M81 36.5h1M86 36.5h1M10 37.5h2M81 37.5h1M86 37.5h1M10 38.5h2M81 38.5h1M86 38.5h1M10 39.5h2M81 39.5h1M86 39.5h1M10 40.5h2M81 40.5h1M86 40.5h1M10 41.5h2M81 41.5h1M86 41.5h1M10 42.5h2M81 42.5h1M86 42.5h1M10 43.5h2M81 43.5h1M86 43.5h1M10 44.5h2M81 44.5h1M86 44.5h1M10 45.5h2M81 45.5h1M86 45.5h1M10 46.5h2M81 46.5h1M86 46.5h1M10 47.5h2M81 47.5h1M86 47.5h1M10 48.5h2M81 48.5h1M86 48.5h1M10 49.5h2M81 49.5h1M86 49.5h1M10 50.5h2M81 50.5h1M86 50.5h1M10 51.5h2M81 51.5h1M86 51.5h1M10 52.5h2M81 52.5h1M86 52.5h1M10 53.5h2M81 53.5h1M86 53.5h1M10 54.5h2M81 54.5h1M86 54.5h1M10 55.5h2M81 55.5h1M86 55.5h1M10 56.5h2M81 56.5h1M86 56.5h1M10 57.5h2M81 57.5h1M86 57.5h1M10 58.5h2M81 58.5h1M86 58.5h1M10 59.5h2M81 59.5h1M86 59.5h1M10 60.5h2M81 60.5h1M86 60.5h1M10 61.5h2M81 61.5h1M86 61.5h1M10 62.5h2M81 62.5h1M86 62.5h1M10 63.5h2M81 63.5h1M86 63.5h1M10 64.5h2M81 64.5h1M86 64.5h1M99 64.5h7M10 65.5h2M81 65.5h1M86 65.5h1M99 65.5h7M10 66.5h2M81 66.5h1M86 66.5h1M98 66.5h1M5 67.5h2M9 67.5h1M12 67.5h1M81 67.5h1M86 67.5h1M98 67.5h1M7 68.5h2M13 68.5h3M81 68.5h1M86 68.5h1M16 69.5h1M81 69.5h1M86 69.5h1M16 70.5h1M81 70.5h1M86 70.5h1M16 71.5h1M81 71.5h1M86 71.5h1M16 72.5h1M81 72.5h1M86 72.5h1M16 73.5h1M81 73.5h1M86 73.5h1M16 74.5h1M81 74.5h1M86 74.5h1M16 75.5h1M81 75.5h1M86 75.5h1M16 76.5h1M86 76.5h1M16 77.5h1M86 77.5h1M16 78.5h1M86 78.5h1M16 79.5h1M86 79.5h1M16 80.5h1M86 80.5h1M16 81.5h1M86 81.5h1M16 82.5h1M86 82.5h1M16 83.5h1M86 83.5h1M16 84.5h1M16 85.5h1M16 86.5h1M16 87.5h1M98 87.5h1M16 88.5h1M98 88.5h1M16 89.5h1M98 89.5h1M16 90.5h1M98 90.5h8M16 91.5h1M99 91.5h7M16 92.5h1M16 93.5h1M16 94.5h1M5 95.5h1M7 95.5h2M13 95.5h3"/>
<path stroke="rgb(18,18,18)" d="M97 6.5h9M95 7.5h1M0 8.5h16M26 8.5h52M87 8.5h7M81 31.5h2M85 31.5h2M80 32.5h1M82 32.5h1M85 32.5h1M87 32.5h1M80 33.5h1M82 33.5h1M85 33.5h1M87 33.5h1M10 34.5h2M80 34.5h1M82 34.5h1M85 34.5h1M87 34.5h1M10 35.5h2M80 35.5h1M82 35.5h1M85 35.5h1M87 35.5h1M5 36.5h1M9 36.5h1M11 36.5h1M80 36.5h1M82 36.5h1M85 36.5h1M87 36.5h1M5 37.5h2M9 37.5h1M80 37.5h1M82 37.5h1M85 37.5h1M87 37.5h1M5 38.5h2M9 38.5h1M80 38.5h1M82 38.5h1M85 38.5h1M87 38.5h1M5 39.5h2M9 39.5h1M80 39.5h1M82 39.5h1M85 39.5h1M87 39.5h1M5 40.5h2M9 40.5h1M80 40.5h1M82 40.5h1M85 40.5h1M87 40.5h1M99 40.5h7M5 41.5h2M9 41.5h1M80 41.5h1M82 41.5h1M85 41.5h1M87 41.5h1M99 41.5h7M5 42.5h2M9 42.5h1M80 42.5h1M82 42.5h1M85 42.5h1M87 42.5h1M99 42.5h7M5 43.5h2M9 43.5h1M80 43.5h1M82 43.5h1M85 43.5h1M87 43.5h1M99 43.5h7M5 44.5h2M9 44.5h1M80 44.5h1M82 44.5h1M85 44.5h1M87 44.5h1M99 44.5h7M5 45.5h2M9 45.5h1M80 45.5h1M82 45.5h1M85 45.5h1M87 45.5h1M99 45.5h7M5 46.5h2M9 46.5h1M80 46.5h1M82 46.5h1M85 46.5h1M87 46.5h1M99 46.5h7M5 47.5h2M9 47.5h1M80 47.5h1M82 47.5h1M85 47.5h1M87 47.5h1M99 47.5h7M5 48.5h2M9 48.5h1M80 48.5h1M82 48.5h1M85 48.5h1M87 48.5h1M99 48.5h7M5 49.5h2M9 49.5h1M80 49.5h1M82 49.5h1M85 49.5h1M87 49.5h1M99 49.5h7M5 50.5h2M9 50.5h1M80 50.5h1M82 50.5h1M85 50.5h1M87 50.5h1M99 50.5h7M5 51.5h2M9 51.5h1M80 51.5h1M82 51.5h1M85 51.5h1M87 51.5h1M99 51.5h7M5 52.5h2M9 52.5h1M80 52.5h1M82 52.5h1M85 52.5h1M87 52.5h1M99 52.5h7M5 53.5h2M9 53.5h1M80 53.5h1M82 53.5h1M85 53.5h1M87 53.5h1M99 53.5h7M5 54.5h2M9 54.5h1M80 54.5h1M82 54.5h1M85 54.5h1M87 54.5h1M99 54.5h7M5 55.5h2M9 55.5h1M80 55.5h1M82 55.5h1M85 55.5h1M87 55.5h1M99 55.5h7M5 56.5h2M9 56.5h1M80 56.5h1M82 56.5h1M85 56.5h1M87 56.5h1M99 56.5h7M5 57.5h2M9 57.5h1M80 57.5h1M82 57.5h1M85 57.5h1M87 57.5h1M99 57.5h7M5 58.5h2M9 58.5h1M80 58.5h1M82 58.5h1M85 58.5h1M87 58.5h1M99 58.5h7M5 59.5h2M9 59.5h1M80 59.5h1M82 59.5h1M85 59.5h1M87 59.5h1M99 59.5h7M5 60.5h2M9 60.5h1M80 60.5h1M82 60.5h1M85 60.5h1M87 60.5h1M99 60.5h7M5 61.5h2M9 61.5h1M80 61.5h1M82 61.5h1M85 61.5h1M87 61.5h1M99 61.5h7M5 62.5h2M9 62.5h1M80 62.5h1M82 62.5h1M85 62.5h1M87 62.5h1M99 62.5h7M5 63.5h2M9 63.5h1M80 63.5h1M82 63.5h1M85 63.5h1M87 63.5h1M98 63.5h8M5 64.5h2M9 64.5h1M80 64.5h1M82 64.5h1M85 64.5h1M87 64.5h1M98 64.5h1M5 65.5h2M9 65.5h1M80 65.5h1M82 65.5h1M85 65.5h1M87 65.5h1M98 65.5h1M5 66.5h2M9 66.5h1M12 66.5h1M80 66.5h1M82 66.5h1M85 66.5h1M87 66.5h1M7 67.5h2M13 67.5h3M80 67.5h1M82 67.5h1M85 67.5h1M87 67.5h1M16 68.5h1M80 68.5h1M82 68.5h1M85 68.5h1M87 68.5h1M4 69.5h1M80 69.5h1M82 69.5h1M85 69.5h1M87 69.5h1M4 70.5h1M80 70.5h1M82 70.5h1M85 70.5h1M87 70.5h1M4 71.5h1M80 71.5h1M82 71.5h1M85 71.5h1M87 71.5h1M4 72.5h1M80 72.5h1M82 72.5h1M85 72.5h1M87 72.5h1M4 73.5h1M80 73.5h1M82 73.5h1M85 73.5h1M87 73.5h1M4 74.5h1M82 74.5h1M85 74.5h1M87 74.5h1M4 75.5h1M82 75.5h1M85 75.5h1M87 75.5h1M4 76.5h1M81 76.5h2M85 76.5h1M87 76.5h1M4 77.5h1M81 77.5h2M85 77.5h1M87 77.5h1M4 78.5h1M81 78.5h2M85 78.5h1M87 78.5h1M4 79.5h1M82 79.5h1M85 79.5h1M87 79.5h1M4 80.5h1M82 80.5h1M85 80.5h1M87 80.5h1M4 81.5h1M85 81.5h1M87 81.5h1M4 82.5h1M85 82.5h1M87 82.5h1M4 83.5h1M85 83.5h1M4 84.5h1M86 84.5h1M4 85.5h1M4 86.5h1M4 87.5h1M4 88.5h1M4 89.5h1M4 90.5h1M4 91.5h1M98 91.5h1M4 92.5h1M4 93.5h1M4 94.5h1M16 95.5h1"/>
<path stroke="rgb(22,22,22)" d="M25 8.5h1M80 8.5h1M84 8.5h1M0 26.5h9M13 26.5h4M8 27.5h5M60 30.5h1M80 30.5h1M82 30.5h1M85 30.5h1M87 30.5h1M59 31.5h1M61 31.5h1M65 31.5h1M70 31.5h1M75 31.5h1M83 31.5h2M90 31.5h1M94 31.5h1M59 32.5h1M61 32.5h1M65 32.5h2M69 32.5h2M75 32.5h2M79 32.5h1M88 32.5h2M91 32.5h1M94 32.5h2M65 33.5h2M69 33.5h1M75 33.5h2M79 33.5h1M88 33.5h2M91 33.5h1M95 33.5h1M65 34.5h2M69 34.5h1M75 34.5h2M79 34.5h1M88 34.5h2M91 34.5h1M95 34.5h1M65 35.5h2M69 35.5h1M75 35.5h2M79 35.5h1M88 35.5h2M91 35.5h1M95 35.5h1M65 36.5h2M69 36.5h1M75 36.5h2M79 36.5h1M88 36.5h2M91 36.5h1M95 36.5h1M65 37.5h2M69 37.5h1M75 37.5h2M79 37.5h1M88 37.5h2M91 37.5h1M95 37.5h1M65 38.5h2M69 38.5h1M75 38.5h2M79 38.5h1M88 38.5h2M91 38.5h1M95 38.5h1M98 38.5h8M65 39.5h2M69 39.5h1M75 39.5h2M79 39.5h1M88 39.5h2M91 39.5h1M95 39.5h1M65 40.5h2M69 40.5h1M75 40.5h2M79 40.5h1M88 40.5h2M91 40.5h1M95 40.5h1M65 41.5h2M69 41.5h1M75 41.5h2M79 41.5h1M88 41.5h2M91 41.5h1M95 41.5h1M65 42.5h2M69 42.5h1M75 42.5h2M79 42.5h1M88 42.5h2M91 42.5h1M95 42.5h1M65 43.5h2M69 43.5h1M75 43.5h2M79 43.5h1M88 43.5h2M91 43.5h1M95 43.5h1M65 44.5h2M69 44.5h1M75 44.5h2M79 44.5h1M88 44.5h2M91 44.5h1M95 44.5h1M65 45.5h2M69 45.5h1M75 45.5h2M79 45.5h1M88 45.5h2M91 45.5h1M95 45.5h1M65 46.5h2M69 46.5h1M75 46.5h2M79 46.5h1M88 46.5h2M91 46.5h1M95 46.5h1M65 47.5h2M69 47.5h1M75 47.5h2M79 47.5h1M88 47.5h2M91 47.5h1M95 47.5h1M65 48.5h2M69 48.5h1M75 48.5h2M79 48.5h1M88 48.5h2M91 48.5h1M95 48.5h1M65 49.5h2M69 49.5h1M75 49.5h2M79 49.5h1M88 49.5h2M91 49.5h1M95 49.5h1M59 50.5h1M65 50.5h2M69 50.5h1M75 50.5h2M79 50.5h1M88 50.5h2M91 50.5h1M95 50.5h1M59 51.5h1M65 51.5h2M69 51.5h1M75 51.5h2M79 51.5h1M88 51.5h2M91 51.5h1M95 51.5h1M60 52.5h2M65 52.5h2M69 52.5h1M75 52.5h2M79 52.5h1M88 52.5h2M91 52.5h1M95 52.5h1M61 53.5h1M65 53.5h2M69 53.5h1M75 53.5h2M79 53.5h1M88 53.5h2M91 53.5h1M95 53.5h1M65 54.5h2M69 54.5h1M75 54.5h2M79 54.5h1M88 54.5h2M91 54.5h1M95 54.5h1M65 55.5h2M69 55.5h1M75 55.5h2M79 55.5h1M88 55.5h2M91 55.5h1M95 55.5h1M66 56.5h1M69 56.5h1M75 56.5h2M79 56.5h1M88 56.5h2M91 56.5h1M95 56.5h1M69 57.5h2M75 57.5h2M79 57.5h1M88 57.5h2M91 57.5h1M95 57.5h1M70 58.5h1M75 58.5h2M79 58.5h1M88 58.5h2M91 58.5h1M95 58.5h1M75 59.5h2M79 59.5h1M88 59.5h2M91 59.5h1M95 59.5h1M75 60.5h2M79 60.5h1M88 60.5h2M91 60.5h1M95 60.5h1M75 61.5h2M79 61.5h1M88 61.5h2M91 61.5h1M95 61.5h1M75 62.5h1M79 62.5h1M88 62.5h2M91 62.5h1M95 62.5h1M79 63.5h1M88 63.5h2M91 63.5h1M95 63.5h1M79 64.5h1M88 64.5h2M91 64.5h1M95 64.5h1M79 65.5h1M88 65.5h2M91 65.5h1M95 65.5h1M79 66.5h1M88 66.5h2M91 66.5h1M95 66.5h1M79 67.5h1M88 67.5h2M91 67.5h1M95 67.5h1M79 68.5h1M88 68.5h2M91 68.5h1M95 68.5h1M79 69.5h1M88 69.5h2M91 69.5h1M95 69.5h1M79 70.5h1M88 70.5h2M91 70.5h1M95 70.5h1M79 71.5h1M88 71.5h2M91 71.5h1M95 71.5h1M79 72.5h1M88 72.5h2M91 72.5h1M95 72.5h1M79 73.5h1M88 73.5h2M91 73.5h1M95 73.5h1M79 74.5h1M88 74.5h2M91 74.5h1M95 74.5h1M88 75.5h2M91 75.5h1M95 75.5h1M88 76.5h2M91 76.5h1M95 76.5h1M80 77.5h1M88 77.5h2M91 77.5h1M95 77.5h1M88 78.5h2M91 78.5h1M95 78.5h1M88 79.5h2M91 79.5h1M95 79.5h1M88 80.5h2M91 80.5h1M95 80.5h1M81 81.5h1M88 81.5h2M91 81.5h1M95 81.5h1M82 82.5h2M88 82.5h2M91 82.5h1M94 82.5h2M84 83.5h1M88 83.5h2M91 83.5h1M94 83.5h2M88 84.5h2M91 84.5h1M94 84.5h2M87 85.5h1M91 85.5h1M95 85.5h1M91 86.5h1M95 86.5h1M90 87.5h2M94 87.5h2M90 88.5h1M94 88.5h1M98 92.5h8M6 96.5h1M9 96.5h4"/>
<path stroke="rgb(24,24,24)" d="M23 7.5h1M97 7.5h1M24 8.5h1M81 8.5h3M9 9.5h4M41 9.5h9M9 26.5h4M80 29.5h3M85 29.5h3M59 30.5h1M61 30.5h1M65 30.5h1M69 30.5h2M75 30.5h1M79 30.5h1M83 30.5h2M88 30.5h1M90 30.5h2M94 30.5h1M58 31.5h1M62 31.5h1M64 31.5h1M66 31.5h1M69 31.5h1M71 31.5h1M74 31.5h1M76 31.5h1M79 31.5h1M88 31.5h2M91 31.5h1M93 31.5h1M95 31.5h1M57 32.5h2M62 32.5h3M67 32.5h2M71 32.5h2M74 32.5h1M77 32.5h2M92 32.5h2M96 32.5h1M57 33.5h2M62 33.5h3M67 33.5h2M71 33.5h4M77 33.5h2M92 33.5h2M96 33.5h1M57 34.5h2M62 34.5h3M67 34.5h2M71 34.5h4M77 34.5h2M92 34.5h2M96 34.5h1M57 35.5h2M62 35.5h3M67 35.5h2M71 35.5h4M77 35.5h2M92 35.5h2M96 35.5h1M57 36.5h2M62 36.5h3M67 36.5h2M71 36.5h4M77 36.5h2M92 36.5h2M96 36.5h10M57 37.5h2M62 37.5h3M67 37.5h2M71 37.5h4M77 37.5h2M92 37.5h2M96 37.5h10M57 38.5h2M62 38.5h3M67 38.5h2M71 38.5h4M77 38.5h2M92 38.5h2M96 38.5h2M57 39.5h2M62 39.5h3M67 39.5h2M71 39.5h4M77 39.5h2M92 39.5h2M96 39.5h2M57 40.5h2M62 40.5h3M67 40.5h2M71 40.5h4M77 40.5h2M92 40.5h2M96 40.5h2M57 41.5h2M62 41.5h3M67 41.5h2M71 41.5h4M77 41.5h2M92 41.5h2M96 41.5h2M57 42.5h2M62 42.5h3M67 42.5h2M71 42.5h4M77 42.5h2M92 42.5h2M96 42.5h2M57 43.5h2M62 43.5h3M67 43.5h2M71 43.5h4M77 43.5h2M92 43.5h2M96 43.5h2M57 44.5h2M62 44.5h3M67 44.5h2M71 44.5h4M77 44.5h2M92 44.5h2M96 44.5h2M57 45.5h2M62 45.5h3M67 45.5h2M71 45.5h4M77 45.5h2M92 45.5h2M96 45.5h2M58 46.5h1M62 46.5h3M67 46.5h2M71 46.5h4M77 46.5h2M92 46.5h2M96 46.5h2M58 47.5h1M62 47.5h3M67 47.5h2M71 47.5h4M77 47.5h2M92 47.5h2M96 47.5h2M58 48.5h1M62 48.5h3M67 48.5h2M71 48.5h4M77 48.5h2M92 48.5h2M96 48.5h2M58 49.5h1M62 49.5h3M67 49.5h2M71 49.5h4M77 49.5h2M92 49.5h2M96 49.5h2M62 50.5h3M67 50.5h2M71 50.5h4M77 50.5h2M92 50.5h2M96 50.5h2M62 51.5h3M67 51.5h2M71 51.5h4M77 51.5h2M92 51.5h2M96 51.5h2M59 52.5h1M62 52.5h3M67 52.5h2M71 52.5h4M77 52.5h2M92 52.5h2M96 52.5h2M60 53.5h1M62 53.5h3M67 53.5h2M71 53.5h4M77 53.5h2M92 53.5h2M96 53.5h2M61 54.5h4M67 54.5h2M71 54.5h4M77 54.5h2M92 54.5h2M96 54.5h2M67 55.5h2M71 55.5h4M77 55.5h2M92 55.5h2M96 55.5h2M65 56.5h1M67 56.5h2M71 56.5h2M74 56.5h1M77 56.5h2M92 56.5h2M96 56.5h2M66 57.5h1M68 57.5h1M71 57.5h1M74 57.5h1M77 57.5h2M92 57.5h2M96 57.5h2M69 58.5h1M74 58.5h1M77 58.5h2M92 58.5h2M96 58.5h2M74 59.5h1M77 59.5h2M92 59.5h2M96 59.5h2M74 60.5h1M77 60.5h2M92 60.5h2M96 60.5h2M77 61.5h2M92 61.5h2M96 61.5h2M76 62.5h3M92 62.5h2M96 62.5h2M75 63.5h2M78 63.5h1M92 63.5h2M96 63.5h2M75 64.5h2M78 64.5h1M92 64.5h2M96 64.5h2M78 65.5h1M92 65.5h2M96 65.5h2M78 66.5h1M92 66.5h2M96 66.5h2M92 67.5h2M96 67.5h2M92 68.5h2M96 68.5h2M17 69.5h1M78 69.5h1M92 69.5h2M96 69.5h2M17 70.5h1M78 70.5h1M92 70.5h2M96 70.5h2M17 71.5h1M78 71.5h1M92 71.5h2M96 71.5h2M17 72.5h1M78 72.5h1M92 72.5h2M96 72.5h2M17 73.5h1M78 73.5h1M92 73.5h2M96 73.5h2M17 74.5h1M78 74.5h1M92 74.5h2M96 74.5h2M17 75.5h1M79 75.5h1M92 75.5h2M96 75.5h2M17 76.5h1M79 76.5h1M92 76.5h2M96 76.5h2M17 77.5h1M92 77.5h2M96 77.5h2M17 78.5h1M80 78.5h1M92 78.5h2M96 78.5h2M17 79.5h1M92 79.5h2M96 79.5h2M17 80.5h1M92 80.5h2M96 80.5h2M17 81.5h1M92 81.5h2M96 81.5h2M17 82.5h1M92 82.5h2M96 82.5h2M17 83.5h1M83 83.5h1M92 83.5h2M96 83.5h2M17 84.5h1M84 84.5h1M92 84.5h2M96 84.5h2M17 85.5h1M85 85.5h1M88 85.5h2M92 85.5h2M96 85.5h2M17 86.5h1M86 86.5h4M92 86.5h2M96 86.5h2M17 87.5h1M89 87.5h1M93 87.5h1M96 87.5h2M17 88.5h1M91 88.5h1M93 88.5h1M95 88.5h1M97 88.5h1M17 89.5h1M90 89.5h2M94 89.5h2M97 89.5h1M17 90.5h1M94 90.5h1M17 91.5h1M17 92.5h1M17 93.5h1M17 94.5h1M0 96.5h6M7 96.5h2M13 96.5h4"/>
<path stroke="rgb(26,26,26)" d="M98 7.5h8M95 8.5h1M6 9.5h3M13 9.5h2M27 9.5h14M50 9.5h27M88 9.5h6M0 25.5h7M15 25.5h2M17 26.5h1M17 27.5h1M17 28.5h1M81 28.5h1M86 28.5h1M17 29.5h1M59 29.5h3M65 29.5h2M69 29.5h2M75 29.5h2M79 29.5h1M83 29.5h2M88 29.5h4M94 29.5h2M17 30.5h1M46 30.5h13M62 30.5h3M66 30.5h3M71 30.5h4M76 30.5h3M89 30.5h1M92 30.5h2M95 30.5h11M17 31.5h1M46 31.5h12M63 31.5h1M67 31.5h2M72 31.5h2M77 31.5h2M92 31.5h1M96 31.5h10M17 32.5h1M47 32.5h10M73 32.5h1M97 32.5h9M17 33.5h1M48 33.5h9M97 33.5h9M17 34.5h1M49 34.5h8M97 34.5h9M17 35.5h1M50 35.5h7M97 35.5h9M17 36.5h1M51 36.5h6M17 37.5h1M51 37.5h6M17 38.5h1M52 38.5h5M17 39.5h1M52 39.5h5M17 40.5h1M53 40.5h4M17 41.5h1M54 41.5h3M17 42.5h1M54 42.5h3M17 43.5h1M55 43.5h2M17 44.5h1M55 44.5h2M17 45.5h1M56 45.5h1M17 46.5h1M56 46.5h2M17 47.5h1M56 47.5h2M17 48.5h1M57 48.5h1M17 49.5h1M57 49.5h1M17 50.5h1M58 50.5h1M17 51.5h1M58 51.5h1M17 52.5h1M17 53.5h1M59 53.5h1M17 54.5h1M60 54.5h1M17 55.5h1M63 55.5h2M17 56.5h1M73 56.5h1M17 57.5h1M67 57.5h1M72 57.5h2M17 58.5h1M67 58.5h2M71 58.5h3M17 59.5h1M69 59.5h2M73 59.5h1M17 60.5h1M17 61.5h1M74 61.5h1M17 62.5h1M74 62.5h1M17 63.5h1M74 63.5h1M77 63.5h1M17 64.5h1M77 64.5h1M17 65.5h1M75 65.5h3M17 66.5h1M77 66.5h1M17 67.5h1M78 67.5h1M17 68.5h1M78 68.5h1M77 69.5h1M77 70.5h1M76 71.5h2M76 72.5h2M76 73.5h2M76 74.5h2M78 75.5h1M80 79.5h1M81 82.5h1M82 83.5h1M87 87.5h2M92 87.5h1M89 88.5h1M92 88.5h1M96 88.5h1M92 89.5h2M96 89.5h1M91 90.5h1M93 90.5h1M95 90.5h3M94 91.5h2M97 91.5h1M17 95.5h1"/>
<path stroke="rgb(28,28,28)" d="M17 0.5h1M17 1.5h1M17 2.5h1M17 3.5h1M17 4.5h1M17 5.5h1M0 9.5h3M15 9.5h1M26 9.5h1M77 9.5h1M87 9.5h1M19 13.5h1M19 14.5h1M7 25.5h1M13 25.5h2M17 25.5h1M58 28.5h5M64 28.5h8M74 28.5h7M82 28.5h4M87 28.5h9M43 29.5h16M62 29.5h3M67 29.5h2M71 29.5h4M77 29.5h2M92 29.5h2M96 29.5h10M43 30.5h3M44 31.5h2M45 32.5h2M46 33.5h2M48 34.5h1M49 35.5h1M50 36.5h1M50 37.5h1M50 38.5h2M51 39.5h1M51 40.5h2M52 41.5h2M52 42.5h2M53 43.5h2M53 44.5h2M54 45.5h2M54 46.5h2M55 47.5h1M55 48.5h2M56 49.5h1M56 50.5h2M57 51.5h1M58 52.5h1M61 55.5h2M64 56.5h1M65 57.5h1M66 58.5h1M68 59.5h1M71 59.5h2M73 60.5h1M73 61.5h1M74 64.5h1M75 66.5h2M76 67.5h2M77 68.5h1M76 70.5h1M76 75.5h2M78 76.5h1M79 77.5h1M83 84.5h1M88 88.5h1M89 89.5h1M90 90.5h1M92 90.5h1M92 91.5h2M96 91.5h1M94 92.5h4M98 93.5h8M17 96.5h1"/>
<path stroke="rgb(30,30,30)" d="M18 0.5h1M18 1.5h1M18 2.5h1M18 3.5h1M18 4.5h1M18 5.5h1M22 5.5h1M18 6.5h1M18 7.5h1M18 8.5h1M3 9.5h1M5 9.5h1M18 9.5h1M94 9.5h1M8 10.5h6M18 10.5h2M28 10.5h26M71 10.5h3M90 10.5h4M18 11.5h2M18 12.5h2M18 13.5h1M18 14.5h1M18 15.5h2M19 16.5h1M16 24.5h4M8 25.5h1M12 25.5h1M18 25.5h3M41 25.5h65M18 26.5h3M41 26.5h65M18 27.5h3M41 27.5h65M18 28.5h3M41 28.5h17M63 28.5h1M72 28.5h2M96 28.5h10M18 29.5h3M41 29.5h2M18 30.5h3M42 30.5h1M18 31.5h3M43 31.5h1M18 32.5h3M44 32.5h1M18 33.5h4M45 33.5h1M18 34.5h4M46 34.5h2M18 35.5h5M48 35.5h1M18 36.5h8M49 36.5h1M18 37.5h13M49 37.5h1M18 38.5h14M49 38.5h1M18 39.5h15M49 39.5h2M18 40.5h17M49 40.5h2M18 41.5h17M49 41.5h3M18 42.5h17M49 42.5h3M18 43.5h18M50 43.5h3M18 44.5h18M50 44.5h3M18 45.5h18M51 45.5h3M18 46.5h18M53 46.5h1M18 47.5h19M53 47.5h2M18 48.5h19M53 48.5h2M18 49.5h20M54 49.5h2M18 50.5h20M54 50.5h2M18 51.5h20M55 51.5h2M18 52.5h20M57 52.5h1M18 53.5h20M58 53.5h1M18 54.5h19M18 55.5h19M18 56.5h18M18 57.5h18M18 58.5h18M18 59.5h22M67 59.5h1M18 60.5h22M72 60.5h1M18 61.5h22M18 62.5h22M73 62.5h1M18 63.5h22M73 63.5h1M18 64.5h22M73 64.5h1M18 65.5h22M74 65.5h1M18 66.5h22M18 67.5h23M18 68.5h23M76 68.5h1M18 69.5h24M76 69.5h1M18 70.5h25M18 71.5h26M18 72.5h27M75 72.5h1M18 73.5h27M75 73.5h1M18 74.5h28M75 74.5h1M18 75.5h29M48 75.5h1M18 76.5h32M77 76.5h1M18 77.5h33M18 78.5h33M18 79.5h32M18 80.5h33M80 80.5h1M18 81.5h33M18 82.5h34M18 83.5h37M18 84.5h38M18 85.5h38M84 85.5h1M18 86.5h39M85 86.5h1M18 87.5h39M86 87.5h1M18 88.5h40M59 88.5h3M87 88.5h1M18 89.5h46M18 90.5h50M89 90.5h1M18 91.5h51M90 91.5h2M18 92.5h51M92 92.5h2M18 93.5h52M93 93.5h5M18 94.5h52M73 94.5h1M96 94.5h10M18 95.5h58M18 96.5h59M27 97.5h28M62 97.5h16"/>
<path stroke="rgb(32,32,32)" d="M17 6.5h1M16 7.5h1M96 8.5h1M4 9.5h1M78 9.5h1M86 9.5h1M7 10.5h1M14 10.5h1M27 10.5h1M54 10.5h6M65 10.5h6M74 10.5h2M89 10.5h1M8 11.5h6M28 11.5h27M70 11.5h5M90 11.5h3M18 16.5h1M18 17.5h2M18 18.5h2M18 19.5h2M18 20.5h2M18 21.5h3M18 22.5h3M17 23.5h5M20 24.5h2M40 24.5h66M21 25.5h1M40 25.5h1M21 26.5h1M40 26.5h1M21 27.5h1M40 27.5h1M21 28.5h1M40 28.5h1M21 29.5h1M40 29.5h1M21 30.5h1M41 30.5h1M21 31.5h1M42 31.5h1M21 32.5h1M43 32.5h1M22 33.5h1M44 33.5h1M22 34.5h1M45 34.5h1M23 35.5h2M47 35.5h1M26 36.5h5M48 36.5h1M31 37.5h1M32 38.5h2M33 39.5h2M35 40.5h1M48 40.5h1M35 41.5h1M48 41.5h1M35 42.5h2M48 42.5h1M36 43.5h1M48 43.5h2M36 44.5h1M49 44.5h1M36 45.5h1M49 45.5h2M36 46.5h2M50 46.5h3M37 47.5h1M52 47.5h1M37 48.5h2M52 48.5h1M38 49.5h1M53 49.5h1M38 50.5h1M53 50.5h1M38 51.5h1M54 51.5h1M38 52.5h2M55 52.5h2M38 53.5h2M37 54.5h3M59 54.5h1M37 55.5h3M60 55.5h1M36 56.5h5M63 56.5h1M36 57.5h5M36 58.5h5M40 59.5h1M66 59.5h1M40 60.5h1M69 60.5h2M40 61.5h1M72 61.5h1M40 62.5h1M40 63.5h1M40 64.5h1M40 65.5h1M73 65.5h1M40 66.5h2M73 66.5h2M41 67.5h2M75 67.5h1M41 68.5h3M42 69.5h3M43 70.5h2M44 71.5h2M75 71.5h1M45 72.5h1M45 73.5h2M46 74.5h5M47 75.5h1M49 75.5h2M50 76.5h2M76 76.5h1M51 77.5h1M78 77.5h1M51 78.5h1M79 78.5h1M50 79.5h2M51 80.5h1M51 81.5h4M52 82.5h4M55 83.5h2M81 83.5h1M56 84.5h1M82 84.5h1M56 85.5h2M57 86.5h1M57 87.5h6M58 88.5h1M62 88.5h2M64 89.5h4M88 89.5h1M68 90.5h2M69 91.5h1M69 92.5h2M91 92.5h1M70 93.5h5M92 93.5h1M70 94.5h3M74 94.5h2M93 94.5h3M76 95.5h2M95 95.5h11M77 96.5h3M0 97.5h27M55 97.5h7M78 97.5h3M26 98.5h30M61 98.5h20M27 103.5h27M62 103.5h22M24 104.5h33M59 104.5h38M0 105.5h97M0 106.5h98M0 107.5h99M0 108.5h106M0 109.5h106M0 110.5h106M0 111.5h106M0 112.5h106M0 113.5h106M0 114.5h106M0 115.5h106M0 116.5h106M0 117.5h106M0 118.5h106M0 119.5h106M0 120.5h106M0 121.5h106M0 122.5h106M0 123.5h106M0 124.5h106M0 125.5h106M0 126.5h106M0 127.5h106M0 128.5h106M0 129.5h106M0 130.5h106M0 131.5h106M0 132.5h106M0 133.5h106M0 134.5h106M0 135.5h106M0 136.5h106M0 137.5h106M0 138.5h106M0 139.5h106M0 140.5h106M0 141.5h106M0 142.5h106M0 143.5h106"/>
<path stroke="rgb(34,34,34)" d="M19 9.5h1M79 9.5h1M85 9.5h1M15 10.5h1M60 10.5h5M76 10.5h1M88 10.5h1M14 11.5h1M55 11.5h2M68 11.5h2M75 11.5h1M89 11.5h1M93 11.5h1M9 12.5h3M20 19.5h1M20 20.5h2M17 21.5h1M21 21.5h1M17 22.5h1M21 22.5h1M0 24.5h6M15 24.5h1M22 24.5h1M39 24.5h1M9 25.5h3M22 25.5h1M39 25.5h1M22 26.5h1M22 27.5h1M22 31.5h1M22 32.5h1M43 33.5h1M23 34.5h1M44 34.5h1M25 35.5h1M46 35.5h1M31 36.5h1M47 36.5h1M32 37.5h1M48 37.5h1M48 38.5h1M35 39.5h1M48 39.5h1M36 40.5h1M36 41.5h1M37 44.5h1M48 44.5h1M37 45.5h1M49 46.5h1M38 47.5h1M50 47.5h2M39 49.5h1M52 49.5h1M39 50.5h1M39 51.5h1M40 53.5h1M57 53.5h1M40 54.5h1M40 55.5h1M41 56.5h1M62 56.5h1M41 57.5h1M41 58.5h1M65 58.5h1M41 59.5h1M41 60.5h1M68 60.5h1M71 60.5h1M41 61.5h1M72 62.5h1M72 63.5h1M72 64.5h1M41 65.5h1M72 65.5h1M42 66.5h1M72 66.5h1M43 67.5h2M74 67.5h1M44 68.5h1M75 68.5h1M45 69.5h1M75 69.5h1M45 70.5h1M75 70.5h1M46 72.5h1M47 73.5h4M51 75.5h1M75 75.5h1M77 77.5h1M52 80.5h1M55 81.5h1M80 81.5h1M56 82.5h1M57 84.5h1M83 85.5h1M58 86.5h4M63 87.5h1M64 88.5h1M86 88.5h1M68 89.5h1M87 89.5h1M88 90.5h1M70 91.5h1M89 91.5h1M71 92.5h1M90 92.5h1M75 93.5h1M91 93.5h1M76 94.5h1M78 95.5h1M94 95.5h1M80 96.5h1M81 97.5h1M23 98.5h3M56 98.5h5M81 98.5h1M26 99.5h29M61 99.5h21M28 100.5h25M63 100.5h18M29 101.5h24M64 101.5h17M27 102.5h28M62 102.5h21M25 103.5h2M54 103.5h3M60 103.5h2M84 103.5h13M17 104.5h7M57 104.5h2M97 105.5h1M98 106.5h1M99 107.5h7"/>
<path stroke="rgb(36,36,36)" d="M25 9.5h1M6 10.5h1M7 11.5h1M27 11.5h1M57 11.5h2M66 11.5h2M76 11.5h1M88 11.5h1M12 12.5h1M17 17.5h1M17 18.5h1M17 19.5h1M17 20.5h1M16 23.5h1M6 24.5h1M39 26.5h1M22 28.5h1M22 29.5h1M22 30.5h1M40 30.5h1M41 31.5h1M42 32.5h1M26 35.5h2M45 35.5h1M46 36.5h1M33 37.5h1M47 37.5h1M34 38.5h1M47 38.5h1M47 39.5h1M47 40.5h1M47 41.5h1M47 42.5h1M37 43.5h1M48 45.5h1M38 46.5h1M39 47.5h1M49 47.5h1M39 48.5h1M51 48.5h1M40 51.5h1M53 51.5h1M40 52.5h1M54 52.5h1M56 53.5h1M41 55.5h1M61 56.5h1M64 57.5h1M67 60.5h1M41 62.5h1M41 63.5h1M41 64.5h1M43 66.5h1M45 67.5h1M73 67.5h1M45 68.5h1M46 71.5h1M47 72.5h1M51 74.5h1M52 77.5h1M52 78.5h1M52 79.5h1M79 79.5h1M53 80.5h2M56 81.5h1M57 83.5h1M58 85.5h2M62 86.5h1M84 86.5h1M85 87.5h1M65 88.5h2M71 91.5h1M88 91.5h1M72 92.5h2M89 92.5h1M77 94.5h1M92 94.5h1M79 95.5h1M93 95.5h1M81 96.5h1M96 96.5h10M82 97.5h1M19 98.5h4M82 98.5h1M25 99.5h1M55 99.5h1M60 99.5h1M27 100.5h1M53 100.5h2M62 100.5h1M81 100.5h1M27 101.5h2M53 101.5h2M62 101.5h2M81 101.5h1M26 102.5h1M55 102.5h1M61 102.5h1M83 102.5h2M23 103.5h2M57 103.5h3M0 104.5h17M97 104.5h1M98 105.5h1M99 106.5h2"/>
<path stroke="rgb(38,38,38)" d="M21 0.5h1M21 1.5h1M21 2.5h1M19 8.5h1M97 8.5h1M24 9.5h1M80 9.5h1M84 9.5h1M77 10.5h1M87 10.5h1M94 10.5h1M59 11.5h2M64 11.5h2M8 12.5h1M17 15.5h1M17 16.5h1M22 23.5h1M14 24.5h1M38 24.5h1M39 27.5h1M39 28.5h1M23 33.5h1M24 34.5h1M43 34.5h1M28 35.5h2M44 35.5h1M32 36.5h1M45 36.5h1M46 37.5h1M37 42.5h1M47 43.5h1M38 45.5h1M48 46.5h1M50 48.5h1M40 49.5h1M51 49.5h1M40 50.5h1M52 50.5h1M41 53.5h1M41 54.5h1M58 54.5h1M42 56.5h1M42 57.5h1M42 58.5h1M42 59.5h1M42 60.5h1M71 61.5h1M42 65.5h1M44 66.5h1M72 67.5h1M74 68.5h1M46 69.5h1M46 70.5h1M48 72.5h2M51 73.5h1M74 73.5h1M52 76.5h1M75 76.5h1M76 77.5h1M78 78.5h1M53 79.5h1M55 80.5h1M57 82.5h1M80 82.5h1M58 84.5h1M60 85.5h2M82 85.5h1M67 88.5h1M69 89.5h1M70 90.5h1M87 90.5h1M74 92.5h1M76 93.5h1M90 93.5h1M91 94.5h1M80 95.5h1M95 96.5h1M16 98.5h3M24 99.5h1M56 99.5h4M82 99.5h1M26 100.5h1M55 100.5h1M61 100.5h1M82 100.5h1M26 101.5h1M55 101.5h1M61 101.5h1M82 101.5h1M25 102.5h1M56 102.5h1M60 102.5h1M85 102.5h4M20 103.5h3M97 103.5h1M101 106.5h5"/>
<path stroke="rgb(40,40,40)" d="M81 9.5h1M83 9.5h1M95 9.5h1M26 10.5h1M15 11.5h1M61 11.5h3M13 12.5h1M10 13.5h1M17 14.5h1M7 24.5h1M23 24.5h1M23 25.5h1M39 29.5h1M42 33.5h1M30 35.5h1M45 37.5h1M35 38.5h1M46 38.5h1M36 39.5h1M46 39.5h1M37 41.5h1M38 44.5h1M47 44.5h1M39 46.5h1M40 48.5h1M49 48.5h1M50 49.5h1M41 52.5h1M55 53.5h1M42 55.5h1M59 55.5h1M42 61.5h1M70 61.5h1M71 62.5h1M42 64.5h1M71 64.5h1M43 65.5h1M71 65.5h1M45 66.5h1M71 66.5h1M46 68.5h1M72 68.5h2M74 69.5h1M47 71.5h1M74 71.5h1M50 72.5h1M74 72.5h1M74 74.5h1M52 75.5h1M58 83.5h1M59 84.5h1M81 84.5h1M63 86.5h1M83 86.5h1M64 87.5h1M85 88.5h1M86 89.5h1M72 91.5h1M87 91.5h1M78 94.5h1M92 95.5h1M82 96.5h1M94 96.5h1M13 98.5h3M83 98.5h1M23 99.5h1M83 99.5h1M25 100.5h1M56 100.5h1M60 100.5h1M25 101.5h1M60 101.5h1M83 101.5h1M24 102.5h1M57 102.5h3M89 102.5h8M18 103.5h2M98 104.5h1M99 105.5h1"/>
<path stroke="rgb(42,42,42)" d="M17 7.5h1M98 8.5h8M82 9.5h1M0 10.5h3M5 10.5h1M77 11.5h1M87 11.5h1M43 12.5h5M11 13.5h1M17 13.5h1M16 22.5h1M42 23.5h4M54 23.5h3M78 23.5h1M82 23.5h3M89 23.5h10M13 24.5h1M38 25.5h1M40 31.5h1M23 32.5h1M41 32.5h1M31 35.5h1M44 36.5h1M34 37.5h1M45 38.5h1M37 40.5h1M46 40.5h1M46 41.5h1M39 45.5h1M47 45.5h1M40 47.5h1M48 47.5h1M41 51.5h1M42 53.5h1M42 54.5h1M60 56.5h1M66 60.5h1M69 61.5h1M42 62.5h1M42 63.5h1M71 63.5h1M44 65.5h1M46 67.5h1M71 67.5h1M73 69.5h1M47 70.5h1M74 70.5h1M48 71.5h1M52 74.5h1M74 75.5h1M53 78.5h1M77 78.5h1M54 79.5h1M56 80.5h1M79 80.5h1M57 81.5h1M60 84.5h1M62 85.5h1M84 87.5h1M68 88.5h1M86 90.5h1M73 91.5h1M75 92.5h1M88 92.5h1M89 93.5h1M81 95.5h1M93 96.5h1M83 97.5h1M0 98.5h13M20 99.5h3M24 100.5h1M57 100.5h1M59 100.5h1M83 100.5h1M24 101.5h1M56 101.5h1M59 101.5h1M84 101.5h1M23 102.5h1M16 103.5h2M100 105.5h1"/>
<path stroke="rgb(44,44,44)" d="M19 7.5h1M3 10.5h1M78 10.5h1M86 10.5h1M94 11.5h1M14 12.5h1M29 12.5h8M41 12.5h2M48 12.5h3M89 12.5h3M9 13.5h1M20 18.5h1M21 19.5h1M41 23.5h1M46 23.5h8M57 23.5h4M64 23.5h14M79 23.5h3M85 23.5h4M99 23.5h7M23 26.5h1M39 30.5h1M25 34.5h1M33 36.5h1M44 37.5h1M46 42.5h1M38 43.5h1M40 46.5h1M41 49.5h1M49 49.5h1M41 50.5h1M51 50.5h1M52 51.5h1M53 52.5h1M57 54.5h1M43 56.5h1M43 57.5h1M63 57.5h1M65 59.5h1M68 61.5h1M46 66.5h1M49 71.5h1M53 77.5h1M55 79.5h1M78 79.5h1M58 82.5h1M59 83.5h1M61 84.5h1M65 87.5h1M85 89.5h1M71 90.5h1M86 91.5h1M77 93.5h1M79 94.5h1M90 94.5h1M97 97.5h9M84 98.5h1M19 99.5h1M23 100.5h1M58 100.5h1M57 101.5h2M85 101.5h1M21 102.5h2M97 102.5h1M13 103.5h3M98 103.5h1M99 104.5h1M101 105.5h5"/>
<path stroke="rgb(46,46,46)" d="M6 11.5h1M17 12.5h1M28 12.5h1M37 12.5h4M51 12.5h4M70 12.5h5M12 13.5h1M22 22.5h1M3 23.5h3M15 23.5h1M40 23.5h1M61 23.5h3M8 24.5h1M12 24.5h1M37 24.5h1M23 27.5h1M23 31.5h1M43 35.5h1M45 39.5h1M45 40.5h1M38 42.5h1M46 43.5h1M39 44.5h1M47 46.5h1M41 48.5h1M48 48.5h1M42 52.5h1M54 53.5h1M43 55.5h1M62 57.5h1M43 58.5h1M43 59.5h1M67 61.5h1M70 62.5h1M43 64.5h1M45 65.5h1M47 68.5h1M71 68.5h1M47 69.5h1M72 69.5h1M73 70.5h1M73 71.5h1M51 72.5h1M53 76.5h1M75 77.5h1M54 78.5h1M60 83.5h1M80 83.5h1M82 86.5h1M83 87.5h1M84 88.5h1M70 89.5h1M85 90.5h1M74 91.5h1M87 92.5h1M91 95.5h1M95 97.5h2M18 99.5h1M84 99.5h1M22 100.5h1M84 100.5h1M23 101.5h1M86 101.5h1M19 102.5h2M0 103.5h13"/>
<path stroke="rgb(48,48,48)" d="M19 6.5h1M4 10.5h1M26 11.5h1M7 12.5h1M55 12.5h1M68 12.5h2M75 12.5h1M88 12.5h1M92 12.5h1M16 21.5h1M0 23.5h3M23 23.5h1M39 23.5h1M24 24.5h1M38 26.5h1M23 28.5h1M23 29.5h1M23 30.5h1M24 33.5h1M42 34.5h1M44 38.5h1M46 44.5h1M40 45.5h1M41 47.5h1M43 53.5h1M43 54.5h1M64 58.5h1M43 60.5h1M70 65.5h1M70 66.5h1M47 67.5h1M48 70.5h1M50 71.5h1M73 72.5h1M52 73.5h1M73 73.5h1M73 74.5h1M74 76.5h1M76 78.5h1M56 79.5h1M57 80.5h1M79 81.5h1M62 84.5h1M63 85.5h1M81 85.5h1M64 86.5h1M66 87.5h1M76 92.5h1M88 93.5h1M80 94.5h1M83 96.5h1M92 96.5h1M84 97.5h1M17 99.5h1M21 100.5h1M85 100.5h1M22 101.5h1M87 101.5h2M18 102.5h1M100 104.5h1"/>
<path stroke="rgb(50,50,50)" d="M96 9.5h1M25 10.5h1M79 10.5h1M85 10.5h1M17 11.5h1M15 12.5h1M56 12.5h1M67 12.5h1M76 12.5h1M6 23.5h1M38 23.5h1M9 24.5h1M11 24.5h1M26 34.5h1M32 35.5h1M43 36.5h1M37 39.5h1M38 41.5h1M45 41.5h1M39 43.5h1M40 44.5h1M41 46.5h1M47 47.5h1M50 50.5h1M42 51.5h1M56 54.5h1M58 55.5h1M61 57.5h1M43 61.5h1M43 62.5h1M43 63.5h1M44 64.5h1M70 64.5h1M46 65.5h1M71 69.5h1M72 70.5h1M53 75.5h1M55 78.5h1M58 81.5h1M59 82.5h1M61 83.5h1M69 88.5h1M84 89.5h1M72 90.5h1M85 91.5h1M78 93.5h1M89 94.5h1M82 95.5h1M94 97.5h1M85 98.5h1M15 99.5h2M85 99.5h1M20 100.5h1M20 101.5h2M89 101.5h1M17 102.5h1M98 102.5h1M99 103.5h1M101 104.5h5"/>
<path stroke="rgb(52,52,52)" d="M17 8.5h1M24 10.5h1M95 10.5h1M78 11.5h1M86 11.5h1M57 12.5h1M66 12.5h1M8 13.5h1M13 13.5h1M16 20.5h1M10 24.5h1M24 25.5h1M38 27.5h1M39 31.5h1M40 32.5h1M41 33.5h1M36 38.5h1M44 39.5h1M38 40.5h1M45 42.5h1M46 45.5h1M42 49.5h1M48 49.5h1M42 50.5h1M43 52.5h1M59 56.5h1M69 62.5h1M70 63.5h1M45 64.5h1M47 66.5h1M70 67.5h1M48 69.5h1M49 70.5h1M72 71.5h1M73 75.5h1M54 77.5h1M77 79.5h1M78 80.5h1M67 87.5h1M83 88.5h1M84 90.5h1M75 91.5h1M90 95.5h1M14 99.5h1M19 100.5h1M86 100.5h1M19 101.5h1M90 101.5h7M16 102.5h1"/>
<path stroke="rgb(54,54,54)" d="M19 5.5h1M17 10.5h1M27 12.5h1M58 12.5h2M65 12.5h1M87 12.5h1M93 12.5h1M22 21.5h1M37 23.5h1M38 28.5h1M35 37.5h1M43 37.5h1M44 40.5h1M39 42.5h1M45 43.5h1M41 45.5h1M42 48.5h1M51 51.5h1M52 52.5h1M44 54.5h1M44 55.5h1M44 56.5h1M44 57.5h1M66 61.5h1M72 72.5h1M74 77.5h1M60 82.5h1M79 82.5h1M80 84.5h1M82 87.5h1M86 92.5h1M81 94.5h1M85 97.5h1M0 99.5h14M18 100.5h1M97 101.5h1M15 102.5h1M99 102.5h1M100 103.5h1"/>
<path stroke="rgb(56,56,56)" d="M16 8.5h1M23 8.5h1M17 9.5h1M0 11.5h3M60 12.5h1M64 12.5h1M77 12.5h1M10 14.5h2M14 23.5h1M36 24.5h1M37 25.5h1M38 29.5h1M27 34.5h1M34 36.5h1M44 41.5h1M40 43.5h1M46 46.5h1M42 47.5h1M47 48.5h1M49 50.5h1M43 51.5h1M44 53.5h1M60 57.5h1M44 58.5h1M44 59.5h1M65 60.5h1M68 62.5h1M44 63.5h1M48 68.5h1M70 68.5h1M50 70.5h1M71 70.5h1M51 71.5h1M72 73.5h1M53 74.5h1M73 76.5h1M56 78.5h1M75 78.5h1M62 83.5h1M81 86.5h1M68 87.5h1M83 89.5h1M73 90.5h1M77 92.5h1M79 93.5h1M87 93.5h1M84 96.5h1M91 96.5h1M93 97.5h1M86 98.5h1M99 98.5h7M86 99.5h1M17 100.5h1M87 100.5h1M18 101.5h1M14 102.5h1M101 103.5h5"/>
<path stroke="rgb(58,58,58)" d="M80 10.5h1M84 10.5h1M5 11.5h1M25 11.5h1M61 12.5h3M22 20.5h1M7 23.5h1M24 23.5h1M43 38.5h1M39 41.5h1M41 44.5h1M45 44.5h1M42 46.5h1M43 50.5h1M53 53.5h1M55 54.5h1M63 58.5h1M44 60.5h1M44 61.5h1M44 62.5h1M46 64.5h1M47 65.5h1M48 67.5h1M49 69.5h1M52 72.5h1M72 74.5h1M54 76.5h1M55 77.5h1M57 79.5h1M76 79.5h1M58 80.5h1M59 81.5h1M61 82.5h1M63 84.5h1M65 86.5h1M71 89.5h1M84 91.5h1M88 94.5h1M83 95.5h1M89 95.5h1M96 98.5h3M17 101.5h1M98 101.5h1M12 102.5h2M100 102.5h1"/>
<path stroke="rgb(60,60,60)" d="M19 4.5h1M3 11.5h1M14 13.5h1M9 14.5h1M20 17.5h1M13 23.5h1M36 23.5h1M25 24.5h1M24 32.5h1M28 34.5h1M33 35.5h1M43 39.5h1M40 42.5h1M44 42.5h1M42 45.5h1M46 47.5h1M43 49.5h1M47 49.5h1M44 52.5h1M67 62.5h1M69 63.5h1M71 71.5h1M78 81.5h1M64 85.5h1M82 88.5h1M85 92.5h1M86 97.5h1M87 99.5h1M16 100.5h1M88 100.5h1M16 101.5h1M0 102.5h12M101 102.5h5"/>
<path stroke="rgb(62,62,62)" d="M97 9.5h1M79 11.5h1M85 11.5h1M95 11.5h1M12 14.5h1M16 19.5h1M4 22.5h1M15 22.5h1M24 26.5h1M38 30.5h1M29 34.5h1M42 35.5h1M39 40.5h1M43 40.5h1M41 43.5h1M44 43.5h1M45 45.5h1M43 48.5h1M50 51.5h1M57 55.5h1M62 58.5h1M64 59.5h1M45 63.5h1M69 64.5h1M69 65.5h1M48 66.5h1M70 69.5h1M72 75.5h1M77 80.5h1M79 83.5h1M80 85.5h1M70 88.5h1M83 90.5h1M76 91.5h1M80 93.5h1M82 94.5h1M85 96.5h1M90 96.5h1M92 97.5h1M87 98.5h1M95 98.5h1M15 100.5h1M89 100.5h1M99 101.5h1"/>
<path stroke="rgb(64,64,64)" d="M81 10.5h1M83 10.5h1M4 11.5h1M6 12.5h1M86 12.5h1M15 13.5h1M0 22.5h4M5 22.5h1M12 23.5h1M25 33.5h1M30 34.5h1M41 34.5h1M42 36.5h1M38 39.5h1M40 41.5h1M43 41.5h1M41 42.5h1M42 44.5h1M44 44.5h1M43 46.5h1M45 46.5h1M43 47.5h1M46 48.5h1M48 50.5h1M44 51.5h1M45 55.5h1M45 56.5h1M69 66.5h1M49 68.5h1M71 72.5h1M53 73.5h1M54 75.5h1M56 77.5h1M73 77.5h1M74 78.5h1M60 81.5h1M66 86.5h1M81 87.5h1M74 90.5h1M78 92.5h1M86 93.5h1M87 94.5h1M88 95.5h1M94 98.5h1M14 100.5h1M90 100.5h1M15 101.5h1M100 101.5h1"/>
<path stroke="rgb(66,66,66)" d="M82 10.5h1M78 12.5h1M8 23.5h1M35 23.5h1M35 24.5h1M42 37.5h1M37 38.5h1M40 40.5h1M43 42.5h1M42 43.5h2M43 44.5h1M43 45.5h2M44 46.5h1M45 47.5h1M44 48.5h1M44 49.5h1M44 50.5h1M51 52.5h1M45 53.5h1M45 54.5h1M58 56.5h1M45 57.5h1M61 58.5h1M45 62.5h1M47 64.5h1M50 69.5h1M51 70.5h1M71 73.5h1M55 76.5h1M57 78.5h1M75 79.5h1M62 82.5h1M63 83.5h1M69 87.5h1M84 95.5h1M89 96.5h1M87 97.5h1M88 99.5h1M12 100.5h2M91 100.5h7M14 101.5h1M101 101.5h5"/>
<path stroke="rgb(68,68,68)" d="M98 9.5h1M100 9.5h6M96 10.5h1M94 12.5h1M7 13.5h1M22 19.5h1M23 22.5h1M25 23.5h1M37 26.5h1M24 27.5h1M24 31.5h1M39 32.5h1M40 33.5h1M42 38.5h1M42 39.5h1M41 40.5h2M41 41.5h2M42 42.5h1M44 47.5h1M45 48.5h1M45 49.5h2M49 51.5h1M45 52.5h1M54 54.5h1M45 58.5h1M45 59.5h1M45 61.5h1M46 63.5h1M68 63.5h1M48 65.5h1M69 67.5h1M70 70.5h1M72 76.5h1M58 79.5h1M78 82.5h1M82 89.5h1M83 91.5h1M84 92.5h1M86 96.5h1M91 97.5h1M96 99.5h10M0 100.5h12M98 100.5h2M13 101.5h1"/>
<path stroke="rgb(70,70,70)" d="M19 3.5h1M21 3.5h1M99 9.5h1M26 12.5h1M20 16.5h1M6 22.5h1M11 23.5h1M25 25.5h1M31 34.5h1M47 50.5h1M52 53.5h1M59 57.5h1M45 60.5h1M66 62.5h1M49 67.5h1M52 71.5h1M54 74.5h1M71 74.5h1M59 80.5h1M76 80.5h1M61 81.5h1M79 84.5h1M67 86.5h1M80 86.5h1M72 89.5h1M81 93.5h1M85 93.5h1M83 94.5h1M86 94.5h1M85 95.5h1M87 95.5h1M87 96.5h2M88 98.5h1M93 98.5h1M95 99.5h1M100 100.5h6M0 101.5h13"/>
<path stroke="rgb(72,72,72)" d="M19 0.5h1M19 1.5h1M19 2.5h1M8 14.5h1M13 14.5h1M11 15.5h1M95 22.5h3M9 23.5h2M24 28.5h1M24 29.5h1M24 30.5h1M38 31.5h1M36 37.5h1M39 39.5h1M45 50.5h1M45 51.5h1M56 55.5h1M65 61.5h1M68 64.5h1M69 68.5h1M73 78.5h1M77 81.5h1M77 91.5h1M79 92.5h1M86 95.5h1M88 97.5h1M90 97.5h1M89 99.5h1"/>
<path stroke="rgb(74,74,74)" d="M80 11.5h1M84 11.5h1M25 12.5h1M10 15.5h1M94 22.5h1M98 22.5h1M26 24.5h1M36 25.5h1M35 36.5h1M40 39.5h2M46 50.5h1M50 52.5h1M60 58.5h1M63 59.5h1M46 62.5h1M67 63.5h1M49 66.5h1M70 71.5h1M55 75.5h1M71 75.5h1M56 76.5h1M57 77.5h1M72 77.5h1M74 79.5h1M64 84.5h1M65 85.5h1M81 88.5h1M75 90.5h1M82 90.5h1M84 94.5h2M89 97.5h1M89 98.5h1M92 98.5h1M94 99.5h1"/>
<path stroke="rgb(76,76,76)" d="M0 12.5h3M85 12.5h1M44 13.5h4M89 13.5h2M15 21.5h1M14 22.5h1M43 22.5h1M90 22.5h4M99 22.5h1M34 23.5h1M34 35.5h1M48 51.5h1M46 53.5h1M68 65.5h1M50 68.5h1M53 72.5h1M83 92.5h1M82 93.5h1M84 93.5h1M91 98.5h1M90 99.5h1M93 99.5h1"/>
<path stroke="rgb(78,78,78)" d="M5 12.5h1M79 12.5h1M43 13.5h1M91 13.5h1M12 15.5h1M42 22.5h1M44 22.5h2M54 22.5h3M83 22.5h1M89 22.5h1M100 22.5h2M34 24.5h1M32 34.5h1M41 38.5h1M46 51.5h1M46 52.5h1M64 60.5h1M47 63.5h1M48 64.5h1M68 66.5h1M51 69.5h1M58 78.5h1M60 80.5h1M62 81.5h1M63 82.5h1M78 83.5h1M79 85.5h1M68 86.5h1M80 87.5h1M71 88.5h1M82 91.5h1M80 92.5h1M83 93.5h1M90 98.5h1M91 99.5h2"/>
<path stroke="rgb(80,80,80)" d="M3 12.5h1M31 13.5h5M42 13.5h1M48 13.5h1M88 13.5h1M14 14.5h1M9 15.5h1M20 15.5h1M7 22.5h1M13 22.5h1M41 22.5h1M46 22.5h3M53 22.5h1M57 22.5h2M66 22.5h2M76 22.5h4M81 22.5h2M84 22.5h2M88 22.5h1M102 22.5h4M26 23.5h1M37 27.5h1M26 33.5h1M41 35.5h1M41 37.5h1M38 38.5h1M47 51.5h1M46 54.5h1M46 55.5h1M62 59.5h1M46 61.5h1M69 69.5h1M70 72.5h1M54 73.5h1M71 76.5h1M75 80.5h1M81 89.5h1M78 91.5h1"/>
<path stroke="rgb(82,82,82)" d="M97 10.5h1M81 11.5h1M83 11.5h1M96 11.5h1M29 13.5h2M49 13.5h1M53 13.5h2M12 22.5h1M49 22.5h1M52 22.5h1M59 22.5h1M65 22.5h1M68 22.5h2M71 22.5h5M80 22.5h1M86 22.5h2M41 36.5h1M49 52.5h1M51 53.5h1M53 54.5h1M46 56.5h1M57 56.5h1M46 60.5h1M67 64.5h1M50 67.5h1M52 70.5h1M70 73.5h1M55 74.5h1M56 75.5h1M57 76.5h1M59 79.5h1M73 79.5h1M64 83.5h1M70 87.5h1M73 89.5h1M81 92.5h2"/>
<path stroke="rgb(84,84,84)" d="M16 9.5h1M4 12.5h1M36 13.5h1M41 13.5h1M50 13.5h3M68 13.5h4M92 13.5h1M15 14.5h1M16 18.5h1M0 21.5h5M11 22.5h1M40 22.5h1M50 22.5h2M60 22.5h1M70 22.5h1M37 28.5h1M39 38.5h2M47 52.5h1M55 55.5h1M46 57.5h1M46 59.5h1M61 59.5h1M49 65.5h1M68 67.5h1M72 78.5h1M76 81.5h1M77 82.5h1M66 85.5h1M76 90.5h1M81 90.5h1M79 91.5h1M81 91.5h1"/>
<path stroke="rgb(86,86,86)" d="M22 6.5h1M82 11.5h1M95 12.5h1M6 13.5h1M37 13.5h1M55 13.5h1M67 13.5h1M72 13.5h1M87 13.5h1M15 20.5h1M5 21.5h1M8 22.5h1M64 22.5h1M33 23.5h1M27 24.5h1M37 29.5h1M25 32.5h1M48 52.5h1M58 57.5h1M46 58.5h1M59 58.5h1M47 62.5h1M66 63.5h1M67 65.5h1M69 70.5h1M70 74.5h1M61 80.5h1M79 86.5h1M80 91.5h1"/>
<path stroke="rgb(88,88,88)" d="M24 11.5h1M84 12.5h1M28 13.5h1M40 13.5h1M56 13.5h1M66 13.5h1M73 13.5h1M75 13.5h2M13 15.5h1M10 16.5h2M23 21.5h1M9 22.5h2M39 22.5h1M61 22.5h1M63 22.5h1M33 24.5h1M25 26.5h1M40 34.5h1M47 53.5h1M58 77.5h1M71 77.5h1M74 80.5h1M78 84.5h1M69 86.5h1M80 88.5h1"/>
<path stroke="rgb(90,90,90)" d="M80 12.5h1M38 13.5h2M57 13.5h1M74 13.5h1M93 13.5h1M7 14.5h1M24 22.5h1M36 22.5h3M62 22.5h1M26 25.5h1M38 32.5h1M39 33.5h1M37 37.5h1M50 53.5h1M60 59.5h1M65 62.5h1M50 66.5h1M67 66.5h1M51 68.5h1M68 68.5h1M53 71.5h1M63 81.5h1M65 84.5h1"/>
<path stroke="rgb(92,92,92)" d="M98 10.5h1M58 13.5h1M77 13.5h1M86 13.5h1M20 14.5h1M8 15.5h1M12 16.5h1M6 21.5h1M27 23.5h1M35 25.5h1M37 30.5h1M33 34.5h1M40 37.5h1M48 63.5h1M56 74.5h1M57 75.5h1M70 75.5h1M59 78.5h1M60 79.5h1M67 85.5h1M74 89.5h1M77 90.5h1"/>
<path stroke="rgb(94,94,94)" d="M0 13.5h3M59 13.5h1M65 13.5h1M11 21.5h2M35 22.5h1M32 23.5h1M32 24.5h1M27 33.5h1M48 53.5h2M47 54.5h1M52 54.5h1M63 60.5h1M47 61.5h1M49 64.5h1M66 64.5h1M69 71.5h1M54 72.5h1M55 73.5h1M72 79.5h1M62 80.5h1M75 81.5h1M64 82.5h1M79 87.5h1M72 88.5h1M80 89.5h1M80 90.5h1"/>
<path stroke="rgb(96,96,96)" d="M99 10.5h3M9 16.5h1M11 17.5h1M23 20.5h1M13 21.5h2M28 24.5h1M36 26.5h1M54 55.5h1M64 61.5h1M67 67.5h1M52 69.5h1M58 76.5h1M71 78.5h1M73 80.5h1M77 83.5h1M78 85.5h1"/>
<path stroke="rgb(98,98,98)" d="M102 10.5h4M83 12.5h1M3 13.5h1M5 13.5h1M60 13.5h1M64 13.5h1M78 13.5h1M94 13.5h1M14 15.5h1M10 17.5h1M12 17.5h1M11 18.5h1M11 19.5h1M15 19.5h1M23 19.5h1M11 20.5h1M10 21.5h1M35 35.5h1M36 36.5h1M47 55.5h1M56 56.5h1M51 67.5h1M68 69.5h1M69 72.5h1M70 76.5h1M76 82.5h1M78 90.5h2"/>
<path stroke="rgb(100,100,100)" d="M81 12.5h1M61 13.5h1M85 13.5h1M15 15.5h1M13 16.5h1M10 18.5h1M12 18.5h1M10 19.5h1M12 19.5h1M0 20.5h3M10 20.5h1M12 20.5h1M7 21.5h1M9 21.5h1M34 22.5h1M31 24.5h1M40 36.5h1M47 60.5h1M50 65.5h1M66 65.5h1M61 79.5h1M65 83.5h1M68 85.5h1M71 87.5h1"/>
<path stroke="rgb(102,102,102)" d="M97 11.5h1M82 12.5h1M4 13.5h1M27 13.5h1M62 13.5h2M3 20.5h2M8 21.5h1M95 21.5h3M25 22.5h1M28 23.5h1M31 23.5h1M29 24.5h2M25 27.5h1M25 31.5h1M28 33.5h1M38 37.5h2M47 56.5h1M62 60.5h1M48 62.5h1M69 73.5h1M57 74.5h1M59 77.5h1M74 81.5h1M66 84.5h1M78 86.5h1M79 88.5h1M75 89.5h1"/>
<path stroke="rgb(104,104,104)" d="M16 10.5h1M6 14.5h1M45 14.5h1M89 14.5h2M9 17.5h1M13 17.5h1M13 20.5h1M94 21.5h1M37 31.5h1M34 34.5h1M40 35.5h1M51 54.5h1M47 57.5h1M47 59.5h1M59 59.5h1M61 60.5h1M66 66.5h1M53 70.5h1M56 73.5h1M58 75.5h1M70 77.5h1M60 78.5h1M70 86.5h1M79 89.5h1"/>
<path stroke="rgb(106,106,106)" d="M96 12.5h1M20 13.5h1M79 13.5h1M44 14.5h1M46 14.5h1M91 14.5h1M7 15.5h1M8 16.5h1M9 18.5h1M13 18.5h1M9 19.5h1M13 19.5h1M5 20.5h1M9 20.5h1M43 21.5h1M90 21.5h4M98 21.5h1M29 23.5h2M27 25.5h1M34 25.5h1M48 54.5h1M57 57.5h1M47 58.5h1M58 58.5h1M67 68.5h1M68 70.5h1M69 74.5h1M71 79.5h1M63 80.5h1M72 80.5h1M64 81.5h1M77 84.5h1"/>
<path stroke="rgb(108,108,108)" d="M25 13.5h1M0 14.5h3M43 14.5h1M47 14.5h1M88 14.5h1M14 16.5h1M15 18.5h1M14 20.5h1M42 21.5h1M44 21.5h1M89 21.5h1M99 21.5h1M33 22.5h1M25 28.5h1M29 33.5h1M53 55.5h1M65 63.5h1M51 66.5h1M52 68.5h1M54 71.5h1M55 72.5h1M65 82.5h1M75 82.5h1M78 87.5h1M73 88.5h1M76 89.5h1"/>
<path stroke="rgb(110,110,110)" d="M16 11.5h1M84 13.5h1M95 13.5h1M87 14.5h1M92 14.5h1M16 17.5h1M6 20.5h1M8 20.5h1M45 21.5h2M54 21.5h3M83 21.5h2M25 29.5h1M25 30.5h1M49 54.5h2M55 56.5h1M48 61.5h1M49 63.5h1M66 67.5h1M69 75.5h1M59 76.5h1M62 79.5h1M67 84.5h1M78 89.5h1"/>
<path stroke="rgb(112,112,112)" d="M3 14.5h1M5 14.5h1M42 14.5h1M48 14.5h1M93 14.5h1M15 16.5h1M8 17.5h1M14 17.5h1M14 18.5h1M0 19.5h3M14 19.5h1M7 20.5h1M47 21.5h1M53 21.5h1M57 21.5h1M67 21.5h1M77 21.5h2M82 21.5h1M88 21.5h1M100 21.5h1M30 33.5h1M60 60.5h1M68 71.5h1M70 78.5h1M73 81.5h1M66 83.5h1M76 83.5h1M69 85.5h1M78 88.5h1M77 89.5h1"/>
<path stroke="rgb(114,114,114)" d="M4 14.5h1M33 14.5h3M53 14.5h2M67 14.5h3M86 14.5h1M0 15.5h3M90 15.5h1M15 17.5h1M8 18.5h1M3 19.5h1M8 19.5h1M41 21.5h1M48 21.5h1M58 21.5h1M66 21.5h1M68 21.5h1M76 21.5h1M79 21.5h1M81 21.5h1M85 21.5h3M101 21.5h1M26 22.5h1M33 25.5h1M36 27.5h1M26 32.5h1M38 33.5h1M39 34.5h1M48 55.5h1M63 61.5h1M50 64.5h1M65 64.5h1M67 69.5h1M57 73.5h1M58 74.5h1M60 77.5h1M61 78.5h1M77 85.5h1"/>
<path stroke="rgb(116,116,116)" d="M23 9.5h1M98 11.5h1M16 12.5h1M26 13.5h1M80 13.5h1M31 14.5h2M49 14.5h1M52 14.5h1M55 14.5h1M70 14.5h1M94 14.5h1M6 15.5h1M45 15.5h1M89 15.5h1M91 15.5h1M0 16.5h3M7 16.5h1M90 16.5h1M0 18.5h3M4 19.5h1M90 20.5h1M94 20.5h3M49 21.5h1M52 21.5h1M59 21.5h1M69 21.5h1M75 21.5h1M80 21.5h1M26 26.5h1M64 62.5h1M69 76.5h1M71 80.5h1M72 87.5h1"/>
<path stroke="rgb(118,118,118)" d="M83 13.5h1M30 14.5h1M36 14.5h1M50 14.5h2M56 14.5h1M66 14.5h1M71 14.5h1M85 14.5h1M95 14.5h1M3 15.5h1M44 15.5h1M46 15.5h1M88 15.5h1M92 15.5h1M89 16.5h1M91 16.5h1M0 17.5h3M7 17.5h1M89 17.5h3M3 18.5h1M7 18.5h1M90 18.5h2M95 18.5h1M5 19.5h3M90 19.5h2M95 19.5h1M43 20.5h1M91 20.5h3M97 20.5h1M24 21.5h1M35 21.5h1M50 21.5h2M65 21.5h1M70 21.5h5M102 21.5h4M32 22.5h1M28 25.5h1M37 32.5h1M31 33.5h1M39 36.5h1M52 55.5h1M48 60.5h1M65 65.5h1M66 68.5h1M53 69.5h1M56 72.5h1M68 72.5h1M63 79.5h1M70 79.5h1M64 80.5h1M65 81.5h1M74 82.5h1M74 88.5h1"/>
<path stroke="rgb(120,120,120)" d="M99 11.5h1M96 13.5h1M29 14.5h1M41 14.5h1M57 14.5h1M77 14.5h1M4 15.5h2M43 15.5h1M47 15.5h1M93 15.5h3M3 16.5h1M6 16.5h1M44 16.5h3M88 16.5h1M92 16.5h4M3 17.5h1M44 17.5h2M92 17.5h5M21 18.5h1M44 18.5h1M89 18.5h1M92 18.5h3M96 18.5h1M89 19.5h1M92 19.5h3M96 19.5h1M44 20.5h2M89 20.5h1M36 21.5h1M40 21.5h1M60 21.5h1M32 25.5h1M37 36.5h1M48 56.5h1M49 62.5h1M51 65.5h1M52 67.5h1M68 73.5h1M59 75.5h1M69 77.5h1M72 81.5h1M66 82.5h1M68 84.5h1M71 86.5h1M77 86.5h1M77 88.5h1"/>
<path stroke="rgb(122,122,122)" d="M100 11.5h2M20 12.5h1M97 12.5h1M16 13.5h1M81 13.5h2M58 14.5h1M72 14.5h1M76 14.5h1M78 14.5h1M84 14.5h1M96 14.5h1M86 15.5h2M96 15.5h1M4 16.5h2M43 16.5h1M47 16.5h1M96 16.5h1M4 17.5h1M6 17.5h1M43 17.5h1M46 17.5h1M88 17.5h1M4 18.5h3M43 18.5h1M45 18.5h2M43 19.5h3M97 19.5h1M42 20.5h1M46 20.5h1M54 20.5h2M98 20.5h1M34 21.5h1M37 21.5h1M29 25.5h1M31 25.5h1M36 28.5h1M35 34.5h1M54 56.5h1M58 59.5h1M65 66.5h1M67 70.5h1M62 78.5h1M67 83.5h1M77 87.5h1"/>
<path stroke="rgb(124,124,124)" d="M102 11.5h4M37 14.5h1M59 14.5h1M65 14.5h1M73 14.5h1M75 14.5h1M42 15.5h1M48 15.5h1M53 15.5h2M67 15.5h2M84 15.5h2M54 16.5h1M84 16.5h4M97 16.5h1M5 17.5h1M47 17.5h1M54 17.5h1M84 17.5h1M97 17.5h1M47 18.5h1M54 18.5h2M84 18.5h1M88 18.5h1M97 18.5h1M42 19.5h1M46 19.5h1M54 19.5h2M88 19.5h1M47 20.5h1M53 20.5h1M56 20.5h2M67 20.5h1M83 20.5h2M88 20.5h1M39 21.5h1M64 21.5h1M30 25.5h1M35 26.5h1M36 29.5h1M49 55.5h1M51 55.5h1M48 57.5h1M56 57.5h1M48 59.5h1M59 60.5h1M62 61.5h1M54 70.5h1M55 71.5h1M58 73.5h1M68 74.5h1M60 76.5h1M61 77.5h1M75 83.5h1M76 84.5h1M70 85.5h1M75 88.5h2"/>
<path stroke="rgb(126,126,126)" d="M16 14.5h1M40 14.5h1M74 14.5h1M55 15.5h1M69 15.5h1M97 15.5h1M16 16.5h1M42 16.5h1M48 16.5h1M53 16.5h1M55 16.5h1M67 16.5h2M83 16.5h1M42 17.5h1M48 17.5h1M53 17.5h1M55 17.5h1M67 17.5h2M83 17.5h1M85 17.5h3M42 18.5h1M53 18.5h1M56 18.5h1M67 18.5h1M83 18.5h1M85 18.5h1M87 18.5h1M47 19.5h1M53 19.5h1M56 19.5h1M67 19.5h1M83 19.5h3M98 19.5h1M48 20.5h1M58 20.5h1M66 20.5h1M68 20.5h1M77 20.5h2M82 20.5h1M85 20.5h1M87 20.5h1M99 20.5h1M38 21.5h1M61 21.5h1M27 22.5h1M31 22.5h1M36 35.5h1M50 55.5h1M48 58.5h1M57 58.5h1M65 67.5h1M69 78.5h1M73 82.5h1"/>
<path stroke="rgb(128,128,128)" d="M97 13.5h1M60 14.5h1M79 14.5h1M83 14.5h1M97 14.5h1M16 15.5h1M34 15.5h1M49 15.5h1M52 15.5h1M56 15.5h1M66 15.5h1M70 15.5h1M83 15.5h1M98 15.5h1M52 16.5h1M56 16.5h1M66 16.5h1M69 16.5h1M98 16.5h1M52 17.5h1M56 17.5h1M66 17.5h1M69 17.5h1M98 17.5h1M48 18.5h1M52 18.5h1M57 18.5h1M66 18.5h1M68 18.5h1M86 18.5h1M98 18.5h1M48 19.5h1M52 19.5h1M57 19.5h1M66 19.5h1M68 19.5h1M86 19.5h2M41 20.5h1M49 20.5h1M52 20.5h1M69 20.5h1M76 20.5h1M79 20.5h1M81 20.5h1M86 20.5h1M33 21.5h1M63 21.5h1M32 33.5h1M38 36.5h1M66 69.5h1M57 72.5h1M59 74.5h1M68 75.5h1M64 79.5h1M69 79.5h1M65 80.5h1M70 80.5h1M66 81.5h1M71 81.5h1M67 82.5h1M68 83.5h1M69 84.5h1M73 87.5h1"/>
<path stroke="rgb(130,130,130)" d="M28 14.5h1M38 14.5h2M64 14.5h1M98 14.5h1M33 15.5h1M35 15.5h1M50 15.5h2M57 15.5h1M71 15.5h1M77 15.5h2M99 15.5h1M49 16.5h1M57 16.5h1M70 16.5h1M82 16.5h1M99 16.5h1M49 17.5h1M57 17.5h2M70 17.5h1M77 17.5h1M82 17.5h1M99 17.5h1M49 18.5h1M58 18.5h1M69 18.5h1M77 18.5h2M82 18.5h1M49 19.5h1M58 19.5h1M69 19.5h1M77 19.5h2M82 19.5h1M99 19.5h1M24 20.5h1M34 20.5h2M50 20.5h2M59 20.5h1M70 20.5h2M75 20.5h1M80 20.5h1M100 20.5h1M62 21.5h1M39 35.5h1M49 61.5h1M61 61.5h1M50 63.5h1M52 66.5h1M67 71.5h1M68 76.5h1M63 78.5h1M76 87.5h1"/>
<path stroke="rgb(132,132,132)" d="M98 12.5h1M82 14.5h1M99 14.5h2M32 15.5h1M41 15.5h1M58 15.5h1M76 15.5h1M82 15.5h1M100 15.5h1M50 16.5h2M58 16.5h1M71 16.5h1M77 16.5h2M100 16.5h1M50 17.5h2M71 17.5h1M78 17.5h1M50 18.5h2M59 18.5h1M70 18.5h2M76 18.5h1M79 18.5h1M99 18.5h1M41 19.5h1M50 19.5h2M59 19.5h1M70 19.5h2M76 19.5h1M79 19.5h1M81 19.5h1M36 20.5h1M65 20.5h1M72 20.5h3M25 21.5h1M28 22.5h1M30 22.5h1M36 30.5h1M37 33.5h1M49 56.5h1M53 56.5h1M53 68.5h1M60 75.5h1M62 77.5h1M72 82.5h1M76 85.5h1"/>
<path stroke="rgb(134,134,134)" d="M98 13.5h1M61 14.5h1M80 14.5h1M101 14.5h1M31 15.5h1M36 15.5h1M59 15.5h1M65 15.5h1M72 15.5h1M79 15.5h1M101 15.5h1M34 16.5h2M59 16.5h1M65 16.5h1M76 16.5h1M79 16.5h1M81 16.5h1M101 16.5h1M41 17.5h1M59 17.5h1M65 17.5h1M76 17.5h1M79 17.5h1M81 17.5h1M100 17.5h1M41 18.5h1M65 18.5h1M80 18.5h2M100 18.5h1M24 19.5h1M34 19.5h2M65 19.5h1M72 19.5h1M75 19.5h1M80 19.5h1M100 19.5h1M33 20.5h1M60 20.5h1M101 20.5h1M32 21.5h1M29 22.5h1M64 63.5h1M51 64.5h1M65 68.5h1M56 71.5h1M67 72.5h1M61 76.5h1M68 77.5h1M65 79.5h1M66 80.5h1M69 80.5h1M67 81.5h1M70 81.5h1M68 82.5h1M74 83.5h1M72 86.5h1M76 86.5h1M74 87.5h1"/>
<path stroke="rgb(136,136,136)" d="M99 12.5h3M99 13.5h3M62 14.5h2M81 14.5h1M75 15.5h1M80 15.5h2M33 16.5h1M41 16.5h1M72 16.5h1M80 16.5h1M34 17.5h2M72 17.5h1M75 17.5h1M80 17.5h1M101 17.5h1M34 18.5h2M72 18.5h1M75 18.5h1M73 19.5h2M40 20.5h1M102 20.5h4M38 34.5h1M55 57.5h1M49 60.5h1M60 61.5h1M63 62.5h1M66 70.5h1M67 73.5h1M64 78.5h1M68 78.5h1M68 79.5h1M71 82.5h1M69 83.5h1M71 85.5h1M75 87.5h1"/>
<path stroke="rgb(138,138,138)" d="M24 12.5h1M102 12.5h4M25 14.5h1M102 14.5h4M30 15.5h1M60 15.5h1M73 15.5h2M102 15.5h4M36 16.5h1M60 16.5h1M75 16.5h1M102 16.5h4M60 17.5h1M73 17.5h2M60 18.5h1M73 18.5h2M101 18.5h1M33 19.5h1M36 19.5h1M60 19.5h1M101 19.5h1M37 20.5h1M64 20.5h1M26 27.5h1M27 32.5h1M33 33.5h1M36 34.5h1M50 62.5h1M64 64.5h1M54 69.5h1M59 73.5h1M67 74.5h1M63 77.5h1M66 79.5h2M67 80.5h2M68 81.5h2M69 82.5h1M70 84.5h1M75 84.5h1"/>
<path stroke="rgb(140,140,140)" d="M102 13.5h4M37 15.5h1M32 16.5h1M73 16.5h2M33 17.5h1M36 17.5h1M102 17.5h4M33 18.5h1M36 18.5h1M40 19.5h1M27 26.5h1M26 31.5h1M36 31.5h1M50 56.5h1M52 56.5h1M49 57.5h1M64 65.5h1M55 70.5h1M58 72.5h1M60 74.5h1M67 75.5h1M62 76.5h1M65 78.5h1M67 78.5h1M70 82.5h1M70 83.5h1M73 83.5h1"/>
<path stroke="rgb(142,142,142)" d="M20 11.5h1M40 15.5h1M64 15.5h1M64 16.5h1M64 17.5h1M40 18.5h1M64 18.5h1M102 18.5h4M37 19.5h1M64 19.5h1M102 19.5h4M32 20.5h1M38 20.5h2M61 20.5h1M26 21.5h1M31 21.5h1M34 33.5h1M36 33.5h1M51 56.5h1M49 59.5h1M52 65.5h1M64 66.5h1M53 67.5h1M65 69.5h1M66 71.5h1M61 75.5h1M67 76.5h1M67 77.5h1M66 78.5h1M71 83.5h2M73 86.5h1M75 86.5h1"/>
<path stroke="rgb(144,144,144)" d="M29 15.5h1M61 15.5h1M31 16.5h1M37 16.5h1M40 16.5h1M61 16.5h1M32 17.5h1M40 17.5h1M61 17.5h1M61 18.5h1M32 19.5h1M61 19.5h1M25 20.5h1M63 20.5h1M34 26.5h1M36 32.5h1M35 33.5h1M49 58.5h1M56 58.5h1M57 59.5h1M58 60.5h1M57 71.5h1M64 77.5h1M66 77.5h1M75 85.5h1"/>
<path stroke="rgb(146,146,146)" d="M27 14.5h1M38 15.5h2M63 15.5h1M37 17.5h1M32 18.5h1M37 18.5h1M39 19.5h1M62 20.5h1M37 34.5h1M37 35.5h1M54 57.5h1M64 67.5h1M66 72.5h1M66 73.5h1M66 74.5h1M63 76.5h1M66 76.5h1M65 77.5h1M71 84.5h1M74 84.5h1M72 85.5h1M74 86.5h1"/>
<path stroke="rgb(148,148,148)" d="M62 15.5h1M62 16.5h2M62 17.5h2M39 18.5h1M63 18.5h1M25 19.5h1M38 19.5h1M62 19.5h2M31 20.5h1M35 27.5h1M26 28.5h1M38 35.5h1M50 61.5h1M59 61.5h1M62 62.5h1M65 70.5h1M60 73.5h1M61 74.5h1M62 75.5h1M66 75.5h1M64 76.5h2"/>
<path stroke="rgb(150,150,150)" d="M21 4.5h1M30 16.5h1M38 16.5h2M38 17.5h2M38 18.5h1M62 18.5h1M30 21.5h1M26 29.5h1M26 30.5h1M50 57.5h1M51 63.5h1M64 68.5h1M56 70.5h1M59 72.5h1M72 84.5h2M73 85.5h2"/>
<path stroke="rgb(152,152,152)" d="M31 17.5h1M31 19.5h1M27 21.5h1M54 68.5h1M65 74.5h1M63 75.5h3"/>
<path stroke="rgb(154,154,154)" d="M26 14.5h1M31 18.5h1M28 26.5h1M28 32.5h1M53 57.5h1M50 60.5h1M61 62.5h1M53 66.5h1M55 69.5h1M58 71.5h1M65 71.5h1M65 72.5h1M65 73.5h1M62 74.5h1"/>
<path stroke="rgb(156,156,156)" d="M28 15.5h1M26 20.5h1M29 21.5h1M33 26.5h1M51 57.5h1M50 58.5h1M63 63.5h1M64 69.5h1M61 73.5h1M63 74.5h2"/>
<path stroke="rgb(158,158,158)" d="M25 15.5h1M29 16.5h1M30 17.5h1M30 20.5h1M28 21.5h1M35 28.5h1M52 57.5h1M55 58.5h1M50 59.5h1M51 62.5h1M52 64.5h1M64 73.5h1"/>
<path stroke="rgb(160,160,160)" d="M26 19.5h1M29 26.5h1M32 26.5h1M63 64.5h1M57 70.5h1M64 70.5h1M60 72.5h1M62 73.5h2"/>
<path stroke="rgb(162,162,162)" d="M26 18.5h1M30 18.5h1M30 19.5h1M30 26.5h2M35 29.5h1M29 32.5h1M56 59.5h1M60 62.5h1M63 65.5h1M63 66.5h1M54 67.5h1M64 71.5h1M64 72.5h1"/>
<path stroke="rgb(164,164,164)" d="M20 10.5h1M26 17.5h1M27 20.5h1M35 32.5h1M57 60.5h1M63 67.5h1M59 71.5h1"/>
<path stroke="rgb(166,166,166)" d="M29 20.5h1M27 27.5h1M30 32.5h1M51 58.5h1M54 58.5h1M51 61.5h1M58 61.5h1M53 65.5h1M56 69.5h1M61 72.5h1M63 72.5h1"/>
<path stroke="rgb(168,168,168)" d="M29 17.5h1M28 20.5h1M51 59.5h1M51 60.5h1M55 68.5h1M63 68.5h1M58 70.5h1M62 72.5h1"/>
<path stroke="rgb(170,170,170)" d="M26 15.5h1M26 16.5h1M21 17.5h1M29 18.5h1M27 19.5h1M29 19.5h1M35 30.5h1M27 31.5h1M52 58.5h2M62 63.5h1M63 69.5h1M63 70.5h1M63 71.5h1"/>
<path stroke="rgb(172,172,172)" d="M22 7.5h1M28 16.5h1M27 18.5h1M55 59.5h1M60 71.5h1"/>
<path stroke="rgb(174,174,174)" d="M27 15.5h1M28 18.5h1M28 19.5h1M34 27.5h1M35 31.5h1M31 32.5h1M59 62.5h1M52 63.5h1M54 66.5h1M57 69.5h1M61 71.5h2"/>
<path stroke="rgb(176,176,176)" d="M27 17.5h1M52 59.5h1M62 64.5h1M59 70.5h1"/>
<path stroke="rgb(178,178,178)" d="M28 17.5h1M27 28.5h1M34 32.5h1M54 59.5h1M56 60.5h1M52 62.5h1M61 63.5h1M62 65.5h1M55 67.5h1M56 68.5h1M62 70.5h1"/>
<path stroke="rgb(180,180,180)" d="M32 32.5h1M53 59.5h1M52 60.5h1M53 64.5h1M62 66.5h1M62 67.5h1M62 68.5h1M62 69.5h1"/>
<path stroke="rgb(182,182,182)" d="M23 10.5h1M27 16.5h1M27 29.5h1M27 30.5h1M52 61.5h1M57 61.5h1M58 69.5h1M60 70.5h2"/>
<path stroke="rgb(184,184,184)" d="M28 27.5h1M33 32.5h1M54 65.5h1"/>
<path stroke="rgb(186,186,186)" d="M34 28.5h1M57 68.5h1"/>
<path stroke="rgb(188,188,188)" d="M33 27.5h1M53 60.5h1M55 60.5h1M58 62.5h1M60 63.5h1M61 64.5h1M55 66.5h1M56 67.5h1M59 69.5h1M61 69.5h1"/>
<path stroke="rgb(190,190,190)" d="M20 9.5h1M24 13.5h1M21 16.5h1M34 29.5h1M28 31.5h1M54 60.5h1M61 65.5h1M61 68.5h1M60 69.5h1"/>
<path stroke="rgb(192,192,192)" d="M29 27.5h1M32 27.5h1M61 66.5h1M61 67.5h1"/>
<path stroke="rgb(194,194,194)" d="M30 27.5h2M53 61.5h1M53 62.5h1M53 63.5h1M58 68.5h1"/>
<path stroke="rgb(196,196,196)" d="M56 61.5h1M60 64.5h1M57 67.5h1M59 68.5h2"/>
<path stroke="rgb(198,198,198)" d="M28 28.5h1M34 30.5h1M34 31.5h1M59 63.5h1M54 64.5h1M56 66.5h1M60 67.5h1"/>
<path stroke="rgb(200,200,200)" d="M33 28.5h1M29 31.5h1M54 61.5h2M55 65.5h1M60 65.5h1M60 66.5h1"/>
<path stroke="rgb(202,202,202)" d="M22 18.5h1M28 29.5h1M57 62.5h1M58 67.5h2"/>
<path stroke="rgb(204,204,204)" d="M25 16.5h1M28 30.5h1"/>
<path stroke="rgb(206,206,206)" d="M29 28.5h1M32 28.5h1M33 29.5h1M30 31.5h1M54 62.5h1M59 64.5h1M59 65.5h1M57 66.5h1M59 66.5h1"/>
<path stroke="rgb(208,208,208)" d="M21 15.5h1M30 28.5h2M54 63.5h1M56 65.5h1M58 66.5h1"/>
<path stroke="rgb(210,210,210)" d="M29 29.5h1M31 31.5h1M33 31.5h1M55 62.5h2M58 63.5h1M55 64.5h1"/>
<path stroke="rgb(212,212,212)" d="M30 29.5h3M57 65.5h2"/>
<path stroke="rgb(214,214,214)" d="M29 30.5h1M33 30.5h1M32 31.5h1M58 64.5h1"/>
<path stroke="rgb(216,216,216)" d="M20 8.5h1M25 18.5h1"/>
<path stroke="rgb(218,218,218)" d="M21 5.5h1M30 30.5h1M55 63.5h1M57 63.5h1M56 64.5h2"/>
<path stroke="rgb(220,220,220)" d="M31 30.5h2"/>
<path stroke="rgb(222,222,222)" d="M56 63.5h1"/>
<path stroke="rgb(228,228,228)" d="M21 14.5h1"/>
<path stroke="rgb(234,234,234)" d="M20 0.5h1M20 1.5h1M20 2.5h1M20 4.5h1M23 11.5h1M24 14.5h1M23 18.5h1"/>
<path stroke="rgb(236,236,236)" d="M20 3.5h1"/>
<path stroke="rgb(238,238,238)" d="M24 18.5h1"/>
<path stroke="rgb(240,240,240)" d="M20 5.5h1M20 7.5h1M22 8.5h1"/>
<path stroke="rgb(242,242,242)" d="M25 17.5h1"/>
<path stroke="rgb(248,248,248)" d="M20 6.5h1M21 13.5h1"/>
<path stroke="rgb(255,255,255)" d="M21 6.5h1M21 7.5h1M21 8.5h1M21 9.5h2M21 10.5h2M21 11.5h2M21 12.5h3M22 13.5h2M22 14.5h2M22 15.5h3M22 16.5h3M22 17.5h3"/>
</g></g>
<defs><linearGradient id="cb" x1="0" y1="0" x2="0" y2="1"><stop offset="0.0125" stop-color="#7a2c78"/><stop offset="0.0625" stop-color="#8a2a88"/><stop offset="0.1062" stop-color="#a0309a"/><stop offset="0.1500" stop-color="#b83090"/><stop offset="0.1875" stop-color="#c83070"/><stop offset="0.2188" stop-color="#d83850"/><stop offset="0.2594" stop-color="#e03a30"/><stop offset="0.2906" stop-color="#e84028"/><stop offset="0.3125" stop-color="#e85a28"/><stop offset="0.3375" stop-color="#f07030"/><stop offset="0.3844" stop-color="#f08828"/><stop offset="0.4375" stop-color="#f5a020"/><stop offset="0.4750" stop-color="#f8b818"/><stop offset="0.5156" stop-color="#fcd020"/><stop offset="0.5625" stop-color="#fde830"/><stop offset="0.6000" stop-color="#e8e030"/><stop offset="0.6312" stop-color="#c0d838"/><stop offset="0.6625" stop-color="#98c840"/><stop offset="0.6875" stop-color="#80c040"/><stop offset="0.7250" stop-color="#50b040"/><stop offset="0.7562" stop-color="#20a850"/><stop offset="0.7812" stop-color="#10a080"/><stop offset="0.8125" stop-color="#00a8b8"/><stop offset="0.8438" stop-color="#00b6e2"/><stop offset="0.8719" stop-color="#00a4dc"/><stop offset="0.8875" stop-color="#0898d4"/><stop offset="0.9031" stop-color="#1088c8"/><stop offset="0.9156" stop-color="#2868b0"/><stop offset="0.9375" stop-color="#3060b0"/><stop offset="0.9563" stop-color="#3850a8"/><stop offset="0.9812" stop-color="#4038a0"/><stop offset="1.0000" stop-color="#403090"/></linearGradient></defs><rect x="1413" y="134.3" width="34" height="640.2" fill="url(#cb)"/><rect x="1413" y="774.5" width="34" height="2" fill="#8088c8"/>
<g font-family="'Liberation Sans',Arial,sans-serif" fill="#1a1a1a">
<text x="1413" y="47" font-size="55.5" font-weight="bold">F</text>
<text x="1409.5" y="111" font-size="38.8">mmHg</text>
<rect x="1451" y="735.6" width="18" height="2" fill="#1a1a1a"/>
<text x="1481.5" y="749.9" font-size="37.5">0</text>
<rect x="1451" y="655.1" width="18" height="2" fill="#1a1a1a"/>
<text x="1481.5" y="669.4" font-size="37.5">20</text>
<rect x="1451" y="574.6" width="18" height="2" fill="#1a1a1a"/>
<text x="1481.5" y="588.9" font-size="37.5">40</text>
<rect x="1451" y="494.1" width="18" height="2" fill="#1a1a1a"/>
<text x="1481.5" y="508.4" font-size="37.5">60</text>
<rect x="1451" y="413.6" width="18" height="2" fill="#1a1a1a"/>
<text x="1481.5" y="427.9" font-size="37.5">80</text>
<rect x="1451" y="333.1" width="18" height="2" fill="#1a1a1a"/>
<text x="1481.5" y="347.4" font-size="37.5">100</text>
<rect x="1451" y="252.6" width="18" height="2" fill="#1a1a1a"/>
<text x="1481.5" y="266.9" font-size="37.5">120</text>
<rect x="1451" y="172.1" width="18" height="2" fill="#1a1a1a"/>
<text x="1481.5" y="186.4" font-size="37.5">140</text>
<text x="2194.5" y="49.5" font-size="35.5" text-anchor="middle">19</text>
<text x="2191.5" y="163" font-size="35.5" text-anchor="middle">24</text>
<text x="2195.5" y="282" font-size="35.5" text-anchor="middle">29</text>
<text x="2193.5" y="391.5" font-size="35.5" text-anchor="middle">34</text>
<text x="2193.5" y="498.5" font-size="35.5" text-anchor="middle">39</text>
<text x="2192.5" y="616" font-size="35.5" text-anchor="middle">44</text>
<text x="2197" y="727.5" font-size="35.5" text-anchor="middle">49</text>
<text x="2194" y="842" font-size="35.5" text-anchor="middle">54</text>
<circle cx="2194.5" cy="59" r="2.9"/>
<circle cx="2194.5" cy="80" r="2.9"/>
<circle cx="2194.5" cy="103" r="2.9"/>
<circle cx="2194.5" cy="125" r="2.9"/>
<circle cx="2194.5" cy="172" r="2.9"/>
<circle cx="2194.5" cy="194" r="2.9"/>
<circle cx="2194.5" cy="216" r="2.9"/>
<circle cx="2194.5" cy="239" r="2.9"/>
<circle cx="2194.5" cy="286" r="2.9"/>
<circle cx="2194.5" cy="307" r="2.9"/>
<circle cx="2194.5" cy="329" r="2.9"/>
<circle cx="2194.5" cy="350" r="2.9"/>
<circle cx="2194.5" cy="399" r="2.9"/>
<circle cx="2194.5" cy="421" r="2.9"/>
<circle cx="2194.5" cy="442" r="2.9"/>
<circle cx="2194.5" cy="465" r="2.9"/>
<circle cx="2194.5" cy="512" r="2.9"/>
<circle cx="2194.5" cy="534" r="2.9"/>
<circle cx="2194.5" cy="557" r="2.9"/>
<circle cx="2194.5" cy="580" r="2.9"/>
<circle cx="2194.5" cy="627" r="2.9"/>
<circle cx="2194.5" cy="649" r="2.9"/>
<circle cx="2194.5" cy="672" r="2.9"/>
<circle cx="2194.5" cy="694" r="2.9"/>
<circle cx="2194.5" cy="740" r="2.9"/>
<circle cx="2194.5" cy="762" r="2.9"/>
<circle cx="2194.5" cy="784" r="2.9"/>
<circle cx="2194.5" cy="807" r="2.9"/>
<text transform="translate(2240.5 302) rotate(90)" font-size="38.5">Cm from Nares</text>
<text x="2063" y="129.5" font-size="39">UES</text>
<text x="2069" y="615.5" font-size="39">LES</text>
<text x="1829" y="199" font-size="36.4">Striated Muscle</text>
<text x="1897" y="285" font-size="36.5">Transition Zone</text>
<text x="1663" y="450.5" font-size="36">Smooth</text>
<text x="1663" y="495.5" font-size="36">Muscle</text>
<text x="1921" y="792" font-size="36">3 sec</text>
<text x="1648" y="144" font-size="36">*</text>
<text x="1723" y="638" font-size="36">**</text>
</g>
<rect x="1907.5" y="799" width="116" height="5" fill="#1a1a1a"/>
<path d="M1577 364.5H1640" stroke="#1a1a1a" stroke-width="3" fill="none"/><path d="M1647 364.5L1635 358.5L1635 370.5Z" fill="#1a1a1a"/>
<path d="M1801 146 Q1812 146 1812 157 L1812 175.5 Q1812 186.5 1823 186.5 Q1812 186.5 1812 197.5 L1812 216 Q1812 227 1801 227" fill="none" stroke="#1a1a1a" stroke-width="3.2" stroke-linejoin="round" stroke-linecap="round"/>
<path d="M1870 227 Q1881 227 1881 238 L1881 262.0 Q1881 273.0 1892 273.0 Q1881 273.0 1881 284.0 L1881 308 Q1881 319 1870 319" fill="none" stroke="#1a1a1a" stroke-width="3.2" stroke-linejoin="round" stroke-linecap="round"/>
<path d="M1814 318 Q1803 318 1803 329 L1803 446.0 Q1803 457.0 1792 457.0 Q1803 457.0 1803 468.0 L1803 585 Q1803 596 1814 596" fill="none" stroke="#1a1a1a" stroke-width="3.2" stroke-linejoin="round" stroke-linecap="round"/>
</svg>
</body></html>
